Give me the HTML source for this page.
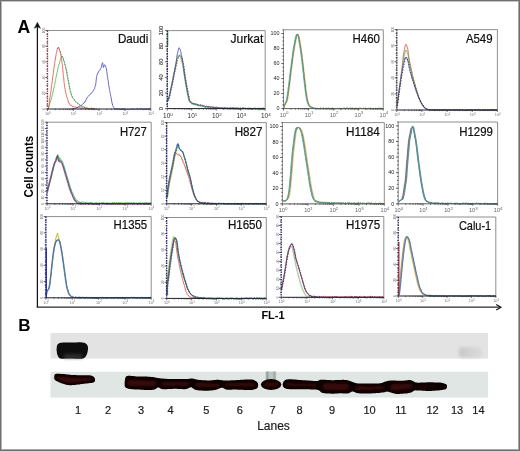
<!DOCTYPE html>
<html><head><meta charset="utf-8"><style>
html,body{margin:0;padding:0;background:#fff;}
svg{display:block;filter:blur(0.35px);}
text{font-family:'Liberation Sans', Arial, Helvetica, sans-serif;}
</style></head><body>
<svg width="520" height="451" viewBox="0 0 520 451">
<defs>
<filter id="b1" x="-20%" y="-50%" width="140%" height="200%"><feGaussianBlur stdDeviation="0.7"/></filter>
<filter id="b2" x="-20%" y="-50%" width="140%" height="200%"><feGaussianBlur stdDeviation="1.4"/></filter>
</defs>
<rect width="520" height="451" fill="#fff"/>
<!-- outer border -->
<rect x="0" y="0" width="1" height="451" fill="#6e6e6e"/>
<rect x="1" y="1" width="1" height="449" fill="#b4b4b4"/>
<rect x="0" y="0" width="520" height="1" fill="#707070"/>
<rect x="1" y="1" width="517" height="1" fill="#c4c4c4"/>
<rect x="519" y="0" width="1" height="451" fill="#6e6e6e"/>
<rect x="518" y="1" width="1" height="449" fill="#a8a8a8"/>
<rect x="0" y="450" width="520" height="1" fill="#6e6e6e"/>
<rect x="1" y="449" width="518" height="1" fill="#a8a8a8"/>

<!-- labels A -->
<text x="17.5" y="32.8" font-size="17.6" font-weight="bold" fill="#000">A</text>
<!-- axes -->
<line x1="37.4" y1="25" x2="37.4" y2="307.4" stroke="#151515" stroke-width="1.25"/>
<path d="M37.4,22.4 L40.4,28.2 L37.4,26.6 L34.4,28.2 Z" fill="#111" stroke="#111" stroke-width="0.6" stroke-linejoin="round"/>
<line x1="36.8" y1="307.2" x2="500" y2="307.2" stroke="#2a2a2a" stroke-width="1.2"/>
<path d="M496.2,304.5 L501,307.2 L496.2,309.9" fill="none" stroke="#111" stroke-width="1.1"/>
<text transform="translate(33,166.6) rotate(-90)" font-size="12" font-weight="bold" text-anchor="middle" textLength="61.6" lengthAdjust="spacingAndGlyphs" fill="#000">Cell counts</text>
<text x="273" y="318.6" font-size="11" font-weight="bold" text-anchor="middle" fill="#000">FL-1</text>

<path d="M47.5,30.5 H150.8 V109" fill="none" stroke="#8e8e8e" stroke-width="1"/>
<path d="M47.9,108.8 L48.1,108.1 L48.4,108.0 L48.6,106.9 L48.8,106.7 L49.1,105.8 L49.3,104.7 L49.6,104.3 L49.9,102.9 L50.2,102.4 L50.5,101.1 L50.8,100.2 L51.0,99.8 L51.2,99.5 L51.4,98.1 L51.6,97.4 L51.8,97.1 L52.0,96.6 L52.2,95.4 L52.4,94.4 L52.6,94.2 L52.8,92.4 L53.0,92.4 L53.2,91.0 L53.4,90.0 L53.6,89.1 L53.8,88.5 L54.0,88.1 L54.2,86.7 L54.3,86.3 L54.5,85.6 L54.7,84.5 L54.8,83.9 L55.0,82.6 L55.2,81.8 L55.3,81.1 L55.5,80.7 L55.6,79.6 L55.8,78.7 L55.9,78.1 L56.1,77.2 L56.3,76.2 L56.4,75.9 L56.6,75.0 L56.7,73.8 L56.9,73.4 L57.0,72.6 L57.2,72.3 L57.4,71.2 L57.6,69.9 L57.8,69.8 L58.0,68.1 L58.2,67.5 L58.4,67.1 L58.6,65.7 L58.8,65.2 L59.0,64.0 L59.2,63.9 L59.4,63.3 L59.6,62.4 L59.9,61.7 L60.2,60.1 L60.5,59.5 L60.8,58.4 L61.1,57.5 L61.4,56.6 L61.7,56.5 L62.0,56.4 L62.4,56.3 L62.8,57.2 L63.1,57.6 L63.5,59.3 L63.7,59.9 L63.9,60.9 L64.1,61.4 L64.3,61.6 L64.5,62.5 L64.7,63.6 L64.9,63.8 L65.1,65.2 L65.3,65.7 L65.5,66.6 L65.7,67.4 L65.9,69.0 L66.1,69.1 L66.2,70.0 L66.4,70.9 L66.5,72.2 L66.7,72.2 L66.8,73.4 L67.0,74.3 L67.1,75.4 L67.3,76.2 L67.4,77.0 L67.5,77.3 L67.7,78.2 L67.8,79.0 L68.0,80.3 L68.1,81.2 L68.3,81.2 L68.5,82.0 L68.6,82.9 L68.8,83.7 L68.9,84.8 L69.1,85.7 L69.2,86.2 L69.4,86.8 L69.6,88.0 L69.7,88.7 L69.9,89.7 L70.1,90.9 L70.3,91.4 L70.5,91.9 L70.7,92.7 L71.0,93.7 L71.3,93.9 L71.6,95.6 L72.0,96.4 L72.3,97.3 L72.7,98.0 L73.1,98.3 L73.5,99.0 L73.9,99.4 L74.4,100.6 L74.9,100.7 L75.5,101.3 L76.1,102.0 L76.7,102.4 L77.3,103.1 L77.9,103.4 L78.5,103.8 L79.2,104.4 L79.9,104.8 L80.6,105.5 L81.3,105.6 L82.0,106.8 L82.7,106.9 L83.5,106.8 L84.4,107.2 L85.3,107.5 L86.2,107.7 L87.1,107.6 L88.0,108.5 L88.8,108.8 L89.7,108.4 L90.5,108.5 L91.4,108.2 L92.3,108.3 L93.2,108.7 L94.1,108.7 L95.0,109.3" fill="none" stroke="#3cb043" stroke-width="0.77" stroke-linejoin="round"/>
<path d="M47.9,108.7 L48.2,108.3 L48.4,108.9 L48.5,108.0 L48.7,107.1 L48.8,106.9 L48.9,105.6 L49.0,105.3 L49.2,104.9 L49.3,103.8 L49.4,102.6 L49.5,101.2 L49.6,100.3 L49.7,99.0 L49.9,98.6 L50.0,97.4 L50.1,97.0 L50.2,95.8 L50.3,94.9 L50.4,94.8 L50.5,94.2 L50.6,93.3 L50.7,92.4 L50.8,91.7 L51.0,90.8 L51.1,89.4 L51.2,88.9 L51.3,87.9 L51.4,86.8 L51.5,86.0 L51.6,85.4 L51.7,84.5 L51.8,84.2 L52.0,83.6 L52.1,82.3 L52.2,81.9 L52.3,81.2 L52.4,80.4 L52.5,79.0 L52.6,78.0 L52.7,77.2 L52.8,76.4 L52.9,75.5 L53.0,75.1 L53.1,74.6 L53.3,73.7 L53.4,72.5 L53.5,71.9 L53.6,71.2 L53.7,69.7 L53.8,69.5 L53.9,68.9 L54.0,68.0 L54.1,67.1 L54.2,66.1 L54.3,65.0 L54.5,64.8 L54.6,63.6 L54.7,63.3 L54.8,62.8 L54.9,61.3 L55.1,60.4 L55.2,60.1 L55.4,59.0 L55.5,57.5 L55.7,56.6 L55.8,55.7 L56.0,55.6 L56.1,54.6 L56.3,53.2 L56.4,53.1 L56.6,52.5 L56.7,51.5 L56.9,50.5 L57.0,50.2 L57.2,49.2 L57.6,48.0 L58.0,48.0 L58.4,47.3 L58.7,47.5 L59.0,48.6 L59.4,49.0 L59.7,50.5 L60.0,51.5 L60.2,51.5 L60.3,52.2 L60.5,53.0 L60.6,53.7 L60.8,54.8 L60.9,55.2 L61.1,56.2 L61.2,56.8 L61.4,58.4 L61.5,58.7 L61.6,59.7 L61.8,60.7 L61.9,61.9 L62.0,62.2 L62.1,63.5 L62.2,63.8 L62.3,64.6 L62.4,65.4 L62.5,65.7 L62.6,66.9 L62.6,67.5 L62.7,68.1 L62.8,69.7 L62.9,69.9 L62.9,71.1 L63.0,72.1 L63.1,72.8 L63.2,73.4 L63.2,74.3 L63.3,75.2 L63.4,76.2 L63.5,76.3 L63.6,77.6 L63.7,78.1 L63.8,78.9 L63.9,80.2 L63.9,80.8 L64.0,81.7 L64.1,82.7 L64.2,83.6 L64.3,84.0 L64.4,84.9 L64.5,85.6 L64.6,86.4 L64.7,87.3 L64.8,87.9 L65.0,88.7 L65.1,89.4 L65.3,90.7 L65.4,91.3 L65.6,92.3 L65.8,93.3 L66.0,93.4 L66.2,94.5 L66.4,95.7 L66.6,96.4 L66.8,96.5 L67.0,97.2 L67.3,98.2 L67.5,98.6 L67.8,99.7 L68.1,100.4 L68.4,101.9 L68.7,102.8 L69.1,103.7 L69.5,103.7 L69.9,104.8 L70.6,105.4 L71.4,105.3 L72.2,106.4 L73.1,106.9 L73.8,106.4 L74.6,107.3 L75.4,106.9 L76.2,107.1 L77.1,107.7 L77.9,107.7 L78.7,107.2 L79.5,107.6 L80.4,107.9 L81.2,107.9 L82.1,107.8 L83.0,108.1 L84.0,108.6 L84.7,108.0 L85.5,108.6 L86.3,108.5 L87.1,108.2 L88.0,108.5 L88.9,108.9 L89.7,108.8 L90.6,108.4 L91.5,109.3 L92.4,109.2 L93.3,109.4 L94.1,108.6 L95.0,108.8" fill="none" stroke="#e23a2a" stroke-width="0.77" stroke-linejoin="round"/>
<path d="M57.8,48.0 L58.2,48.2 L58.6,47.4 L58.9,47.7 L59.3,48.9 L59.6,50.4 L59.9,51.1 L60.1,51.3 L60.4,52.0 L60.7,53.6 L61.0,54.1 L61.4,55.1 L61.7,55.3 L62.1,56.2 L62.5,57.7 L62.8,58.2 L63.1,58.6 L63.4,60.2 L63.7,60.7 L64.0,61.8 L64.2,61.8 L64.5,63.2 L64.7,63.2 L65.0,64.8 L65.2,65.2 L65.5,65.9 L65.7,66.9 L65.9,68.2 L66.2,68.4 L66.4,69.1 L66.6,70.3 L66.7,70.8 L66.9,71.4 L67.1,72.3 L67.2,73.0 L67.4,74.0 L67.6,75.0 L67.7,75.9 L67.9,77.2 L68.0,77.6 L68.2,78.7 L68.3,79.2 L68.5,80.2 L68.6,80.7 L68.8,81.8 L69.0,82.3 L69.1,83.9 L69.3,84.5 L69.4,85.0 L69.6,86.1 L69.7,87.3 L69.9,87.3 L70.1,88.8 L70.2,89.2 L70.4,90.1 L70.6,91.2 L70.8,91.5 L71.0,92.3 L71.2,93.2 L71.5,94.4 L71.8,94.6 L72.1,96.0 L72.5,96.7 L72.8,97.4 L73.2,98.0 L73.6,98.7 L74.0,99.1 L74.4,99.8 L74.9,100.5 L75.4,101.8 L76.0,101.9 L76.6,102.3 L77.2,102.8 L77.8,104.0 L78.4,104.6 L79.1,104.9 L79.9,105.1 L80.7,105.5 L81.5,106.0 L82.4,106.6 L83.2,106.7 L84.0,107.3 L84.9,107.4 L85.8,108.3 L86.7,108.5 L87.6,108.3 L88.5,108.1 L89.3,109.0 L90.1,108.4 L90.9,108.6 L91.7,108.3 L92.5,108.7 L93.4,108.8 L94.2,108.9 L95.0,108.7" fill="none" stroke="#555" stroke-width="0.68" stroke-linejoin="round" stroke-dasharray="1.2,1.6"/>
<path d="M72.0,109.0 L72.8,108.4 L73.6,108.6 L74.4,108.4 L75.2,108.6 L76.0,108.0 L76.8,107.6 L77.7,107.4 L78.5,106.8 L79.3,106.6 L80.0,106.0 L80.9,105.7 L81.7,105.0 L82.5,104.4 L83.1,104.0 L83.8,103.0 L84.4,102.3 L85.0,102.2 L85.4,100.7 L85.8,100.6 L86.1,99.7 L86.5,98.3 L86.8,98.3 L87.2,97.7 L87.6,96.8 L88.4,96.1 L89.2,95.6 L90.0,94.2 L90.7,93.9 L91.3,93.2 L92.0,92.8 L92.6,91.9 L93.0,91.3 L93.4,90.4 L93.8,90.1 L94.2,89.2 L94.6,88.4 L94.9,87.2 L95.2,86.1 L95.4,85.6 L95.6,85.0 L95.7,84.0 L95.8,83.9 L95.9,82.7 L96.0,81.9 L96.1,80.9 L96.2,80.1 L96.3,79.0 L96.4,77.6 L96.5,77.6 L96.7,76.8 L96.8,75.8 L97.0,75.2 L97.3,74.4 L97.7,73.1 L98.1,73.0 L98.5,71.8 L98.9,71.0 L99.4,70.4 L99.9,70.1 L100.4,68.9 L100.8,68.5 L101.1,68.0 L101.4,66.5 L101.6,65.3 L101.9,64.3 L102.1,63.6 L102.3,63.1 L102.5,62.7 L102.7,63.1 L102.8,63.5 L102.9,64.7 L103.1,66.0 L103.2,67.5 L103.4,67.4 L103.8,67.0 L104.2,65.3 L104.6,64.7 L105.3,65.5 L105.9,67.2 L106.1,67.8 L106.3,68.5 L106.4,69.0 L106.6,70.0 L106.7,70.9 L106.8,71.9 L107.0,72.5 L107.1,74.3 L107.2,74.3 L107.3,75.8 L107.4,76.5 L107.5,76.4 L107.7,77.6 L107.8,78.8 L107.9,79.7 L108.0,80.1 L108.1,80.7 L108.3,81.5 L108.4,83.1 L108.5,83.1 L108.6,84.3 L108.7,84.7 L108.9,85.9 L109.0,87.1 L109.2,87.1 L109.3,88.7 L109.5,89.2 L109.6,90.5 L109.8,91.1 L109.9,91.5 L110.1,93.0 L110.2,93.4 L110.4,93.8 L110.6,94.6 L110.7,95.9 L110.9,96.7 L111.1,97.3 L111.2,98.0 L111.4,99.1 L111.5,100.0 L111.7,101.4 L111.8,101.4 L112.0,102.9 L112.2,103.8 L112.4,103.8 L112.6,105.3 L112.8,105.7 L113.2,106.8 L113.6,107.1 L114.1,107.8 L114.7,108.4 L115.3,109.3 L116.0,109.0 L116.9,108.8 L118.0,108.9 L118.4,108.8 L118.8,108.6 L119.3,108.7 L119.8,109.4 L120.4,108.9 L121.0,109.6 L121.6,108.9 L122.2,108.9 L122.9,109.2 L123.6,108.9 L124.4,109.0 L125.1,109.6 L125.9,109.6 L126.7,109.5 L127.5,109.3 L128.3,109.6 L129.2,109.6 L130.0,109.2 L130.9,109.4 L131.8,108.7 L132.7,109.4 L133.6,109.1 L134.6,109.4 L135.5,109.3 L136.4,108.9 L137.4,108.6 L138.3,109.5 L139.2,108.7 L140.2,109.0 L141.1,108.9 L142.0,108.9 L143.0,109.3 L143.9,109.5 L144.8,108.8 L145.7,109.2 L146.6,108.8 L147.5,109.1 L148.3,108.9 L149.2,108.7 L150.0,108.7 L150.8,108.7" fill="none" stroke="#3c3cb4" stroke-width="0.77" stroke-linejoin="round"/>
<line x1="47.5" y1="109" x2="150.8" y2="109" stroke="#1c1c2c" stroke-width="1"/>
<line x1="47.5" y1="30.5" x2="47.5" y2="109" stroke="#a04848" stroke-width="1.3" stroke-dasharray="1.6,0.9"/>
<path d="M45.3,109 H47.8 M46.4,105.08 H47.8 M46.4,101.15 H47.8 M46.4,97.22 H47.8 M45.3,93.3 H47.8 M46.4,89.38 H47.8 M46.4,85.45 H47.8 M46.4,81.53 H47.8 M45.3,77.6 H47.8 M46.4,73.67 H47.8 M46.4,69.75 H47.8 M46.4,65.83 H47.8 M45.3,61.9 H47.8 M46.4,57.98 H47.8 M46.4,54.05 H47.8 M46.4,50.12 H47.8 M45.3,46.2 H47.8 M46.4,42.28 H47.8 M46.4,38.35 H47.8 M46.4,34.42 H47.8 M45.3,30.5 H47.8" stroke="#2a2a3a" stroke-width="0.75"/>
<path d="M47.5,108.7 V111 M55.27,108.7 V110.1 M59.82,108.7 V110.1 M63.05,108.7 V110.1 M65.55,108.7 V110.1 M67.6,108.7 V110.1 M69.32,108.7 V110.1 M70.82,108.7 V110.1 M72.14,108.7 V110.1 M73.33,108.7 V111 M81.1,108.7 V110.1 M85.65,108.7 V110.1 M88.87,108.7 V110.1 M91.38,108.7 V110.1 M93.42,108.7 V110.1 M95.15,108.7 V110.1 M96.65,108.7 V110.1 M97.97,108.7 V110.1 M99.15,108.7 V111 M106.92,108.7 V110.1 M111.47,108.7 V110.1 M114.7,108.7 V110.1 M117.2,108.7 V110.1 M119.25,108.7 V110.1 M120.97,108.7 V110.1 M122.47,108.7 V110.1 M123.79,108.7 V110.1 M124.98,108.7 V111 M132.75,108.7 V110.1 M137.3,108.7 V110.1 M140.52,108.7 V110.1 M143.03,108.7 V110.1 M145.07,108.7 V110.1 M146.8,108.7 V110.1 M148.3,108.7 V110.1 M149.62,108.7 V110.1 M150.8,109 V111" stroke="#3a3a3a" stroke-width="0.7"/>
<text transform="translate(44.9,109) rotate(-90)" font-size="3.4" text-anchor="middle" fill="#777">0</text>
<text transform="translate(44.9,93.3) rotate(-90)" font-size="3.4" text-anchor="middle" fill="#777">20</text>
<text transform="translate(44.9,77.6) rotate(-90)" font-size="3.4" text-anchor="middle" fill="#777">40</text>
<text transform="translate(44.9,61.9) rotate(-90)" font-size="3.4" text-anchor="middle" fill="#777">60</text>
<text transform="translate(44.9,46.2) rotate(-90)" font-size="3.4" text-anchor="middle" fill="#777">80</text>
<text transform="translate(44.9,30.5) rotate(-90)" font-size="3.4" text-anchor="middle" fill="#777">100</text>
<text x="47.8" y="115" font-size="3.8" text-anchor="middle" fill="#777">10<tspan font-size="2.8" dy="-1.5">0</tspan></text>
<text x="73.62" y="115" font-size="3.8" text-anchor="middle" fill="#777">10<tspan font-size="2.8" dy="-1.5">1</tspan></text>
<text x="99.45" y="115" font-size="3.8" text-anchor="middle" fill="#777">10<tspan font-size="2.8" dy="-1.5">2</tspan></text>
<text x="125.28" y="115" font-size="3.8" text-anchor="middle" fill="#777">10<tspan font-size="2.8" dy="-1.5">3</tspan></text>
<text x="151.1" y="115" font-size="3.8" text-anchor="middle" fill="#777">10<tspan font-size="2.8" dy="-1.5">4</tspan></text>
<text x="117.9" y="42.8" font-size="11.9" textLength="30.4" lengthAdjust="spacingAndGlyphs" fill="#111" stroke="#111" stroke-width="0.22">Daudi</text>
<path d="M167.3,30.6 H265.2 V108.6" fill="none" stroke="#8e8e8e" stroke-width="1"/>
<path d="M167.7,101.4 L168.3,100.1 L168.9,98.7 L169.1,98.8 L169.3,98.2 L169.5,96.8 L169.7,95.7 L169.9,94.8 L170.1,93.8 L170.3,93.1 L170.5,92.0 L170.7,91.2 L170.9,90.4 L171.1,89.9 L171.3,89.4 L171.4,88.5 L171.6,87.3 L171.8,86.5 L172.0,85.7 L172.2,84.8 L172.3,83.9 L172.5,82.8 L172.7,82.2 L172.8,82.1 L173.0,80.5 L173.1,80.1 L173.3,79.4 L173.4,78.8 L173.6,77.4 L173.7,76.6 L173.9,75.8 L174.0,75.2 L174.2,74.4 L174.4,74.1 L174.6,73.1 L174.7,72.3 L174.9,70.6 L175.1,69.7 L175.3,69.6 L175.4,68.9 L175.6,67.6 L175.8,66.9 L176.0,65.5 L176.2,65.0 L176.4,64.7 L176.6,63.7 L176.7,62.8 L176.9,62.1 L177.1,60.5 L177.3,59.6 L177.6,58.9 L177.8,58.5 L178.2,57.6 L178.6,56.7 L179.1,55.6 L179.6,55.1 L180.4,55.7 L181.2,56.5 L181.5,57.1 L181.8,57.3 L182.0,58.8 L182.3,59.1 L182.5,60.6 L182.7,61.3 L182.9,61.9 L183.1,62.6 L183.3,63.5 L183.4,64.6 L183.5,65.4 L183.7,65.7 L183.8,66.4 L183.9,67.7 L184.1,68.6 L184.2,69.3 L184.3,70.0 L184.4,71.2 L184.5,71.5 L184.7,72.6 L184.8,73.5 L184.9,74.8 L185.0,75.3 L185.2,76.4 L185.3,76.8 L185.4,77.4 L185.6,78.2 L185.7,79.8 L185.8,80.3 L185.9,80.7 L186.1,81.2 L186.2,82.5 L186.3,83.6 L186.5,84.2 L186.7,84.9 L186.8,86.2 L187.0,87.3 L187.1,87.5 L187.3,88.2 L187.4,89.3 L187.6,90.2 L187.8,91.4 L188.0,91.9 L188.1,93.4 L188.3,94.2 L188.5,94.8 L188.7,95.4 L188.9,97.0 L189.1,97.3 L189.3,98.8 L189.5,99.1 L189.8,100.0 L190.2,101.3 L190.7,101.5 L191.4,102.7 L192.1,102.8 L192.9,102.9 L193.7,103.3 L194.5,103.7 L195.4,104.2 L196.3,104.7 L197.3,104.1 L198.0,104.6 L198.8,104.6 L199.5,105.5 L200.3,104.8 L201.1,104.9 L202.0,105.1 L202.8,105.6 L203.6,106.3 L204.4,106.4 L205.3,106.4 L206.1,106.8 L207.0,106.9 L207.8,106.4 L208.7,106.4 L209.6,107.2 L210.5,107.1 L211.4,106.5 L212.2,107.3 L212.9,107.1 L213.7,107.1 L214.4,107.2 L215.2,107.1 L216.0,107.0 L216.8,107.3 L217.7,107.5 L218.5,108.1 L219.4,107.4 L220.4,108.3 L221.1,107.5 L221.7,107.7 L222.4,108.2 L223.1,108.3 L223.9,107.9 L224.6,107.5 L225.4,108.0 L226.1,107.9 L226.9,108.5 L227.7,107.8 L228.5,108.0 L229.4,108.5 L230.2,107.7 L231.0,108.1 L231.9,108.5 L232.7,108.4 L233.6,107.7 L234.4,107.7 L235.3,107.8 L236.1,108.6 L237.0,108.0 L237.8,108.5 L238.7,108.7 L239.6,108.1 L240.4,108.1 L241.2,108.8 L241.9,108.4 L242.7,108.1 L243.5,108.6 L244.3,108.2 L245.1,108.2 L245.9,107.9 L246.7,108.7 L247.5,108.8 L248.3,108.6 L249.1,108.9 L249.9,108.0 L250.7,108.2 L251.5,108.4 L252.3,108.9 L253.1,108.9 L254.0,108.4 L254.8,108.2 L255.6,108.4 L256.4,108.5 L257.2,108.9 L258.1,108.2 L258.9,108.8 L259.7,108.8 L260.5,108.9 L261.3,108.8 L262.2,108.7 L263.0,108.4 L263.8,108.4 L264.6,108.5 L265.4,108.9" fill="none" stroke="#e0a030" stroke-width="0.77" stroke-linejoin="round"/>
<path d="M166.9,101.4 L167.5,100.6 L168.1,100.1 L168.3,98.9 L168.5,98.0 L168.7,97.2 L168.9,96.9 L169.1,95.8 L169.3,95.5 L169.5,94.5 L169.7,93.7 L169.9,92.1 L170.1,91.1 L170.3,90.3 L170.5,89.8 L170.6,89.2 L170.8,88.1 L171.0,87.1 L171.2,86.4 L171.4,85.8 L171.5,85.0 L171.7,84.2 L171.9,83.6 L172.0,82.6 L172.2,81.3 L172.3,81.2 L172.5,79.8 L172.6,79.3 L172.8,78.3 L172.9,77.9 L173.1,76.6 L173.2,75.8 L173.4,75.0 L173.6,74.1 L173.8,74.0 L173.9,72.8 L174.1,71.7 L174.3,70.9 L174.5,70.6 L174.6,69.3 L174.8,68.2 L175.0,67.9 L175.2,67.0 L175.4,66.4 L175.6,64.6 L175.8,64.1 L175.9,63.6 L176.1,62.7 L176.3,62.0 L176.5,60.3 L176.8,59.8 L177.0,58.9 L177.4,57.9 L177.8,57.5 L178.3,56.3 L178.8,56.2 L179.6,56.1 L180.4,57.7 L180.7,57.8 L181.0,58.3 L181.2,59.6 L181.5,60.6 L181.7,60.6 L181.9,62.0 L182.1,63.0 L182.3,63.5 L182.5,64.4 L182.6,64.9 L182.7,65.7 L182.9,66.6 L183.0,67.8 L183.1,68.7 L183.3,69.1 L183.4,69.7 L183.5,70.9 L183.6,72.1 L183.7,72.4 L183.9,73.4 L184.0,74.0 L184.1,75.4 L184.2,76.0 L184.4,76.4 L184.5,77.3 L184.6,78.4 L184.8,79.3 L184.9,80.2 L185.0,80.5 L185.1,81.4 L185.3,82.7 L185.4,83.2 L185.5,84.0 L185.7,84.9 L185.9,86.4 L186.0,86.6 L186.2,87.8 L186.3,88.4 L186.5,89.3 L186.6,90.6 L186.8,91.6 L187.0,91.9 L187.2,92.7 L187.3,94.1 L187.5,94.5 L187.7,95.1 L187.9,96.9 L188.1,97.2 L188.3,98.6 L188.5,99.2 L188.7,100.6 L189.0,101.0 L189.4,101.5 L189.9,102.0 L190.6,103.1 L191.3,103.7 L192.1,104.4 L192.9,103.9 L193.7,104.7 L194.6,104.7 L195.5,105.1 L196.5,104.9 L197.2,105.3 L198.0,105.7 L198.7,106.3 L199.5,105.6 L200.3,106.2 L201.2,106.6 L202.0,107.0 L202.8,106.4 L203.6,106.4 L204.5,107.4 L205.3,107.6 L206.2,107.2 L207.0,106.9 L207.9,107.9 L208.8,107.5 L209.7,108.1 L210.6,107.9 L211.4,108.2 L212.1,107.6 L212.9,108.3 L213.6,107.9 L214.4,108.1 L215.2,108.6 L216.0,108.7 L216.9,108.1 L217.7,108.2 L218.6,108.4 L219.6,108.6 L220.3,108.5 L220.9,108.3 L221.6,108.4 L222.3,109.0 L223.1,109.2 L223.8,108.3 L224.6,108.9 L225.3,109.1 L226.1,108.4 L226.9,109.2 L227.7,108.5 L228.6,109.0 L229.4,109.0 L230.2,109.1 L231.1,108.8 L231.9,108.9 L232.8,109.1 L233.6,108.9 L234.5,109.2 L235.3,109.0 L236.2,109.0 L237.0,108.6 L237.9,109.2 L238.8,109.1 L239.6,108.8 L240.4,109.4 L241.1,109.4 L241.9,109.1 L242.7,108.8 L243.5,109.1 L244.3,108.8 L245.1,108.8 L245.9,109.1 L246.7,108.8 L247.5,109.2 L248.3,109.2 L249.1,108.8 L249.9,109.4 L250.7,108.8 L251.5,109.5 L252.3,109.5 L253.2,109.3 L254.0,108.8 L254.8,109.3 L255.6,109.2 L256.4,109.8 L257.3,109.0 L258.1,109.7 L258.9,109.8 L259.7,109.6 L260.5,109.7 L261.4,109.1 L262.2,109.9 L263.0,109.4 L263.8,109.8 L264.6,109.8" fill="none" stroke="#3cb043" stroke-width="0.77" stroke-linejoin="round"/>
<path d="M167.9,100.9 L168.5,100.6 L169.1,99.6 L169.3,98.2 L169.5,97.7 L169.7,97.3 L169.9,95.9 L170.1,95.7 L170.3,94.2 L170.5,93.8 L170.7,92.2 L170.9,91.7 L171.1,91.3 L171.3,89.8 L171.5,89.0 L171.6,88.4 L171.8,87.4 L172.0,86.3 L172.2,85.6 L172.4,84.7 L172.5,84.7 L172.7,83.6 L172.9,83.0 L173.0,81.5 L173.2,81.3 L173.3,79.9 L173.5,79.5 L173.6,78.8 L173.8,77.7 L173.9,77.4 L174.1,76.3 L174.2,75.6 L174.4,75.1 L174.6,73.4 L174.8,73.5 L174.9,72.3 L175.1,71.2 L175.3,70.7 L175.5,69.3 L175.6,69.2 L175.8,67.9 L176.0,66.9 L176.2,66.5 L176.4,65.3 L176.6,64.1 L176.8,63.8 L176.9,62.2 L177.1,62.1 L177.3,60.7 L177.5,60.3 L177.8,59.9 L178.0,58.8 L178.4,57.7 L178.8,56.3 L179.3,55.1 L179.8,54.7 L180.6,55.3 L181.4,56.8 L181.7,57.2 L182.0,57.9 L182.2,59.1 L182.5,59.2 L182.7,60.1 L182.9,61.5 L183.1,61.8 L183.3,62.7 L183.5,63.8 L183.6,64.3 L183.7,65.3 L183.9,66.0 L184.0,67.2 L184.1,68.0 L184.3,68.5 L184.4,69.7 L184.5,70.4 L184.6,70.9 L184.7,72.6 L184.9,72.7 L185.0,73.4 L185.1,74.1 L185.2,75.5 L185.4,76.6 L185.5,77.3 L185.6,77.8 L185.8,78.5 L185.9,79.0 L186.0,80.4 L186.1,81.2 L186.3,81.7 L186.4,82.8 L186.5,83.5 L186.7,84.9 L186.9,85.6 L187.0,86.0 L187.2,87.5 L187.3,87.5 L187.5,88.9 L187.6,89.6 L187.8,90.2 L188.0,91.0 L188.2,92.6 L188.3,92.8 L188.5,94.2 L188.7,95.5 L188.9,95.5 L189.1,96.4 L189.3,97.8 L189.5,98.7 L189.7,99.7 L190.0,100.8 L190.4,100.9 L190.9,101.7 L191.6,102.3 L192.3,102.5 L193.1,103.8 L193.9,104.0 L194.7,104.2 L195.6,103.8 L196.5,104.8 L197.5,104.9 L198.2,104.8 L199.0,105.3 L199.7,105.2 L200.5,105.1 L201.3,105.2 L202.2,105.5 L203.0,105.4 L203.8,105.9 L204.6,106.4 L205.5,106.5 L206.3,106.8 L207.2,106.8 L208.0,106.5 L208.9,106.9 L209.8,106.9 L210.7,107.4 L211.6,107.2 L212.4,107.1 L213.1,107.5 L213.9,107.9 L214.6,107.2 L215.4,108.0 L216.2,107.2 L217.0,107.5 L217.9,107.6 L218.7,108.1 L219.6,108.4 L220.6,108.2 L221.3,107.9 L221.9,108.4 L222.6,107.9 L223.3,107.9 L224.1,108.6 L224.8,108.3 L225.6,108.4 L226.3,108.4 L227.1,108.7 L227.9,108.2 L228.7,108.6 L229.6,108.5 L230.4,108.7 L231.2,108.3 L232.1,108.6 L232.9,108.4 L233.8,108.2 L234.6,108.1 L235.5,108.5 L236.3,108.0 L237.2,108.9 L238.0,108.1 L238.9,108.0 L239.8,108.1 L240.6,108.9 L241.4,108.4 L242.1,108.2 L242.9,108.1 L243.7,108.1 L244.5,108.8 L245.3,108.7 L246.1,108.8 L246.9,108.8 L247.7,108.2 L248.5,108.7 L249.3,108.5 L250.1,109.0 L250.9,109.0 L251.7,109.0 L252.5,108.2 L253.3,109.0 L254.2,109.1 L255.0,109.1 L255.8,108.3 L256.6,108.4 L257.4,108.3 L258.3,108.3 L259.1,109.1 L259.9,109.0 L260.7,108.9 L261.5,109.1 L262.4,108.9 L263.2,108.6 L264.0,108.4 L264.8,108.4 L265.6,109.1" fill="none" stroke="#333" stroke-width="0.77" stroke-linejoin="round" stroke-dasharray="1.2,1.6"/>
<path d="M167.3,100.7 L167.9,99.9 L168.5,98.9 L168.7,97.9 L168.9,97.4 L169.1,96.7 L169.3,96.2 L169.5,95.0 L169.7,94.0 L169.9,93.8 L170.1,92.4 L170.3,91.9 L170.5,90.8 L170.7,89.4 L170.9,89.0 L171.0,88.2 L171.2,87.7 L171.4,86.4 L171.6,85.9 L171.8,84.9 L171.9,83.8 L172.1,83.6 L172.3,82.0 L172.4,82.0 L172.6,80.5 L172.7,79.6 L172.9,79.0 L173.0,78.7 L173.2,78.2 L173.3,76.4 L173.5,76.1 L173.6,75.3 L173.8,74.8 L174.0,73.4 L174.1,72.9 L174.3,71.9 L174.5,71.6 L174.6,70.2 L174.8,70.1 L175.0,68.6 L175.1,67.7 L175.3,67.4 L175.4,66.3 L175.6,65.1 L175.7,64.8 L175.9,63.5 L176.0,63.4 L176.1,62.4 L176.2,61.7 L176.4,60.6 L176.5,59.5 L176.6,58.7 L176.7,57.9 L176.8,57.6 L177.0,56.0 L177.1,56.1 L177.2,54.5 L177.4,53.8 L177.5,53.0 L177.7,52.8 L177.9,51.5 L178.0,50.7 L178.2,50.5 L178.4,49.2 L178.8,48.3 L179.2,47.7 L179.7,48.6 L180.2,49.8 L180.4,50.3 L180.6,50.8 L180.8,51.6 L181.0,52.3 L181.1,53.9 L181.3,54.7 L181.5,55.5 L181.6,55.7 L181.8,56.8 L181.9,57.9 L182.1,58.5 L182.2,58.9 L182.4,60.1 L182.5,61.5 L182.7,61.7 L182.8,62.4 L182.9,63.3 L183.1,64.5 L183.2,65.5 L183.3,65.6 L183.4,66.5 L183.6,67.4 L183.7,68.4 L183.8,69.4 L183.9,69.9 L184.0,70.9 L184.2,71.6 L184.3,73.2 L184.4,73.8 L184.5,73.9 L184.6,75.7 L184.8,75.7 L184.9,76.8 L185.0,78.2 L185.2,78.8 L185.3,79.5 L185.4,80.0 L185.5,80.6 L185.7,81.8 L185.8,82.1 L185.9,83.1 L186.1,84.2 L186.3,84.7 L186.4,85.9 L186.6,87.2 L186.7,88.0 L186.9,88.6 L187.0,89.6 L187.2,90.3 L187.4,90.9 L187.6,92.3 L187.7,93.0 L187.9,94.2 L188.1,95.2 L188.3,95.6 L188.5,96.6 L188.7,97.7 L188.9,98.4 L189.1,99.1 L189.4,100.5 L189.8,101.4 L190.3,102.0 L191.0,102.5 L191.7,103.1 L192.5,103.4 L193.3,103.7 L194.1,103.8 L195.0,103.9 L195.9,104.4 L196.9,104.1 L197.6,104.6 L198.4,105.1 L199.1,105.2 L199.9,105.3 L200.7,105.1 L201.6,105.5 L202.4,105.7 L203.2,106.0 L204.0,105.9 L204.9,106.3 L205.7,106.7 L206.6,106.1 L207.4,106.7 L208.3,106.9 L209.2,106.7 L210.1,106.9 L211.0,107.5 L211.8,106.6 L212.5,107.2 L213.3,106.9 L214.0,107.6 L214.8,107.8 L215.6,107.5 L216.4,107.2 L217.3,107.7 L218.1,107.7 L219.0,108.0 L220.0,107.8 L220.7,108.0 L221.3,108.2 L222.0,107.9 L222.7,107.8 L223.5,108.4 L224.2,107.7 L225.0,108.2 L225.7,107.9 L226.5,108.3 L227.3,107.7 L228.1,108.6 L229.0,108.0 L229.8,107.7 L230.6,107.9 L231.5,108.1 L232.3,107.7 L233.2,108.1 L234.0,108.1 L234.9,108.4 L235.7,108.1 L236.6,108.0 L237.4,108.0 L238.3,108.5 L239.2,108.7 L240.0,108.3 L240.8,108.0 L241.5,108.6 L242.3,108.2 L243.1,108.1 L243.9,108.0 L244.7,108.7 L245.5,108.7 L246.3,108.5 L247.1,108.4 L247.9,108.5 L248.7,108.2 L249.5,108.9 L250.3,108.3 L251.1,108.6 L251.9,108.8 L252.7,108.8 L253.6,108.4 L254.4,108.3 L255.2,108.5 L256.0,108.1 L256.8,108.8 L257.7,108.4 L258.5,108.9 L259.3,108.3 L260.1,108.4 L260.9,108.3 L261.8,108.5 L262.6,108.3 L263.4,108.1 L264.2,108.8 L265.0,108.4" fill="none" stroke="#3c3cb4" stroke-width="0.85" stroke-linejoin="round"/>
<line x1="167.8" y1="30.8" x2="167.8" y2="46" stroke="#40b040" stroke-width="1.0"/>
<line x1="167.3" y1="108.6" x2="265.2" y2="108.6" stroke="#1c1c2c" stroke-width="1"/>
<line x1="167.3" y1="30.6" x2="167.3" y2="108.6" stroke="#2a2a5a" stroke-width="1.3" stroke-dasharray="1.6,0.9"/>
<path d="M165.1,108.6 H167.6 M166.2,104.7 H167.6 M166.2,100.8 H167.6 M166.2,96.9 H167.6 M165.1,93 H167.6 M166.2,89.1 H167.6 M166.2,85.2 H167.6 M166.2,81.3 H167.6 M165.1,77.4 H167.6 M166.2,73.5 H167.6 M166.2,69.6 H167.6 M166.2,65.7 H167.6 M165.1,61.8 H167.6 M166.2,57.9 H167.6 M166.2,54 H167.6 M166.2,50.1 H167.6 M165.1,46.2 H167.6 M166.2,42.3 H167.6 M166.2,38.4 H167.6 M166.2,34.5 H167.6 M165.1,30.6 H167.6" stroke="#2a2a3a" stroke-width="0.75"/>
<path d="M167.3,108.3 V110.6 M174.67,108.3 V109.7 M178.98,108.3 V109.7 M182.04,108.3 V109.7 M184.41,108.3 V109.7 M186.35,108.3 V109.7 M187.98,108.3 V109.7 M189.4,108.3 V109.7 M190.66,108.3 V109.7 M191.78,108.3 V110.6 M199.14,108.3 V109.7 M203.45,108.3 V109.7 M206.51,108.3 V109.7 M208.88,108.3 V109.7 M210.82,108.3 V109.7 M212.46,108.3 V109.7 M213.88,108.3 V109.7 M215.13,108.3 V109.7 M216.25,108.3 V110.6 M223.62,108.3 V109.7 M227.93,108.3 V109.7 M230.99,108.3 V109.7 M233.36,108.3 V109.7 M235.3,108.3 V109.7 M236.93,108.3 V109.7 M238.35,108.3 V109.7 M239.61,108.3 V109.7 M240.72,108.3 V110.6 M248.09,108.3 V109.7 M252.4,108.3 V109.7 M255.46,108.3 V109.7 M257.83,108.3 V109.7 M259.77,108.3 V109.7 M261.41,108.3 V109.7 M262.83,108.3 V109.7 M264.08,108.3 V109.7 M265.2,108.6 V110.6" stroke="#3a3a3a" stroke-width="0.7"/>
<text transform="translate(162.5,108.6) rotate(-90)" font-size="5.7" text-anchor="middle" fill="#3a3a3a" stroke="#3a3a3a" stroke-width="0.15">0</text>
<text transform="translate(162.5,93) rotate(-90)" font-size="5.7" text-anchor="middle" fill="#3a3a3a" stroke="#3a3a3a" stroke-width="0.15">20</text>
<text transform="translate(162.5,77.4) rotate(-90)" font-size="5.7" text-anchor="middle" fill="#3a3a3a" stroke="#3a3a3a" stroke-width="0.15">40</text>
<text transform="translate(162.5,61.8) rotate(-90)" font-size="5.7" text-anchor="middle" fill="#3a3a3a" stroke="#3a3a3a" stroke-width="0.15">60</text>
<text transform="translate(162.5,46.2) rotate(-90)" font-size="5.7" text-anchor="middle" fill="#3a3a3a" stroke="#3a3a3a" stroke-width="0.15">80</text>
<text transform="translate(162.5,30.6) rotate(-90)" font-size="5.7" text-anchor="middle" fill="#3a3a3a" stroke="#3a3a3a" stroke-width="0.15">100</text>
<text x="167.9" y="118.2" font-size="6.4" text-anchor="middle" fill="#2a2a2a">10<tspan font-size="4.4" dy="-2.5">0</tspan></text>
<text x="192.38" y="118.2" font-size="6.4" text-anchor="middle" fill="#2a2a2a">10<tspan font-size="4.4" dy="-2.5">1</tspan></text>
<text x="216.85" y="118.2" font-size="6.4" text-anchor="middle" fill="#2a2a2a">10<tspan font-size="4.4" dy="-2.5">2</tspan></text>
<text x="241.32" y="118.2" font-size="6.4" text-anchor="middle" fill="#2a2a2a">10<tspan font-size="4.4" dy="-2.5">3</tspan></text>
<text x="265.8" y="118.2" font-size="6.4" text-anchor="middle" fill="#2a2a2a">10<tspan font-size="4.4" dy="-2.5">4</tspan></text>
<text x="230.4" y="42.8" font-size="11.9" textLength="32.9" lengthAdjust="spacingAndGlyphs" fill="#111" stroke="#111" stroke-width="0.22">Jurkat</text>
<path d="M283.5,29.8 H383.3 V108.6" fill="none" stroke="#8e8e8e" stroke-width="1"/>
<path d="M284.4,107.7 L284.4,107.0 L284.6,106.2 L284.8,105.5 L285.2,105.1 L285.6,104.4 L286.0,103.3 L286.5,103.1 L286.9,102.1 L287.2,100.5 L287.4,100.5 L287.6,99.9 L287.8,99.0 L287.9,97.6 L288.0,97.5 L288.2,96.5 L288.3,95.0 L288.4,94.2 L288.5,94.3 L288.6,93.1 L288.8,91.8 L288.9,90.8 L289.0,89.9 L289.1,89.3 L289.2,89.0 L289.3,87.8 L289.4,86.8 L289.6,86.7 L289.7,85.7 L289.8,84.3 L289.9,84.1 L290.0,83.0 L290.1,82.3 L290.2,81.4 L290.3,80.7 L290.4,79.8 L290.5,79.0 L290.6,77.5 L290.7,77.1 L290.8,76.1 L290.9,75.5 L291.0,74.4 L291.1,74.0 L291.2,72.8 L291.3,71.7 L291.4,70.8 L291.5,69.8 L291.6,69.4 L291.8,68.1 L291.9,67.6 L292.0,66.5 L292.1,66.0 L292.2,65.2 L292.3,64.4 L292.4,63.9 L292.5,62.2 L292.6,62.2 L292.7,61.0 L292.8,60.3 L292.9,59.5 L293.0,58.8 L293.2,57.5 L293.3,56.7 L293.4,56.4 L293.5,54.7 L293.6,54.4 L293.7,53.6 L293.8,52.2 L293.9,52.0 L294.1,51.3 L294.2,50.7 L294.3,49.3 L294.4,49.1 L294.6,47.8 L294.7,46.9 L294.9,46.4 L295.0,44.7 L295.2,44.5 L295.4,43.6 L295.5,42.5 L295.7,42.3 L295.8,41.0 L296.0,40.4 L296.1,39.8 L296.3,39.1 L296.5,37.5 L296.7,36.9 L296.9,36.1 L297.1,35.6 L297.5,35.1 L297.9,34.2 L298.4,35.1 L298.8,35.4 L299.0,36.2 L299.2,36.7 L299.4,37.9 L299.6,39.4 L299.7,39.7 L299.9,40.5 L300.0,40.7 L300.1,41.5 L300.3,42.3 L300.4,43.4 L300.6,44.3 L300.7,45.3 L300.8,45.5 L301.0,47.0 L301.1,48.1 L301.3,48.7 L301.4,49.0 L301.5,50.1 L301.6,50.6 L301.7,51.6 L301.8,53.1 L302.0,53.6 L302.1,54.5 L302.2,55.4 L302.3,56.4 L302.4,57.0 L302.5,57.8 L302.6,58.7 L302.7,59.6 L302.8,60.4 L302.9,61.3 L303.0,61.7 L303.1,63.0 L303.2,63.7 L303.3,64.7 L303.4,64.9 L303.5,65.7 L303.6,66.4 L303.7,67.9 L303.7,68.8 L303.8,69.4 L303.9,69.9 L304.0,71.2 L304.1,71.9 L304.2,72.5 L304.3,73.0 L304.4,73.9 L304.5,74.8 L304.6,75.5 L304.6,76.4 L304.7,77.4 L304.8,78.5 L304.9,78.4 L305.0,79.7 L305.1,80.0 L305.2,80.9 L305.3,82.5 L305.4,83.1 L305.5,84.4 L305.6,84.8 L305.7,85.2 L305.8,86.4 L305.9,87.5 L306.0,88.7 L306.1,89.6 L306.2,89.9 L306.3,90.6 L306.4,91.1 L306.5,92.4 L306.6,92.8 L306.7,93.5 L306.8,94.2 L307.0,95.1 L307.1,96.7 L307.3,97.0 L307.4,98.7 L307.6,98.7 L307.7,100.2 L307.9,100.3 L308.1,100.9 L308.3,102.3 L308.5,102.4 L308.9,104.0 L309.3,104.4 L309.7,105.0 L310.3,106.5 L311.0,107.0 L311.9,107.6 L312.8,107.9 L313.8,107.6 L314.5,108.3 L315.3,108.5 L316.1,108.3 L316.9,108.8 L317.8,108.2 L318.7,108.9 L319.7,108.7 L320.8,108.0 L321.4,108.0 L322.0,108.7 L322.7,108.9 L323.3,108.1 L324.0,108.4 L324.7,108.8 L325.4,108.3 L326.2,109.0 L326.9,108.6 L327.7,108.2 L328.5,108.5 L329.3,108.7 L330.1,108.6 L330.9,108.8 L331.8,108.3 L332.6,108.9 L333.5,108.5 L334.4,108.7 L335.3,108.7 L336.2,108.5 L337.1,108.5 L338.0,108.9 L338.9,109.0 L339.9,108.9 L340.8,108.7 L341.5,108.4 L342.1,108.2 L342.8,109.1 L343.5,108.8 L344.2,108.9 L344.9,108.4 L345.7,108.7 L346.4,109.1 L347.2,108.9 L347.9,108.7 L348.7,108.4 L349.4,108.5 L350.2,109.0 L351.0,108.5 L351.8,108.8 L352.6,108.7 L353.4,109.0 L354.2,108.9 L355.0,108.4 L355.8,108.1 L356.7,108.4 L357.5,108.5 L358.3,108.7 L359.2,108.9 L360.0,109.0 L360.9,108.2 L361.7,108.9 L362.6,108.9 L363.4,109.0 L364.3,108.7 L365.1,108.4 L366.0,109.0 L366.9,108.9 L367.7,108.8 L368.6,109.0 L369.4,108.5 L370.3,108.2 L371.2,108.7 L372.0,108.9 L372.9,108.3 L373.7,108.9 L374.6,109.0 L375.5,108.3 L376.3,108.7 L377.2,108.8 L378.0,108.6 L378.8,108.3 L379.7,108.4 L380.5,108.9 L381.3,108.9 L382.2,108.6 L383.0,108.2 L383.8,108.9" fill="none" stroke="#e0a030" stroke-width="0.77" stroke-linejoin="round"/>
<path d="M283.9,108.3 L283.9,106.9 L284.1,106.3 L284.3,106.0 L284.7,105.3 L285.1,104.2 L285.5,103.4 L286.0,102.7 L286.4,101.5 L286.7,100.6 L286.9,99.9 L287.1,99.7 L287.3,98.6 L287.4,98.0 L287.5,97.1 L287.7,96.4 L287.8,95.2 L287.9,94.2 L288.0,94.3 L288.1,92.8 L288.3,91.7 L288.4,91.3 L288.5,90.6 L288.6,89.2 L288.7,88.8 L288.8,87.8 L288.9,87.1 L289.1,85.8 L289.2,85.0 L289.3,85.1 L289.4,84.1 L289.5,82.9 L289.6,82.1 L289.7,81.0 L289.8,80.6 L289.9,79.4 L290.0,79.1 L290.1,78.1 L290.2,77.3 L290.3,76.6 L290.4,75.0 L290.5,74.0 L290.6,73.3 L290.7,72.4 L290.8,71.5 L290.9,70.6 L291.0,70.3 L291.1,69.7 L291.3,68.5 L291.4,68.1 L291.5,67.2 L291.6,65.6 L291.7,65.3 L291.8,64.2 L291.9,63.1 L292.0,63.2 L292.1,61.7 L292.2,61.1 L292.3,60.3 L292.4,59.8 L292.5,58.7 L292.7,57.5 L292.8,56.8 L292.9,55.6 L293.0,55.6 L293.1,54.8 L293.2,53.2 L293.3,52.2 L293.4,51.6 L293.6,50.9 L293.7,50.7 L293.8,49.9 L293.9,49.0 L294.1,47.3 L294.2,47.2 L294.4,46.2 L294.5,45.3 L294.7,44.8 L294.9,43.1 L295.0,42.3 L295.2,42.2 L295.3,41.6 L295.5,40.6 L295.6,39.6 L295.8,38.9 L296.0,38.1 L296.2,36.5 L296.4,36.0 L296.6,35.3 L297.0,34.4 L297.4,34.4 L297.9,34.4 L298.3,35.2 L298.5,35.8 L298.7,37.1 L298.9,37.4 L299.1,39.1 L299.2,39.2 L299.4,39.7 L299.5,41.3 L299.6,41.4 L299.8,42.9 L299.9,43.7 L300.1,44.6 L300.2,44.7 L300.3,45.9 L300.5,46.4 L300.6,48.2 L300.8,49.0 L300.9,49.6 L301.0,50.2 L301.1,50.9 L301.2,52.2 L301.3,52.7 L301.5,53.6 L301.6,54.0 L301.7,54.9 L301.8,55.6 L301.9,57.1 L302.0,57.7 L302.1,58.2 L302.2,59.8 L302.3,60.0 L302.4,61.0 L302.5,61.6 L302.6,62.6 L302.7,64.0 L302.8,64.3 L302.9,64.9 L303.0,66.0 L303.1,66.7 L303.2,68.0 L303.2,68.0 L303.3,69.7 L303.4,69.6 L303.5,71.2 L303.6,71.8 L303.7,72.2 L303.8,73.2 L303.9,73.9 L304.0,74.6 L304.1,75.4 L304.1,76.3 L304.2,77.7 L304.3,78.5 L304.4,79.2 L304.5,79.2 L304.6,80.3 L304.7,81.7 L304.8,81.8 L304.9,83.3 L305.0,83.7 L305.1,85.3 L305.2,85.2 L305.3,86.8 L305.4,87.2 L305.5,87.9 L305.6,88.6 L305.7,90.2 L305.8,90.7 L305.9,91.2 L306.0,92.2 L306.1,93.5 L306.2,93.5 L306.3,94.8 L306.5,95.2 L306.6,96.2 L306.8,97.6 L306.9,98.4 L307.1,98.8 L307.2,99.5 L307.4,100.2 L307.6,101.5 L307.8,102.1 L308.0,102.5 L308.4,103.5 L308.8,104.8 L309.2,105.7 L309.8,106.5 L310.5,106.9 L311.4,107.0 L312.3,107.2 L313.3,108.2 L314.0,108.1 L314.8,108.5 L315.6,107.9 L316.4,108.7 L317.3,108.3 L318.2,108.8 L319.2,108.8 L320.3,108.5 L320.9,108.0 L321.5,109.0 L322.2,108.5 L322.8,108.9 L323.5,108.3 L324.2,108.3 L324.9,108.9 L325.7,108.5 L326.4,108.3 L327.2,108.5 L328.0,108.7 L328.8,108.1 L329.6,108.6 L330.4,108.6 L331.3,108.6 L332.1,108.2 L333.0,108.8 L333.9,108.9 L334.8,109.0 L335.7,108.4 L336.6,108.8 L337.5,108.5 L338.4,108.8 L339.4,108.2 L340.3,109.0 L341.0,109.1 L341.6,108.6 L342.3,108.6 L343.0,108.6 L343.7,108.6 L344.4,108.1 L345.2,109.1 L345.9,108.3 L346.7,108.3 L347.4,108.2 L348.2,108.4 L348.9,108.9 L349.7,108.1 L350.5,108.2 L351.3,108.8 L352.1,108.3 L352.9,108.1 L353.7,108.7 L354.5,108.7 L355.3,108.6 L356.2,108.8 L357.0,108.2 L357.8,109.0 L358.7,108.8 L359.5,108.2 L360.4,108.2 L361.2,108.6 L362.1,108.6 L362.9,108.4 L363.8,108.2 L364.6,108.5 L365.5,108.2 L366.4,108.7 L367.2,109.0 L368.1,108.3 L368.9,108.7 L369.8,108.9 L370.7,108.3 L371.5,108.9 L372.4,109.0 L373.2,108.5 L374.1,108.5 L375.0,108.9 L375.8,108.6 L376.7,108.5 L377.5,109.0 L378.3,108.9 L379.2,108.4 L380.0,108.3 L380.8,108.4 L381.7,108.5 L382.5,109.1 L383.3,108.9" fill="none" stroke="#5c6a64" stroke-width="0.94" stroke-linejoin="round"/>
<path d="M283.3,108.4 L283.3,107.5 L283.5,106.5 L283.7,105.2 L284.1,105.0 L284.5,104.7 L284.9,103.9 L285.4,102.4 L285.8,101.7 L286.1,101.0 L286.3,100.1 L286.5,99.5 L286.7,98.3 L286.8,97.9 L286.9,97.2 L287.1,95.9 L287.2,95.2 L287.3,95.1 L287.4,94.1 L287.5,93.4 L287.7,92.2 L287.8,91.5 L287.9,90.7 L288.0,89.9 L288.1,88.3 L288.2,88.1 L288.3,86.9 L288.5,86.5 L288.6,85.2 L288.7,84.6 L288.8,84.2 L288.9,83.0 L289.0,81.8 L289.1,81.2 L289.2,80.3 L289.3,79.9 L289.4,78.4 L289.5,77.6 L289.6,77.1 L289.7,75.7 L289.8,75.4 L289.9,74.9 L290.0,73.6 L290.1,72.5 L290.2,71.9 L290.3,71.1 L290.4,69.9 L290.5,69.0 L290.7,68.1 L290.8,67.5 L290.9,66.7 L291.0,65.8 L291.1,64.9 L291.2,63.9 L291.3,63.6 L291.4,63.0 L291.5,62.0 L291.6,61.1 L291.7,60.3 L291.8,59.0 L291.9,58.7 L292.1,57.6 L292.2,56.9 L292.3,56.1 L292.4,55.1 L292.5,54.1 L292.6,53.2 L292.7,52.4 L292.8,51.9 L293.0,51.0 L293.1,50.4 L293.2,49.0 L293.3,48.5 L293.5,48.1 L293.6,46.6 L293.8,46.1 L293.9,45.2 L294.1,44.1 L294.3,44.0 L294.4,42.5 L294.6,42.2 L294.7,40.8 L294.9,40.0 L295.0,40.2 L295.2,38.7 L295.4,37.4 L295.6,36.8 L295.8,36.1 L296.0,35.7 L296.4,34.4 L296.8,34.1 L297.3,35.2 L297.7,35.7 L297.9,35.8 L298.1,36.8 L298.3,37.7 L298.5,39.1 L298.6,39.6 L298.8,40.5 L298.9,41.2 L299.0,41.7 L299.2,42.7 L299.3,43.5 L299.5,44.4 L299.6,45.0 L299.7,46.2 L299.9,47.0 L300.0,48.1 L300.2,48.2 L300.3,49.9 L300.4,49.8 L300.5,51.3 L300.6,52.0 L300.7,52.7 L300.9,54.0 L301.0,54.4 L301.1,55.1 L301.2,56.3 L301.3,57.2 L301.4,57.8 L301.5,58.4 L301.6,59.4 L301.7,60.2 L301.8,61.3 L301.9,61.8 L302.0,62.7 L302.1,63.8 L302.2,64.4 L302.3,65.1 L302.4,66.3 L302.5,67.2 L302.6,67.6 L302.6,68.4 L302.7,68.9 L302.8,69.8 L302.9,70.5 L303.0,71.7 L303.1,72.5 L303.2,72.8 L303.3,74.5 L303.4,74.7 L303.5,76.0 L303.5,76.8 L303.6,77.7 L303.7,77.7 L303.8,78.8 L303.9,80.0 L304.0,80.0 L304.1,80.9 L304.2,82.3 L304.3,83.1 L304.4,84.4 L304.5,85.1 L304.6,85.7 L304.7,87.0 L304.8,87.4 L304.9,88.3 L305.0,89.3 L305.1,89.8 L305.2,90.6 L305.3,91.6 L305.4,92.1 L305.5,93.5 L305.6,94.0 L305.7,94.7 L305.9,95.2 L306.0,96.4 L306.2,97.3 L306.3,98.3 L306.5,99.1 L306.6,100.3 L306.8,101.1 L307.0,101.4 L307.2,102.0 L307.4,102.8 L307.8,104.2 L308.2,104.5 L308.6,105.5 L309.2,106.5 L309.9,106.5 L310.8,107.1 L311.7,108.2 L312.7,108.3 L313.4,108.2 L314.2,107.9 L315.0,108.8 L315.8,108.6 L316.7,108.8 L317.6,108.9 L318.6,108.9 L319.7,108.4 L320.3,108.2 L320.9,108.3 L321.6,108.6 L322.2,108.6 L322.9,108.3 L323.6,108.3 L324.3,108.7 L325.1,108.7 L325.8,108.5 L326.6,109.1 L327.4,108.7 L328.2,108.2 L329.0,108.5 L329.8,108.9 L330.7,108.4 L331.5,108.8 L332.4,108.1 L333.3,108.4 L334.2,108.9 L335.1,108.7 L336.0,108.8 L336.9,108.3 L337.8,108.6 L338.8,108.7 L339.7,108.4 L340.4,108.7 L341.0,108.6 L341.7,109.1 L342.4,108.7 L343.1,108.5 L343.8,108.2 L344.6,108.3 L345.3,108.9 L346.1,108.2 L346.8,108.2 L347.6,108.3 L348.3,108.6 L349.1,108.9 L349.9,108.7 L350.7,108.9 L351.5,108.2 L352.3,108.1 L353.1,108.9 L353.9,108.4 L354.7,108.8 L355.6,108.5 L356.4,108.3 L357.2,108.4 L358.1,108.2 L358.9,109.0 L359.8,108.7 L360.6,108.5 L361.5,108.6 L362.3,108.5 L363.2,108.2 L364.0,109.0 L364.9,108.7 L365.8,109.1 L366.6,108.5 L367.5,108.7 L368.3,108.4 L369.2,108.1 L370.1,109.0 L370.9,109.0 L371.8,108.4 L372.6,109.0 L373.5,108.9 L374.4,108.4 L375.2,108.7 L376.1,109.1 L376.9,108.6 L377.7,109.1 L378.6,108.3 L379.4,108.5 L380.2,108.8 L381.1,108.3 L381.9,108.4 L382.7,109.0" fill="none" stroke="#3a9e86" stroke-width="0.85" stroke-linejoin="round"/>
<line x1="283.5" y1="108.6" x2="383.3" y2="108.6" stroke="#5a5a5a" stroke-width="1"/>
<line x1="283.5" y1="29.8" x2="283.5" y2="108.6" stroke="#8a8a8a" stroke-width="1.0"/>
<path d="M281.3,108.6 H283.8 M282.4,104.85 H283.8 M282.4,101.1 H283.8 M282.4,97.34 H283.8 M281.3,93.59 H283.8 M282.4,89.84 H283.8 M282.4,86.09 H283.8 M282.4,82.33 H283.8 M281.3,78.58 H283.8 M282.4,74.83 H283.8 M282.4,71.08 H283.8 M282.4,67.32 H283.8 M281.3,63.57 H283.8 M282.4,59.82 H283.8 M282.4,56.07 H283.8 M282.4,52.31 H283.8 M281.3,48.56 H283.8 M282.4,44.81 H283.8 M282.4,41.06 H283.8 M282.4,37.3 H283.8 M281.3,33.55 H283.8 M282.4,29.8 H283.8" stroke="#2a2a3a" stroke-width="0.75"/>
<path d="M283.5,108.3 V110.6 M291.01,108.3 V109.7 M295.4,108.3 V109.7 M298.52,108.3 V109.7 M300.94,108.3 V109.7 M302.91,108.3 V109.7 M304.59,108.3 V109.7 M306.03,108.3 V109.7 M307.31,108.3 V109.7 M308.45,108.3 V110.6 M315.96,108.3 V109.7 M320.35,108.3 V109.7 M323.47,108.3 V109.7 M325.89,108.3 V109.7 M327.86,108.3 V109.7 M329.54,108.3 V109.7 M330.98,108.3 V109.7 M332.26,108.3 V109.7 M333.4,108.3 V110.6 M340.91,108.3 V109.7 M345.3,108.3 V109.7 M348.42,108.3 V109.7 M350.84,108.3 V109.7 M352.81,108.3 V109.7 M354.49,108.3 V109.7 M355.93,108.3 V109.7 M357.21,108.3 V109.7 M358.35,108.3 V110.6 M365.86,108.3 V109.7 M370.25,108.3 V109.7 M373.37,108.3 V109.7 M375.79,108.3 V109.7 M377.76,108.3 V109.7 M379.44,108.3 V109.7 M380.88,108.3 V109.7 M382.16,108.3 V109.7 M383.3,108.6 V110.6" stroke="#3a3a3a" stroke-width="0.7"/>
<text x="279.6" y="110.4" font-size="5.4" text-anchor="end" fill="#222">0</text>
<text x="279.6" y="95.39" font-size="5.4" text-anchor="end" fill="#222">20</text>
<text x="279.6" y="80.38" font-size="5.4" text-anchor="end" fill="#222">40</text>
<text x="279.6" y="65.37" font-size="5.4" text-anchor="end" fill="#222">60</text>
<text x="279.6" y="50.36" font-size="5.4" text-anchor="end" fill="#222">80</text>
<text x="279.6" y="35.35" font-size="5.4" text-anchor="end" fill="#222">100</text>
<text x="284.1" y="116.8" font-size="5.6" text-anchor="middle" fill="#666">10<tspan font-size="4.4" dy="-2.5">0</tspan></text>
<text x="309.05" y="116.8" font-size="5.6" text-anchor="middle" fill="#666">10<tspan font-size="4.4" dy="-2.5">1</tspan></text>
<text x="334" y="116.8" font-size="5.6" text-anchor="middle" fill="#666">10<tspan font-size="4.4" dy="-2.5">2</tspan></text>
<text x="358.95" y="116.8" font-size="5.6" text-anchor="middle" fill="#666">10<tspan font-size="4.4" dy="-2.5">3</tspan></text>
<text x="383.9" y="116.8" font-size="5.6" text-anchor="middle" fill="#666">10<tspan font-size="4.4" dy="-2.5">4</tspan></text>
<text x="352.5" y="42.6" font-size="11.9" textLength="27.4" lengthAdjust="spacingAndGlyphs" fill="#111" stroke="#111" stroke-width="0.22">H460</text>
<path d="M396.8,29.6 H497.4 V110" fill="none" stroke="#8e8e8e" stroke-width="1"/>
<path d="M397.0,108.0 L397.1,107.5 L397.2,106.2 L397.3,105.4 L397.4,104.8 L397.5,103.9 L397.6,103.9 L397.7,102.4 L397.8,101.8 L397.9,100.5 L398.0,100.0 L398.1,99.2 L398.2,98.5 L398.3,97.5 L398.4,96.8 L398.5,96.7 L398.5,95.5 L398.6,94.6 L398.8,93.7 L398.9,93.0 L399.0,92.1 L399.1,91.0 L399.2,90.8 L399.3,89.7 L399.4,88.6 L399.5,88.3 L399.6,86.9 L399.7,86.2 L399.8,86.0 L399.9,84.4 L400.0,83.9 L400.1,83.5 L400.2,82.7 L400.3,81.3 L400.4,80.7 L400.5,80.2 L400.6,79.1 L400.7,78.9 L400.8,77.3 L400.9,77.3 L401.0,76.0 L401.1,74.9 L401.2,74.4 L401.3,73.2 L401.4,73.0 L401.5,71.8 L401.6,71.6 L401.7,70.5 L401.8,69.5 L401.9,68.5 L402.0,68.1 L402.1,66.9 L402.2,66.7 L402.3,65.2 L402.4,64.7 L402.5,63.9 L402.6,62.8 L402.7,62.4 L402.8,61.2 L402.8,60.6 L402.9,59.7 L403.0,58.6 L403.1,57.9 L403.2,56.7 L403.3,56.0 L403.4,55.9 L403.5,54.6 L403.6,54.2 L403.8,53.0 L403.9,52.7 L404.0,51.9 L404.2,50.9 L404.4,49.6 L404.6,48.3 L404.8,47.4 L405.1,46.3 L405.3,45.3 L405.5,45.2 L405.8,44.4 L406.0,44.3 L406.4,45.1 L406.8,45.9 L407.2,47.2 L407.5,48.4 L407.7,48.3 L407.8,49.1 L407.9,49.7 L408.1,51.1 L408.2,52.0 L408.3,52.5 L408.4,53.5 L408.5,54.6 L408.6,55.6 L408.7,56.0 L408.9,57.5 L409.0,57.9 L409.1,59.0 L409.3,59.4 L409.5,60.1 L409.6,61.8 L409.8,62.4 L410.0,63.2 L410.1,63.4 L410.3,64.2 L410.5,65.2 L410.7,66.1 L410.8,67.0 L411.0,67.9 L411.2,68.4 L411.3,69.5 L411.5,70.6 L411.7,71.0 L411.9,72.4 L412.0,73.0 L412.2,73.9 L412.4,74.3 L412.6,75.3 L412.8,76.3 L413.0,76.8 L413.2,77.3 L413.4,78.9 L413.6,79.6 L413.8,79.9 L414.0,80.4 L414.2,82.1 L414.4,82.6 L414.7,82.9 L414.9,83.9 L415.1,84.5 L415.3,86.0 L415.5,86.2 L415.8,87.7 L416.0,88.2 L416.3,88.4 L416.5,89.9 L416.8,90.5 L417.1,91.6 L417.3,92.6 L417.6,92.8 L417.9,93.5 L418.1,95.1 L418.4,95.4 L418.7,96.7 L419.0,97.2 L419.3,98.1 L419.6,99.0 L419.9,99.6 L420.3,100.3 L420.6,100.7 L420.9,102.1 L421.3,102.5 L421.6,103.3 L422.0,104.4 L422.5,104.4 L422.9,105.8 L423.4,105.8 L423.9,107.1 L424.5,107.8 L425.0,107.8 L425.7,108.6 L426.3,109.4 L427.1,109.4 L428.0,109.5 L428.5,109.4 L429.1,109.3 L429.7,109.7 L430.4,109.8 L431.1,109.6 L431.8,109.7 L432.5,109.6 L433.3,110.2 L434.2,110.1 L435.0,109.7 L435.9,109.7 L436.9,110.0 L437.9,109.9 L438.9,110.4 L440.0,109.9 L440.5,109.8 L441.0,110.4 L441.6,109.7 L442.2,110.1 L442.7,109.9 L443.3,110.4 L443.9,110.1 L444.5,110.3 L445.2,109.7 L445.8,110.2 L446.5,110.2 L447.2,110.0 L447.9,110.4 L448.6,110.4 L449.3,109.7 L450.0,109.9 L450.7,110.0 L451.5,109.8 L452.2,109.7 L453.0,109.9 L453.8,109.8 L454.5,110.3 L455.3,110.1 L456.1,109.7 L456.9,109.9 L457.8,110.1 L458.6,110.0 L459.4,109.8 L460.3,109.7 L461.1,109.6 L462.0,110.6 L462.8,110.4 L463.7,109.7 L464.5,110.3 L465.4,110.6 L466.3,110.2 L467.2,109.7 L468.1,110.1 L468.9,110.0 L469.8,109.8 L470.7,110.1 L471.6,109.6 L472.5,110.5 L473.4,110.2 L474.3,110.2 L475.2,110.5 L476.1,110.2 L477.0,109.8 L477.9,109.8 L478.8,109.7 L479.7,109.6 L480.6,110.3 L481.5,110.4 L482.4,109.8 L483.3,109.7 L484.2,110.2 L485.1,110.4 L486.0,110.4 L486.9,109.7 L487.7,110.3 L488.6,110.3 L489.5,110.3 L490.3,109.8 L491.2,109.7 L492.0,110.3 L492.9,109.8 L493.7,109.9 L494.6,110.1 L495.4,109.9 L496.2,110.3 L497.0,109.7" fill="none" stroke="#e23a2a" stroke-width="0.77" stroke-linejoin="round"/>
<path d="M397.0,105.5 L397.1,105.2 L397.2,104.4 L397.4,103.8 L397.5,102.9 L397.6,102.2 L397.7,101.4 L397.9,100.0 L398.0,99.0 L398.1,98.0 L398.2,97.4 L398.3,96.9 L398.4,95.6 L398.5,95.4 L398.6,94.1 L398.7,93.5 L398.8,93.2 L399.0,91.4 L399.1,90.5 L399.2,90.0 L399.3,88.9 L399.4,88.5 L399.5,86.9 L399.7,86.9 L399.8,86.0 L399.9,85.1 L400.0,83.9 L400.1,82.9 L400.2,82.5 L400.3,81.5 L400.5,80.6 L400.6,79.7 L400.7,78.9 L400.8,78.3 L400.9,77.7 L401.1,76.9 L401.2,75.4 L401.3,74.7 L401.4,74.0 L401.5,73.3 L401.6,72.3 L401.8,71.3 L401.9,70.4 L402.0,69.8 L402.1,69.1 L402.2,68.8 L402.4,67.9 L402.5,67.0 L402.6,66.2 L402.7,65.4 L402.8,64.2 L402.9,63.5 L403.1,61.9 L403.2,61.7 L403.3,60.8 L403.4,59.7 L403.6,59.2 L403.7,58.9 L403.9,57.7 L404.0,57.1 L404.2,55.8 L404.5,54.7 L404.7,54.2 L405.0,52.3 L405.2,51.5 L405.5,51.3 L405.7,50.5 L406.0,50.0 L406.5,51.0 L407.0,51.7 L407.5,53.1 L407.7,53.5 L407.9,54.3 L408.0,55.1 L408.2,55.7 L408.3,56.3 L408.4,57.2 L408.6,58.8 L408.7,59.3 L408.8,59.8 L409.0,61.4 L409.2,61.6 L409.3,62.2 L409.5,63.5 L409.7,64.0 L409.9,65.1 L410.1,66.0 L410.2,66.5 L410.4,67.6 L410.6,68.0 L410.8,69.2 L411.0,70.1 L411.2,70.4 L411.4,71.5 L411.6,72.0 L411.8,73.1 L412.0,74.3 L412.2,74.8 L412.4,75.7 L412.6,76.6 L412.8,76.8 L413.0,78.5 L413.2,79.0 L413.4,79.1 L413.6,80.6 L413.8,80.9 L414.0,81.5 L414.2,83.1 L414.4,83.5 L414.7,84.6 L414.9,84.7 L415.1,86.2 L415.3,86.2 L415.5,87.2 L415.8,88.1 L416.0,88.5 L416.3,90.0 L416.5,90.4 L416.8,91.4 L417.1,92.6 L417.3,93.2 L417.6,94.5 L417.9,95.0 L418.1,96.1 L418.4,96.5 L418.7,97.7 L419.0,98.4 L419.4,98.6 L419.7,100.0 L420.1,100.5 L420.4,101.7 L420.8,102.5 L421.2,103.4 L421.6,103.4 L422.0,104.4 L422.6,105.6 L423.1,106.5 L423.7,107.0 L424.4,107.0 L425.0,108.1 L425.7,108.1 L426.3,108.9 L427.1,109.5 L428.0,109.1 L428.5,110.0 L429.1,109.9 L429.7,109.6 L430.4,109.6 L431.1,109.9 L431.8,110.3 L432.5,110.0 L433.3,109.6 L434.2,109.5 L435.0,109.6 L435.9,110.3 L436.9,109.7 L437.9,110.0 L438.9,109.8 L440.0,110.2 L440.5,109.9 L441.0,109.7 L441.6,110.4 L442.2,110.1 L442.7,110.2 L443.3,110.4 L443.9,110.5 L444.5,109.6 L445.2,109.9 L445.8,109.7 L446.5,110.1 L447.2,110.5 L447.9,110.4 L448.6,109.6 L449.3,109.8 L450.0,110.4 L450.7,110.3 L451.5,110.0 L452.2,110.1 L453.0,109.8 L453.8,110.5 L454.5,110.0 L455.3,110.5 L456.1,110.2 L456.9,109.7 L457.8,109.9 L458.6,109.8 L459.4,110.5 L460.3,110.2 L461.1,109.6 L462.0,109.8 L462.8,110.0 L463.7,110.1 L464.5,110.2 L465.4,110.0 L466.3,109.9 L467.2,109.6 L468.1,110.2 L468.9,109.9 L469.8,109.6 L470.7,110.0 L471.6,110.6 L472.5,109.6 L473.4,109.7 L474.3,110.2 L475.2,109.8 L476.1,109.8 L477.0,110.1 L477.9,109.8 L478.8,110.1 L479.7,110.1 L480.6,110.5 L481.5,110.5 L482.4,109.6 L483.3,110.1 L484.2,110.3 L485.1,110.4 L486.0,110.3 L486.9,110.2 L487.7,110.1 L488.6,109.9 L489.5,109.8 L490.3,110.3 L491.2,110.4 L492.0,110.4 L492.9,110.2 L493.7,109.8 L494.6,110.3 L495.4,110.2 L496.2,110.0 L497.0,110.1" fill="none" stroke="#3cb043" stroke-width="0.77" stroke-linejoin="round"/>
<path d="M397.0,104.9 L397.1,104.2 L397.2,103.2 L397.4,102.0 L397.5,101.5 L397.6,100.6 L397.7,100.4 L397.9,99.0 L398.0,97.9 L398.1,97.0 L398.2,96.3 L398.3,95.7 L398.4,94.6 L398.5,93.7 L398.6,93.7 L398.8,92.5 L398.9,91.6 L399.0,90.9 L399.1,89.7 L399.3,88.7 L399.4,87.7 L399.5,87.1 L399.6,86.3 L399.8,85.9 L399.9,84.9 L400.0,84.4 L400.1,83.0 L400.3,82.8 L400.4,81.6 L400.5,80.3 L400.6,79.6 L400.8,79.2 L400.9,78.8 L401.0,77.3 L401.2,76.9 L401.3,75.8 L401.4,75.5 L401.6,73.9 L401.7,73.5 L401.9,73.2 L402.0,71.8 L402.2,70.9 L402.3,69.8 L402.5,69.0 L402.6,68.2 L402.8,67.8 L403.0,66.4 L403.1,65.8 L403.3,64.7 L403.5,64.3 L403.6,63.8 L403.8,62.8 L404.0,61.7 L404.2,61.2 L404.5,60.4 L404.7,59.0 L405.0,57.6 L405.3,57.8 L405.6,57.6 L406.1,57.3 L406.6,57.7 L407.1,58.7 L407.5,60.0 L407.7,61.0 L407.9,61.4 L408.1,62.5 L408.3,62.5 L408.4,63.5 L408.6,64.8 L408.7,65.6 L408.9,66.2 L409.0,67.4 L409.2,68.0 L409.4,68.6 L409.6,69.7 L409.8,70.1 L410.0,71.4 L410.2,71.9 L410.4,72.9 L410.7,73.8 L410.9,74.3 L411.1,75.3 L411.4,75.7 L411.6,77.4 L411.8,77.9 L412.1,79.1 L412.3,79.0 L412.6,80.3 L412.8,81.2 L413.1,81.7 L413.3,82.2 L413.6,83.1 L413.8,83.9 L414.1,85.4 L414.4,85.5 L414.6,87.0 L414.9,87.4 L415.2,88.3 L415.4,89.2 L415.7,89.9 L415.9,90.7 L416.2,91.4 L416.5,92.0 L416.8,93.3 L417.1,93.6 L417.5,94.9 L417.8,95.7 L418.1,96.5 L418.4,96.8 L418.7,98.0 L419.0,99.0 L419.4,99.3 L419.7,100.0 L420.1,101.0 L420.5,102.2 L420.9,102.2 L421.3,102.8 L421.8,104.1 L422.3,105.0 L422.9,105.9 L423.4,106.2 L424.0,107.5 L424.6,107.4 L425.1,108.5 L425.7,108.4 L426.4,108.7 L427.2,109.2 L428.0,109.3 L428.9,109.9 L430.0,110.1 L430.6,109.7 L431.3,110.5 L432.0,110.0 L432.7,109.8 L433.4,109.8 L434.2,110.3 L435.0,110.5 L435.9,109.7 L436.8,109.6 L437.8,110.3 L438.9,109.7 L440.0,110.5 L440.5,110.0 L441.0,110.1 L441.5,109.8 L442.0,110.3 L442.6,110.0 L443.2,109.8 L443.7,110.4 L444.4,109.6 L445.0,110.2 L445.6,109.6 L446.2,110.1 L446.9,109.9 L447.6,110.4 L448.3,109.6 L449.0,110.1 L449.7,109.9 L450.4,110.4 L451.2,110.4 L451.9,110.1 L452.7,109.7 L453.4,109.8 L454.2,109.8 L455.0,109.9 L455.8,109.7 L456.6,109.7 L457.4,110.3 L458.3,110.1 L459.1,109.8 L459.9,110.5 L460.8,109.7 L461.7,110.1 L462.5,109.7 L463.4,110.4 L464.3,110.4 L465.1,109.8 L466.0,110.3 L466.9,110.3 L467.8,109.8 L468.7,109.8 L469.6,110.0 L470.5,110.4 L471.4,109.7 L472.3,110.2 L473.2,110.1 L474.1,110.0 L475.1,110.1 L476.0,110.4 L476.9,109.7 L477.8,110.4 L478.7,109.9 L479.6,110.3 L480.5,110.4 L481.4,109.7 L482.3,110.4 L483.2,110.5 L484.1,109.8 L485.0,109.5 L485.9,109.6 L486.8,110.5 L487.7,109.5 L488.6,110.4 L489.4,109.7 L490.3,110.2 L491.2,109.6 L492.0,109.7 L492.9,110.2 L493.7,109.6 L494.6,109.8 L495.4,110.4 L496.2,110.2 L497.0,110.4" fill="none" stroke="#3c3cb4" stroke-width="0.77" stroke-linejoin="round"/>
<path d="M397.6,105.8 L397.7,104.0 L397.8,103.3 L398.0,103.1 L398.1,102.1 L398.2,100.6 L398.3,100.2 L398.5,99.0 L398.6,98.2 L398.7,97.2 L398.8,96.4 L398.9,96.6 L399.0,95.1 L399.1,94.9 L399.2,93.3 L399.4,92.8 L399.5,91.6 L399.6,91.0 L399.7,89.9 L399.9,89.5 L400.0,88.1 L400.1,87.9 L400.2,86.8 L400.4,85.5 L400.5,85.0 L400.6,84.3 L400.7,83.9 L400.9,82.5 L401.0,81.5 L401.1,81.5 L401.2,80.6 L401.4,79.6 L401.5,78.3 L401.6,77.4 L401.8,76.7 L401.9,75.8 L402.0,74.9 L402.2,74.6 L402.3,73.7 L402.5,73.1 L402.6,72.2 L402.8,70.9 L402.9,70.7 L403.1,69.8 L403.2,68.8 L403.4,67.9 L403.6,67.2 L403.7,66.6 L403.9,65.7 L404.1,64.7 L404.2,63.6 L404.4,62.8 L404.6,62.2 L404.8,61.8 L405.1,60.1 L405.3,59.1 L405.6,58.3 L405.9,57.4 L406.2,58.0 L406.7,57.2 L407.2,58.5 L407.7,59.7 L408.1,60.1 L408.3,61.0 L408.5,61.5 L408.7,62.1 L408.9,62.8 L409.0,63.6 L409.2,65.2 L409.3,66.0 L409.5,67.0 L409.6,67.1 L409.8,68.6 L410.0,69.1 L410.2,70.2 L410.4,70.9 L410.6,71.4 L410.8,72.9 L411.0,72.7 L411.3,74.3 L411.5,75.2 L411.7,75.7 L412.0,76.6 L412.2,77.8 L412.4,77.9 L412.7,79.1 L412.9,80.0 L413.2,80.4 L413.4,81.5 L413.7,82.0 L413.9,83.0 L414.2,83.9 L414.4,84.8 L414.7,85.2 L415.0,86.4 L415.2,87.1 L415.5,87.5 L415.8,88.7 L416.0,89.1 L416.3,90.5 L416.5,90.8 L416.8,91.8 L417.1,92.5 L417.4,93.3 L417.7,93.9 L418.1,94.6 L418.4,96.2 L418.7,96.6 L419.0,97.4 L419.3,98.1 L419.6,99.1 L420.0,99.4 L420.3,100.2 L420.7,101.6 L421.1,102.1 L421.5,103.0 L421.9,103.9 L422.4,104.8 L422.9,105.6 L423.5,105.5 L424.0,106.5 L424.6,107.6 L425.2,108.3 L425.7,108.2 L426.3,108.7 L427.0,109.3 L427.8,109.4 L428.6,109.7 L429.5,110.2 L430.6,110.0 L431.2,110.0 L431.9,109.6 L432.6,110.0 L433.3,110.6 L434.0,110.3 L434.8,110.0 L435.6,110.0 L436.5,110.3 L437.4,110.3 L438.4,109.7 L439.5,110.2 L440.6,109.9 L441.1,110.0 L441.6,109.7 L442.1,109.9 L442.6,109.8 L443.2,109.9 L443.8,109.5 L444.3,109.7 L445.0,110.1 L445.6,109.6 L446.2,109.7 L446.8,110.2 L447.5,109.8 L448.2,109.8 L448.9,109.7 L449.6,110.3 L450.3,109.6 L451.0,110.1 L451.8,110.4 L452.5,109.7 L453.3,109.9 L454.0,110.3 L454.8,110.1 L455.6,109.9 L456.4,109.5 L457.2,109.9 L458.0,109.9 L458.9,110.2 L459.7,109.8 L460.5,109.9 L461.4,110.1 L462.3,110.3 L463.1,109.9 L464.0,109.9 L464.9,110.1 L465.7,110.4 L466.6,109.7 L467.5,110.5 L468.4,110.2 L469.3,109.9 L470.2,110.2 L471.1,109.8 L472.0,109.6 L472.9,110.3 L473.8,109.9 L474.7,110.0 L475.7,110.0 L476.6,110.4 L477.5,110.3 L478.4,109.5 L479.3,110.1 L480.2,110.0 L481.1,110.0 L482.0,110.3 L482.9,109.9 L483.8,110.0 L484.7,110.4 L485.6,109.9 L486.5,110.0 L487.4,110.0 L488.3,110.3 L489.2,110.2 L490.0,110.2 L490.9,109.9 L491.8,109.5 L492.6,110.2 L493.5,110.1 L494.3,110.3 L495.2,110.3 L496.0,109.6 L496.8,109.7 L497.6,109.6" fill="none" stroke="#222" stroke-width="0.77" stroke-linejoin="round" stroke-dasharray="1.2,1.6"/>
<line x1="396.8" y1="110" x2="497.4" y2="110" stroke="#1c1c2c" stroke-width="1"/>
<line x1="396.8" y1="29.6" x2="396.8" y2="110" stroke="#444450" stroke-width="1.3" stroke-dasharray="1.6,0.9"/>
<path d="M394.6,110 H397.1 M395.7,105.98 H397.1 M395.7,101.96 H397.1 M395.7,97.94 H397.1 M394.6,93.92 H397.1 M395.7,89.9 H397.1 M395.7,85.88 H397.1 M395.7,81.86 H397.1 M394.6,77.84 H397.1 M395.7,73.82 H397.1 M395.7,69.8 H397.1 M395.7,65.78 H397.1 M394.6,61.76 H397.1 M395.7,57.74 H397.1 M395.7,53.72 H397.1 M395.7,49.7 H397.1 M394.6,45.68 H397.1 M395.7,41.66 H397.1 M395.7,37.64 H397.1 M395.7,33.62 H397.1 M394.6,29.6 H397.1" stroke="#2a2a3a" stroke-width="0.75"/>
<path d="M396.8,109.7 V112 M404.37,109.7 V111.1 M408.8,109.7 V111.1 M411.94,109.7 V111.1 M414.38,109.7 V111.1 M416.37,109.7 V111.1 M418.05,109.7 V111.1 M419.51,109.7 V111.1 M420.8,109.7 V111.1 M421.95,109.7 V112 M429.52,109.7 V111.1 M433.95,109.7 V111.1 M437.09,109.7 V111.1 M439.53,109.7 V111.1 M441.52,109.7 V111.1 M443.2,109.7 V111.1 M444.66,109.7 V111.1 M445.95,109.7 V111.1 M447.1,109.7 V112 M454.67,109.7 V111.1 M459.1,109.7 V111.1 M462.24,109.7 V111.1 M464.68,109.7 V111.1 M466.67,109.7 V111.1 M468.35,109.7 V111.1 M469.81,109.7 V111.1 M471.1,109.7 V111.1 M472.25,109.7 V112 M479.82,109.7 V111.1 M484.25,109.7 V111.1 M487.39,109.7 V111.1 M489.83,109.7 V111.1 M491.82,109.7 V111.1 M493.5,109.7 V111.1 M494.96,109.7 V111.1 M496.25,109.7 V111.1 M497.4,110 V112" stroke="#3a3a3a" stroke-width="0.7"/>
<text transform="translate(394.2,110) rotate(-90)" font-size="3.4" text-anchor="middle" fill="#777">0</text>
<text transform="translate(394.2,93.92) rotate(-90)" font-size="3.4" text-anchor="middle" fill="#777">20</text>
<text transform="translate(394.2,77.84) rotate(-90)" font-size="3.4" text-anchor="middle" fill="#777">40</text>
<text transform="translate(394.2,61.76) rotate(-90)" font-size="3.4" text-anchor="middle" fill="#777">60</text>
<text transform="translate(394.2,45.68) rotate(-90)" font-size="3.4" text-anchor="middle" fill="#777">80</text>
<text transform="translate(394.2,29.6) rotate(-90)" font-size="3.4" text-anchor="middle" fill="#777">100</text>
<text x="397.1" y="116" font-size="3.8" text-anchor="middle" fill="#777">10<tspan font-size="2.8" dy="-1.5">0</tspan></text>
<text x="422.25" y="116" font-size="3.8" text-anchor="middle" fill="#777">10<tspan font-size="2.8" dy="-1.5">1</tspan></text>
<text x="447.4" y="116" font-size="3.8" text-anchor="middle" fill="#777">10<tspan font-size="2.8" dy="-1.5">2</tspan></text>
<text x="472.55" y="116" font-size="3.8" text-anchor="middle" fill="#777">10<tspan font-size="2.8" dy="-1.5">3</tspan></text>
<text x="497.7" y="116" font-size="3.8" text-anchor="middle" fill="#777">10<tspan font-size="2.8" dy="-1.5">4</tspan></text>
<text x="465.9" y="43" font-size="11.9" textLength="26.7" lengthAdjust="spacingAndGlyphs" fill="#111" stroke="#111" stroke-width="0.22">A549</text>
<path d="M47,122.2 H151.2 V203.8" fill="none" stroke="#8e8e8e" stroke-width="1"/>
<path d="M47.8,190.7 L48.0,189.2 L48.2,188.4 L48.4,188.3 L48.6,187.3 L48.8,186.0 L49.0,185.8 L49.2,185.0 L49.4,184.0 L49.6,182.8 L49.8,182.6 L50.0,181.5 L50.2,180.9 L50.4,180.5 L50.6,179.5 L50.8,178.8 L51.0,177.2 L51.2,176.6 L51.4,176.0 L51.6,174.7 L51.8,174.9 L52.0,173.4 L52.2,172.6 L52.4,171.8 L52.6,170.9 L52.8,170.7 L53.0,169.6 L53.2,168.7 L53.4,167.8 L53.6,166.6 L53.8,166.1 L54.0,165.9 L54.2,165.1 L54.4,164.5 L54.7,163.0 L55.0,162.1 L55.3,161.2 L55.7,160.9 L56.0,160.0 L56.3,159.4 L56.6,158.7 L56.9,157.8 L57.2,156.5 L57.5,155.9 L57.7,154.6 L58.0,155.0 L58.2,155.0 L58.4,155.3 L58.6,156.6 L58.8,158.0 L59.1,158.9 L59.5,159.8 L60.6,159.9 L61.7,160.2 L62.2,161.3 L62.6,161.5 L62.9,162.8 L63.2,163.8 L63.6,164.6 L63.9,165.5 L64.2,166.7 L64.4,167.0 L64.7,168.2 L64.9,168.2 L65.1,169.4 L65.4,170.5 L65.6,170.7 L65.9,172.3 L66.1,172.4 L66.3,173.7 L66.6,174.1 L66.8,175.7 L67.1,176.1 L67.3,177.2 L67.6,177.7 L67.8,178.7 L68.1,179.5 L68.3,179.9 L68.5,180.6 L68.8,182.1 L69.0,182.2 L69.2,183.8 L69.5,183.9 L69.7,184.6 L70.0,185.4 L70.2,186.9 L70.5,187.9 L70.8,188.1 L71.1,189.2 L71.4,189.7 L71.7,191.2 L72.0,191.8 L72.4,192.1 L72.7,192.8 L73.1,194.2 L73.4,194.3 L73.8,195.9 L74.2,196.2 L74.5,196.9 L74.9,198.0 L75.3,198.5 L75.8,199.4 L76.3,199.6 L77.0,200.9 L77.7,200.8 L78.4,201.8 L79.2,201.5 L80.0,202.4 L80.8,202.8 L81.7,202.2 L82.5,201.9 L83.6,202.3 L84.2,202.6 L84.8,202.2 L85.5,202.5 L86.2,202.1 L86.9,202.5 L87.7,202.8 L88.5,202.6 L89.3,202.8 L90.2,202.3 L91.1,203.0 L92.1,202.4 L93.1,203.2 L94.2,203.3 L95.3,203.2 L95.8,202.8 L96.3,202.6 L96.9,202.7 L97.4,203.1 L98.0,202.8 L98.6,203.3 L99.2,202.5 L99.8,202.8 L100.5,203.2 L101.1,203.0 L101.8,202.9 L102.5,202.5 L103.2,202.5 L103.9,202.7 L104.6,203.3 L105.3,203.3 L106.0,202.6 L106.8,203.3 L107.5,202.5 L108.3,203.0 L109.1,203.4 L109.9,202.8 L110.7,203.4 L111.5,203.1 L112.3,202.5 L113.1,202.8 L114.0,202.9 L114.8,202.7 L115.6,203.2 L116.5,202.6 L117.3,203.2 L118.2,202.8 L119.1,202.5 L119.9,203.0 L120.8,202.6 L121.7,203.0 L122.6,203.2 L123.5,203.1 L124.4,202.9 L125.3,202.5 L126.2,203.0 L127.1,202.6 L128.0,203.1 L128.9,202.6 L129.8,203.0 L130.7,202.8 L131.6,202.8 L132.5,203.1 L133.4,202.6 L134.3,202.6 L135.2,203.4 L136.1,202.8 L137.0,203.3 L137.9,203.3 L138.8,203.0 L139.7,202.6 L140.6,202.6 L141.4,203.4 L142.3,202.6 L143.2,203.0 L144.1,203.0 L144.9,202.6 L145.8,203.0 L146.6,202.7 L147.5,203.0 L148.3,203.0 L149.2,202.9 L150.0,202.7 L150.8,202.9 L151.6,202.7" fill="none" stroke="#3cb043" stroke-width="0.77" stroke-linejoin="round"/>
<path d="M46.8,191.6 L47.0,190.9 L47.2,190.8 L47.4,189.6 L47.6,189.2 L47.8,187.5 L48.0,187.6 L48.2,186.4 L48.4,185.9 L48.6,184.9 L48.8,184.2 L49.0,182.9 L49.2,182.6 L49.4,181.3 L49.6,180.6 L49.8,179.5 L50.0,179.1 L50.2,178.4 L50.4,177.4 L50.6,177.2 L50.8,175.6 L51.0,175.3 L51.2,174.1 L51.4,173.7 L51.6,173.1 L51.8,172.2 L52.0,170.7 L52.2,170.1 L52.4,169.6 L52.6,169.2 L52.8,167.5 L53.0,167.3 L53.2,166.6 L53.4,166.0 L53.7,164.7 L54.0,164.3 L54.3,163.2 L54.7,162.9 L55.0,161.3 L55.3,161.5 L55.6,160.2 L55.9,159.2 L56.2,157.8 L56.5,157.0 L56.7,156.7 L57.0,156.4 L57.2,156.2 L57.4,157.2 L57.6,158.1 L57.8,159.3 L58.1,160.3 L58.5,161.1 L59.6,162.1 L60.7,162.5 L61.2,162.8 L61.6,163.3 L61.9,164.2 L62.2,165.4 L62.6,166.5 L62.9,167.4 L63.2,168.0 L63.4,168.3 L63.7,169.6 L63.9,170.6 L64.1,171.4 L64.4,171.5 L64.6,173.0 L64.9,173.4 L65.1,174.1 L65.3,175.7 L65.6,176.2 L65.8,177.1 L66.1,177.3 L66.3,178.8 L66.6,179.7 L66.8,180.5 L67.1,181.1 L67.3,182.0 L67.5,182.8 L67.8,183.4 L68.0,184.1 L68.2,185.3 L68.5,186.0 L68.7,186.9 L69.0,187.2 L69.2,188.7 L69.5,189.0 L69.8,190.3 L70.1,190.3 L70.4,192.0 L70.7,192.7 L71.0,193.0 L71.4,194.4 L71.7,194.6 L72.1,195.3 L72.4,196.4 L72.8,197.0 L73.2,198.0 L73.5,199.2 L73.9,199.8 L74.3,200.5 L74.8,200.8 L75.3,201.8 L76.0,202.4 L76.7,202.8 L77.4,203.5 L78.2,203.8 L79.0,203.6 L79.8,203.4 L80.7,204.0 L81.6,204.2 L82.6,203.6 L83.2,203.9 L83.8,204.1 L84.5,204.1 L85.2,203.3 L85.9,203.8 L86.7,203.3 L87.5,203.4 L88.3,204.1 L89.2,203.7 L90.1,203.9 L91.1,203.8 L92.1,203.6 L93.2,203.5 L94.3,203.7 L94.8,204.1 L95.3,203.9 L95.9,203.6 L96.4,203.4 L97.0,203.6 L97.6,204.0 L98.2,203.7 L98.8,204.0 L99.5,204.1 L100.1,203.4 L100.8,204.0 L101.5,203.3 L102.2,204.1 L102.9,203.5 L103.6,203.6 L104.3,204.3 L105.0,203.7 L105.8,203.5 L106.5,204.2 L107.3,203.9 L108.1,204.2 L108.9,203.7 L109.7,203.8 L110.5,204.3 L111.3,203.8 L112.1,204.3 L113.0,203.5 L113.8,204.1 L114.6,203.5 L115.5,203.8 L116.3,203.3 L117.2,203.5 L118.1,204.2 L118.9,203.8 L119.8,204.1 L120.7,203.6 L121.6,203.7 L122.5,203.4 L123.4,203.9 L124.3,204.2 L125.2,203.8 L126.1,203.7 L127.0,204.2 L127.9,204.2 L128.8,204.0 L129.7,203.4 L130.6,203.9 L131.5,203.7 L132.4,204.3 L133.3,203.7 L134.2,204.0 L135.1,203.9 L136.0,203.7 L136.9,203.8 L137.8,204.0 L138.7,204.2 L139.6,203.8 L140.4,203.7 L141.3,204.3 L142.2,203.4 L143.1,204.1 L143.9,204.0 L144.8,203.9 L145.6,203.7 L146.5,204.1 L147.3,204.2 L148.2,204.0 L149.0,204.0 L149.8,203.3 L150.6,203.6" fill="none" stroke="#e23a2a" stroke-width="0.68" stroke-linejoin="round"/>
<path d="M47.2,190.8 L47.4,190.9 L47.6,190.0 L47.8,188.4 L48.0,188.1 L48.2,187.3 L48.4,185.9 L48.6,185.5 L48.8,185.0 L49.0,184.1 L49.2,183.0 L49.4,182.7 L49.6,181.4 L49.8,180.8 L50.0,179.9 L50.2,179.7 L50.4,178.5 L50.6,177.9 L50.8,177.0 L51.0,175.9 L51.2,175.7 L51.4,174.6 L51.6,173.8 L51.8,172.6 L52.0,171.6 L52.2,171.2 L52.4,170.7 L52.6,169.8 L52.8,168.5 L53.0,167.5 L53.2,167.1 L53.4,166.7 L53.6,165.3 L53.8,165.1 L54.1,163.7 L54.4,163.0 L54.7,162.0 L55.1,161.5 L55.4,160.8 L55.7,160.7 L56.0,160.0 L56.3,158.2 L56.6,157.2 L56.9,156.9 L57.1,155.4 L57.4,155.2 L57.6,155.7 L57.8,156.1 L58.0,157.4 L58.2,158.7 L58.5,159.7 L58.9,161.0 L60.0,160.6 L61.1,160.9 L61.6,162.2 L62.0,162.5 L62.3,163.7 L62.6,164.5 L63.0,165.6 L63.3,166.1 L63.6,166.7 L63.8,168.1 L64.1,168.6 L64.3,169.5 L64.5,170.4 L64.8,171.4 L65.0,171.7 L65.3,172.6 L65.5,174.0 L65.7,174.4 L66.0,175.0 L66.2,176.2 L66.5,176.6 L66.7,177.9 L67.0,178.0 L67.2,179.6 L67.5,180.2 L67.7,180.8 L67.9,182.2 L68.2,182.3 L68.4,183.1 L68.6,183.7 L68.9,185.0 L69.1,186.0 L69.4,186.8 L69.6,187.3 L69.9,188.5 L70.2,188.6 L70.5,189.7 L70.8,190.9 L71.1,192.0 L71.4,192.6 L71.8,193.4 L72.1,194.3 L72.5,194.7 L72.8,196.0 L73.2,196.7 L73.6,197.1 L73.9,197.9 L74.3,199.1 L74.7,199.3 L75.2,199.8 L75.7,201.1 L76.4,201.3 L77.1,201.8 L77.8,202.4 L78.6,203.0 L79.4,202.5 L80.2,202.9 L81.1,202.7 L81.9,203.1 L83.0,203.2 L83.6,203.6 L84.2,203.4 L84.9,203.4 L85.6,203.2 L86.3,203.4 L87.1,203.2 L87.9,203.8 L88.7,203.7 L89.6,203.8 L90.5,203.2 L91.5,203.7 L92.5,203.8 L93.6,203.6 L94.7,204.0 L95.2,204.0 L95.7,203.9 L96.3,203.9 L96.8,203.8 L97.4,204.0 L98.0,203.3 L98.6,203.9 L99.2,203.9 L99.9,203.8 L100.5,203.5 L101.2,203.3 L101.9,203.8 L102.6,204.0 L103.3,203.5 L104.0,203.4 L104.7,203.4 L105.4,203.3 L106.2,203.9 L106.9,204.2 L107.7,204.0 L108.5,203.6 L109.3,203.9 L110.1,203.3 L110.9,204.1 L111.7,203.6 L112.5,203.2 L113.4,203.9 L114.2,203.4 L115.0,203.5 L115.9,203.3 L116.7,203.7 L117.6,203.8 L118.5,204.1 L119.3,203.3 L120.2,204.1 L121.1,203.4 L122.0,203.5 L122.9,203.9 L123.8,203.6 L124.7,203.6 L125.6,203.8 L126.5,203.5 L127.4,204.1 L128.3,203.5 L129.2,204.1 L130.1,204.1 L131.0,203.8 L131.9,203.3 L132.8,204.0 L133.7,203.3 L134.6,203.8 L135.5,203.7 L136.4,203.3 L137.3,203.9 L138.2,204.0 L139.1,203.9 L140.0,203.7 L140.8,203.8 L141.7,203.9 L142.6,203.5 L143.5,204.1 L144.3,204.3 L145.2,204.1 L146.0,204.2 L146.9,203.6 L147.7,204.3 L148.6,203.4 L149.4,203.8 L150.2,203.4 L151.0,203.8" fill="none" stroke="#50506a" stroke-width="0.77" stroke-linejoin="round"/>
<path d="M47.5,192.6 L47.7,191.8 L47.9,190.8 L48.1,189.8 L48.3,188.9 L48.5,188.3 L48.7,187.4 L48.9,186.5 L49.1,186.2 L49.3,185.2 L49.5,184.3 L49.7,183.3 L49.9,183.0 L50.1,181.7 L50.3,181.0 L50.5,180.5 L50.7,179.8 L50.9,179.3 L51.1,178.2 L51.3,177.6 L51.5,176.8 L51.7,175.8 L51.9,175.0 L52.1,173.6 L52.3,172.9 L52.5,171.9 L52.7,171.9 L52.9,170.9 L53.1,170.0 L53.3,168.9 L53.5,168.2 L53.7,167.2 L53.9,166.9 L54.1,166.6 L54.4,165.1 L54.7,164.0 L55.0,163.3 L55.4,162.7 L55.7,162.5 L56.0,161.7 L56.3,160.7 L56.6,159.3 L56.9,158.2 L57.2,157.3 L57.4,157.2 L57.7,156.6 L57.9,157.4 L58.1,158.1 L58.3,159.1 L58.5,160.0 L58.8,161.3 L59.2,161.3 L60.3,161.7 L61.4,162.5 L61.9,163.0 L62.3,163.4 L62.6,164.3 L62.9,165.1 L63.3,166.9 L63.6,167.7 L63.9,168.7 L64.1,169.5 L64.4,169.8 L64.6,170.9 L64.8,171.4 L65.1,172.6 L65.3,173.5 L65.6,173.6 L65.8,174.3 L66.0,175.3 L66.3,176.5 L66.5,177.1 L66.8,177.6 L67.0,179.2 L67.3,180.0 L67.5,180.4 L67.8,180.8 L68.0,182.5 L68.2,182.9 L68.5,183.3 L68.7,184.4 L68.9,185.5 L69.2,186.5 L69.4,187.0 L69.7,187.9 L69.9,188.3 L70.2,189.1 L70.5,190.6 L70.8,191.0 L71.1,191.5 L71.4,192.9 L71.7,193.2 L72.1,194.2 L72.4,195.2 L72.8,196.1 L73.1,196.9 L73.5,197.8 L73.9,198.4 L74.2,198.8 L74.6,200.2 L75.0,200.3 L75.5,201.3 L76.0,201.8 L76.7,202.6 L77.4,203.1 L78.2,203.0 L78.9,203.7 L79.7,204.0 L80.5,203.9 L81.4,203.5 L82.3,204.2 L83.3,203.9 L83.9,203.4 L84.5,203.5 L85.2,204.3 L85.9,203.5 L86.6,203.7 L87.4,204.1 L88.2,204.1 L89.0,203.9 L89.9,204.0 L90.8,203.3 L91.8,203.4 L92.8,204.3 L93.9,204.1 L95.0,203.3 L95.5,203.3 L96.0,203.5 L96.6,204.2 L97.1,203.5 L97.7,204.0 L98.3,204.2 L98.9,203.9 L99.5,204.2 L100.2,203.6 L100.8,203.5 L101.5,203.3 L102.2,204.1 L102.9,203.4 L103.6,204.3 L104.3,204.0 L105.0,203.5 L105.7,204.1 L106.5,203.5 L107.2,203.8 L108.0,203.4 L108.8,204.1 L109.6,204.2 L110.4,204.2 L111.2,203.3 L112.0,204.2 L112.8,203.9 L113.7,204.1 L114.5,203.8 L115.3,203.9 L116.2,203.9 L117.0,204.1 L117.9,203.4 L118.8,203.4 L119.6,203.8 L120.5,203.6 L121.4,203.7 L122.3,203.3 L123.2,204.0 L124.1,203.3 L125.0,204.1 L125.9,204.1 L126.8,203.8 L127.7,203.4 L128.6,204.0 L129.5,203.5 L130.4,203.7 L131.3,203.4 L132.2,204.3 L133.1,203.8 L134.0,203.7 L134.9,203.4 L135.8,204.0 L136.7,204.1 L137.6,204.1 L138.5,203.4 L139.4,203.7 L140.3,203.6 L141.1,204.1 L142.0,203.4 L142.9,203.9 L143.8,204.3 L144.6,204.1 L145.5,203.3 L146.3,203.4 L147.2,203.4 L148.0,204.0 L148.9,203.9 L149.7,203.8 L150.5,203.8 L151.3,203.7" fill="none" stroke="#3c3cb4" stroke-width="0.68" stroke-linejoin="round"/>
<line x1="58.5" y1="158" x2="60.5" y2="159" stroke="#50c030" stroke-width="1.4"/>
<line x1="47" y1="203.8" x2="151.2" y2="203.8" stroke="#1c1c2c" stroke-width="1"/>
<line x1="47" y1="122.2" x2="47" y2="203.8" stroke="#2a2a7a" stroke-width="1.3" stroke-dasharray="1.6,0.9"/>
<path d="M44.8,203.8 H47.3 M45.9,200.66 H47.3 M44.8,197.52 H47.3 M45.9,194.38 H47.3 M44.8,191.25 H47.3 M45.9,188.11 H47.3 M44.8,184.97 H47.3 M45.9,181.83 H47.3 M44.8,178.69 H47.3 M45.9,175.55 H47.3 M44.8,172.42 H47.3 M45.9,169.28 H47.3 M44.8,166.14 H47.3 M45.9,163 H47.3 M44.8,159.86 H47.3 M45.9,156.72 H47.3 M44.8,153.58 H47.3 M45.9,150.45 H47.3 M44.8,147.31 H47.3 M45.9,144.17 H47.3 M44.8,141.03 H47.3 M45.9,137.89 H47.3 M44.8,134.75 H47.3 M45.9,131.62 H47.3 M44.8,128.48 H47.3 M45.9,125.34 H47.3 M44.8,122.2 H47.3" stroke="#2a2a3a" stroke-width="0.75"/>
<path d="M47,203.5 V205.8 M54.84,203.5 V204.9 M59.43,203.5 V204.9 M62.68,203.5 V204.9 M65.21,203.5 V204.9 M67.27,203.5 V204.9 M69.01,203.5 V204.9 M70.53,203.5 V204.9 M71.86,203.5 V204.9 M73.05,203.5 V205.8 M80.89,203.5 V204.9 M85.48,203.5 V204.9 M88.73,203.5 V204.9 M91.26,203.5 V204.9 M93.32,203.5 V204.9 M95.06,203.5 V204.9 M96.58,203.5 V204.9 M97.91,203.5 V204.9 M99.1,203.5 V205.8 M106.94,203.5 V204.9 M111.53,203.5 V204.9 M114.78,203.5 V204.9 M117.31,203.5 V204.9 M119.37,203.5 V204.9 M121.11,203.5 V204.9 M122.63,203.5 V204.9 M123.96,203.5 V204.9 M125.15,203.5 V205.8 M132.99,203.5 V204.9 M137.58,203.5 V204.9 M140.83,203.5 V204.9 M143.36,203.5 V204.9 M145.42,203.5 V204.9 M147.16,203.5 V204.9 M148.68,203.5 V204.9 M150.01,203.5 V204.9 M151.2,203.8 V205.8" stroke="#3a3a3a" stroke-width="0.7"/>
<text transform="translate(44.4,203.8) rotate(-90)" font-size="3.4" text-anchor="middle" fill="#777">0</text>
<text transform="translate(44.4,197.52) rotate(-90)" font-size="3.4" text-anchor="middle" fill="#777">10</text>
<text transform="translate(44.4,191.25) rotate(-90)" font-size="3.4" text-anchor="middle" fill="#777">20</text>
<text transform="translate(44.4,184.97) rotate(-90)" font-size="3.4" text-anchor="middle" fill="#777">30</text>
<text transform="translate(44.4,178.69) rotate(-90)" font-size="3.4" text-anchor="middle" fill="#777">40</text>
<text transform="translate(44.4,172.42) rotate(-90)" font-size="3.4" text-anchor="middle" fill="#777">50</text>
<text transform="translate(44.4,166.14) rotate(-90)" font-size="3.4" text-anchor="middle" fill="#777">60</text>
<text transform="translate(44.4,159.86) rotate(-90)" font-size="3.4" text-anchor="middle" fill="#777">70</text>
<text transform="translate(44.4,153.58) rotate(-90)" font-size="3.4" text-anchor="middle" fill="#777">80</text>
<text transform="translate(44.4,147.31) rotate(-90)" font-size="3.4" text-anchor="middle" fill="#777">90</text>
<text transform="translate(44.4,141.03) rotate(-90)" font-size="3.4" text-anchor="middle" fill="#777">100</text>
<text transform="translate(44.4,134.75) rotate(-90)" font-size="3.4" text-anchor="middle" fill="#777">110</text>
<text transform="translate(44.4,128.48) rotate(-90)" font-size="3.4" text-anchor="middle" fill="#777">120</text>
<text transform="translate(44.4,122.2) rotate(-90)" font-size="3.4" text-anchor="middle" fill="#777">130</text>
<text x="47.3" y="209.8" font-size="3.8" text-anchor="middle" fill="#777">10<tspan font-size="2.8" dy="-1.5">0</tspan></text>
<text x="73.35" y="209.8" font-size="3.8" text-anchor="middle" fill="#777">10<tspan font-size="2.8" dy="-1.5">1</tspan></text>
<text x="99.4" y="209.8" font-size="3.8" text-anchor="middle" fill="#777">10<tspan font-size="2.8" dy="-1.5">2</tspan></text>
<text x="125.45" y="209.8" font-size="3.8" text-anchor="middle" fill="#777">10<tspan font-size="2.8" dy="-1.5">3</tspan></text>
<text x="151.5" y="209.8" font-size="3.8" text-anchor="middle" fill="#777">10<tspan font-size="2.8" dy="-1.5">4</tspan></text>
<text x="119.9" y="135.5" font-size="11.9" textLength="27" lengthAdjust="spacingAndGlyphs" fill="#111" stroke="#111" stroke-width="0.22">H727</text>
<path d="M166.7,122.6 H266.3 V203.8" fill="none" stroke="#8e8e8e" stroke-width="1"/>
<path d="M167.6,197.6 L167.7,196.8 L167.8,196.3 L167.9,195.3 L168.0,194.5 L168.1,193.8 L168.2,193.0 L168.3,192.0 L168.4,190.5 L168.5,190.3 L168.7,189.7 L168.8,188.4 L168.9,188.1 L169.1,186.6 L169.2,186.5 L169.4,185.2 L169.6,184.6 L169.7,183.3 L169.9,182.6 L170.1,181.8 L170.3,180.9 L170.4,179.8 L170.6,179.3 L170.8,179.0 L171.0,177.9 L171.1,177.4 L171.3,176.4 L171.4,175.7 L171.6,175.1 L171.8,174.1 L172.0,172.8 L172.1,172.0 L172.3,171.3 L172.5,170.1 L172.6,169.5 L172.8,169.4 L173.0,168.6 L173.1,167.2 L173.3,166.8 L173.4,166.0 L173.6,165.2 L173.7,164.1 L173.9,162.8 L174.0,161.4 L174.1,161.0 L174.2,159.5 L174.4,158.8 L174.5,157.5 L174.6,156.7 L174.8,156.3 L174.9,154.7 L175.1,154.3 L175.2,153.9 L175.4,153.3 L175.6,153.4 L175.8,152.7 L176.5,153.8 L177.4,154.6 L178.1,155.2 L178.9,154.6 L179.7,155.1 L180.5,155.7 L181.0,156.9 L181.4,156.6 L181.8,157.6 L182.2,158.9 L182.6,160.0 L183.0,160.1 L183.3,161.3 L183.7,162.4 L184.0,163.1 L184.3,163.9 L184.7,164.7 L185.0,165.0 L185.3,165.8 L185.6,166.4 L185.9,167.8 L186.2,168.2 L186.5,169.0 L186.8,170.6 L187.1,171.0 L187.3,171.7 L187.6,172.5 L187.9,173.2 L188.2,174.1 L188.4,174.5 L188.7,175.0 L189.0,175.8 L189.2,176.6 L189.5,177.7 L189.7,178.3 L190.0,179.1 L190.2,180.3 L190.5,181.5 L190.7,182.0 L190.9,182.4 L191.1,183.7 L191.4,184.0 L191.6,184.7 L191.8,185.7 L192.0,186.6 L192.2,187.7 L192.4,188.3 L192.7,189.3 L192.9,189.4 L193.1,190.9 L193.4,191.2 L193.6,192.5 L193.9,192.5 L194.1,194.1 L194.4,194.3 L194.7,195.6 L194.9,196.3 L195.2,196.8 L195.5,197.1 L195.9,197.7 L196.3,198.7 L196.8,200.1 L197.3,200.1 L197.8,201.2 L198.5,201.7 L199.3,202.2 L200.1,202.1 L201.0,202.4 L201.7,202.6 L202.5,203.6 L203.2,203.1 L204.0,203.5 L204.9,203.5 L205.8,203.2 L206.5,203.1 L207.3,203.1 L208.0,204.0 L208.9,203.3 L209.7,204.2 L210.5,203.6 L211.4,203.9 L212.3,203.4 L213.1,204.0 L214.0,203.5 L214.8,203.7" fill="none" stroke="#e0a030" stroke-width="0.59" stroke-linejoin="round"/>
<path d="M166.8,197.0 L166.9,195.8 L167.0,195.1 L167.1,194.9 L167.2,193.5 L167.3,192.8 L167.4,192.4 L167.5,191.0 L167.6,190.2 L167.7,189.4 L167.9,188.7 L168.0,187.9 L168.1,187.3 L168.3,186.3 L168.4,185.9 L168.6,184.3 L168.8,184.1 L168.9,183.4 L169.1,182.0 L169.3,180.9 L169.5,180.5 L169.6,179.3 L169.8,178.8 L170.0,178.2 L170.2,176.8 L170.3,176.1 L170.5,175.7 L170.6,174.6 L170.8,173.8 L171.0,173.3 L171.2,172.1 L171.3,171.3 L171.5,170.8 L171.7,170.1 L171.8,169.7 L172.0,168.5 L172.2,167.2 L172.3,166.5 L172.5,166.2 L172.6,165.2 L172.8,164.6 L172.9,163.8 L173.1,162.7 L173.2,160.9 L173.3,160.7 L173.4,159.2 L173.6,157.9 L173.7,156.8 L173.8,156.6 L174.0,155.0 L174.1,154.1 L174.3,153.6 L174.4,153.6 L174.6,152.7 L174.8,152.7 L175.0,151.9 L175.7,152.8 L176.6,153.7 L177.3,154.0 L178.1,154.7 L178.9,154.7 L179.7,155.0 L180.2,156.4 L180.6,156.6 L181.0,157.0 L181.4,157.7 L181.8,159.2 L182.2,160.0 L182.5,160.4 L182.9,161.7 L183.2,162.7 L183.5,163.2 L183.9,163.7 L184.2,164.7 L184.5,165.6 L184.8,166.5 L185.1,166.8 L185.4,168.3 L185.7,169.2 L186.0,169.8 L186.3,170.7 L186.5,171.0 L186.8,172.3 L187.1,172.3 L187.4,173.1 L187.6,174.3 L187.9,175.4 L188.2,175.4 L188.4,176.3 L188.7,176.9 L188.9,178.1 L189.2,178.6 L189.4,179.5 L189.7,180.8 L189.9,181.4 L190.1,182.6 L190.3,182.9 L190.6,184.0 L190.8,184.1 L191.0,185.9 L191.2,186.0 L191.4,187.0 L191.6,187.8 L191.9,189.0 L192.1,189.3 L192.3,190.5 L192.6,191.0 L192.8,191.4 L193.1,192.8 L193.3,193.0 L193.6,194.5 L193.9,194.7 L194.1,195.2 L194.4,196.6 L194.7,196.6 L195.1,197.6 L195.5,198.3 L196.0,199.4 L196.5,199.4 L197.0,200.4 L197.7,200.7 L198.5,201.9 L199.3,201.5 L200.2,202.4 L200.9,202.3 L201.7,202.6 L202.4,202.8 L203.2,203.1 L204.1,202.6 L205.0,202.7 L205.7,202.7 L206.5,203.6 L207.2,202.8 L208.1,202.8 L208.9,203.2 L209.7,203.3 L210.6,203.7 L211.5,202.9 L212.3,203.1 L213.2,203.0 L214.0,203.5" fill="none" stroke="#e04848" stroke-width="0.77" stroke-linejoin="round"/>
<path d="M167.4,197.5 L167.5,196.6 L167.6,196.2 L167.7,195.1 L167.8,194.4 L167.9,193.7 L168.0,192.1 L168.1,192.0 L168.2,190.6 L168.3,189.4 L168.4,189.4 L168.5,187.7 L168.6,186.8 L168.8,186.2 L168.9,185.3 L169.0,185.2 L169.2,184.2 L169.3,182.9 L169.5,182.2 L169.6,181.7 L169.8,180.8 L169.9,179.7 L170.1,178.7 L170.3,177.6 L170.4,176.9 L170.6,176.5 L170.7,175.7 L170.9,175.1 L171.1,174.4 L171.3,173.7 L171.4,172.1 L171.6,171.2 L171.8,171.2 L172.0,170.1 L172.2,168.9 L172.3,168.6 L172.5,167.4 L172.7,166.5 L172.8,165.9 L173.0,165.2 L173.2,164.6 L173.3,163.2 L173.5,163.0 L173.6,162.1 L173.8,161.1 L174.0,160.6 L174.1,159.9 L174.3,158.3 L174.5,158.0 L174.6,157.5 L174.8,156.8 L175.0,155.9 L175.2,154.6 L175.4,154.5 L175.6,153.5 L175.8,152.2 L176.1,151.6 L176.3,151.4 L176.5,149.9 L176.7,149.4 L176.9,149.3 L177.2,148.2 L177.5,146.4 L177.8,146.0 L178.1,144.9 L178.4,145.0 L178.6,145.4 L178.8,145.5 L179.0,146.6 L179.2,147.7 L179.5,148.6 L180.0,149.2 L180.5,150.1 L181.1,151.0 L181.9,151.4 L182.7,151.5 L183.0,152.5 L183.3,153.6 L183.6,154.1 L183.8,154.7 L184.1,156.0 L184.3,156.5 L184.6,157.1 L184.8,158.1 L185.0,158.4 L185.3,159.9 L185.5,160.2 L185.8,161.3 L186.0,162.5 L186.2,163.1 L186.4,163.9 L186.6,164.5 L186.8,165.3 L187.0,166.2 L187.2,167.2 L187.4,167.3 L187.6,168.7 L187.8,169.0 L188.0,169.8 L188.2,171.1 L188.4,171.7 L188.7,172.8 L188.9,173.6 L189.1,174.0 L189.4,174.4 L189.6,175.0 L189.8,176.3 L190.1,177.3 L190.3,177.6 L190.5,178.3 L190.7,178.9 L190.9,179.9 L191.0,181.2 L191.2,181.3 L191.4,182.3 L191.5,183.2 L191.7,184.4 L191.9,185.5 L192.0,185.4 L192.2,186.3 L192.4,187.9 L192.5,188.7 L192.7,188.6 L192.9,189.5 L193.1,190.6 L193.3,191.2 L193.6,192.2 L193.8,193.0 L194.0,193.6 L194.3,194.2 L194.5,195.0 L194.8,195.8 L195.0,196.4 L195.3,197.6 L195.7,198.6 L196.1,199.1 L196.6,200.4 L197.0,201.1 L197.6,201.3 L198.3,202.1 L199.1,202.4 L199.9,203.6 L200.8,203.6 L201.6,203.2 L202.5,203.4 L203.5,204.0 L204.4,203.7 L205.5,204.0 L206.2,203.5 L206.9,204.1 L207.6,204.1 L208.3,203.4 L209.0,203.9 L209.8,203.5 L210.6,204.0 L211.5,204.1 L212.5,204.1 L213.5,203.5 L214.6,203.4 L215.1,204.0 L215.6,203.9 L216.1,203.4 L216.6,203.5 L217.2,203.9 L217.8,203.4 L218.4,203.9 L219.0,203.5 L219.6,203.6 L220.3,203.7 L220.9,203.8 L221.6,204.0 L222.3,203.3 L223.0,204.0 L223.7,203.5 L224.4,203.6 L225.2,203.9 L225.9,204.0 L226.7,203.9 L227.5,204.2 L228.2,203.5 L229.0,203.6 L229.8,204.0 L230.7,203.6 L231.5,203.5 L232.3,203.5 L233.2,204.1 L234.0,204.1 L234.9,204.0 L235.7,204.3 L236.6,204.1 L237.5,203.6 L238.4,203.6 L239.3,204.0 L240.2,203.4 L241.0,203.9 L241.9,203.4 L242.8,203.3 L243.8,203.8 L244.7,203.5 L245.6,204.2 L246.5,204.2 L247.4,203.8 L248.3,203.5 L249.2,203.4 L250.1,203.8 L251.0,203.8 L251.9,203.7 L252.8,204.0 L253.7,203.8 L254.6,204.1 L255.5,203.4 L256.4,203.4 L257.3,203.7 L258.2,203.8 L259.0,203.6 L259.9,204.0 L260.8,203.5 L261.6,203.6 L262.5,203.8 L263.3,204.0 L264.2,204.1 L265.0,203.7 L265.8,203.7 L266.6,204.2" fill="none" stroke="#3cb043" stroke-width="0.77" stroke-linejoin="round"/>
<path d="M167.1,197.2 L167.2,196.1 L167.3,194.7 L167.4,194.2 L167.5,193.5 L167.6,192.3 L167.7,191.2 L167.8,191.3 L167.9,190.4 L168.0,188.7 L168.1,188.2 L168.2,187.5 L168.3,186.3 L168.5,185.3 L168.6,185.1 L168.7,184.3 L168.9,183.1 L169.0,181.9 L169.2,181.4 L169.3,180.2 L169.5,180.2 L169.6,178.4 L169.8,177.8 L170.0,177.5 L170.1,176.1 L170.3,175.3 L170.4,174.5 L170.6,173.8 L170.8,173.3 L171.0,172.8 L171.1,171.4 L171.3,170.6 L171.5,170.4 L171.7,169.2 L171.9,168.3 L172.0,167.3 L172.2,166.6 L172.4,166.6 L172.5,164.9 L172.7,164.3 L172.9,163.9 L173.0,163.3 L173.2,162.5 L173.3,161.2 L173.5,160.9 L173.7,159.8 L173.8,158.7 L174.0,158.1 L174.2,157.6 L174.3,156.9 L174.5,155.5 L174.7,154.7 L174.9,154.7 L175.1,153.0 L175.3,152.9 L175.5,151.6 L175.8,150.7 L176.0,150.0 L176.2,149.4 L176.4,149.3 L176.6,147.7 L176.9,147.4 L177.2,145.8 L177.5,144.7 L177.8,144.6 L178.1,143.9 L178.3,144.1 L178.5,145.1 L178.7,146.5 L178.9,147.6 L179.2,148.2 L179.7,148.5 L180.2,150.0 L180.8,150.5 L181.6,151.2 L182.4,151.7 L182.7,151.6 L183.0,152.8 L183.3,153.6 L183.5,153.9 L183.8,154.9 L184.0,155.8 L184.3,156.5 L184.5,157.3 L184.7,157.8 L185.0,158.7 L185.2,160.2 L185.5,160.6 L185.7,161.5 L185.9,162.5 L186.1,163.1 L186.3,163.4 L186.5,164.9 L186.7,165.6 L186.9,166.6 L187.1,167.1 L187.3,168.0 L187.5,168.9 L187.7,169.1 L187.9,170.3 L188.1,170.8 L188.4,172.0 L188.6,172.1 L188.8,173.3 L189.1,173.8 L189.3,175.1 L189.5,175.4 L189.8,176.7 L190.0,177.5 L190.2,178.4 L190.4,178.4 L190.6,179.9 L190.7,180.5 L190.9,181.2 L191.1,182.0 L191.2,182.2 L191.4,183.9 L191.6,184.4 L191.7,185.1 L191.9,185.8 L192.1,187.0 L192.2,187.8 L192.4,188.6 L192.6,188.7 L192.8,189.7 L193.0,190.4 L193.3,191.1 L193.5,192.2 L193.7,192.7 L194.0,194.2 L194.2,194.4 L194.5,195.0 L194.7,195.7 L195.0,197.0 L195.4,197.4 L195.8,198.6 L196.3,199.3 L196.7,200.4 L197.3,201.3 L198.0,201.3 L198.8,202.1 L199.6,202.8 L200.5,202.8 L201.3,203.4 L202.2,203.4 L203.2,203.1 L204.1,203.7 L205.2,203.5 L205.9,203.1 L206.6,203.6 L207.3,203.9 L208.0,203.6 L208.7,203.6 L209.5,203.6 L210.3,204.1 L211.2,203.9 L212.2,203.5 L213.2,203.6 L214.3,203.7 L214.8,204.3 L215.3,204.0 L215.8,203.5 L216.3,204.3 L216.9,203.4 L217.5,203.9 L218.1,203.8 L218.7,204.1 L219.3,203.8 L220.0,203.5 L220.6,203.9 L221.3,204.2 L222.0,204.2 L222.7,203.7 L223.4,203.6 L224.1,204.1 L224.9,204.2 L225.6,203.6 L226.4,204.3 L227.2,204.4 L227.9,203.8 L228.7,203.8 L229.5,204.1 L230.4,204.3 L231.2,203.6 L232.0,203.7 L232.9,203.7 L233.7,204.1 L234.6,203.6 L235.4,203.9 L236.3,203.9 L237.2,204.1 L238.1,203.5 L239.0,204.3 L239.9,204.4 L240.7,203.9 L241.6,204.2 L242.5,203.6 L243.5,204.3 L244.4,203.9 L245.3,204.1 L246.2,204.2 L247.1,203.7 L248.0,204.3 L248.9,203.6 L249.8,203.4 L250.7,203.8 L251.6,204.2 L252.5,204.2 L253.4,204.3 L254.3,203.8 L255.2,204.3 L256.1,203.9 L257.0,203.5 L257.9,203.9 L258.7,204.1 L259.6,203.7 L260.5,203.9 L261.3,203.6 L262.2,203.6 L263.0,203.7 L263.9,203.8 L264.7,203.8 L265.5,203.4 L266.3,203.3" fill="none" stroke="#3a9e86" stroke-width="0.77" stroke-linejoin="round"/>
<path d="M166.8,196.1 L166.9,195.7 L167.0,194.8 L167.1,193.5 L167.2,192.6 L167.3,192.0 L167.4,190.8 L167.5,190.4 L167.6,189.9 L167.7,188.3 L167.8,187.8 L167.9,187.1 L168.0,186.3 L168.2,185.4 L168.3,184.6 L168.4,183.3 L168.6,183.0 L168.7,182.2 L168.9,180.5 L169.0,180.6 L169.2,179.2 L169.3,178.0 L169.5,177.1 L169.7,177.0 L169.8,176.1 L170.0,174.8 L170.1,174.4 L170.3,173.7 L170.5,173.3 L170.7,171.8 L170.8,171.5 L171.0,170.1 L171.2,169.3 L171.4,168.5 L171.6,167.9 L171.7,167.3 L171.9,166.2 L172.1,165.3 L172.2,164.5 L172.4,163.6 L172.6,162.9 L172.7,162.2 L172.9,161.6 L173.0,160.5 L173.2,160.0 L173.4,159.1 L173.5,158.9 L173.7,157.6 L173.9,157.3 L174.0,156.1 L174.2,155.1 L174.4,154.6 L174.6,153.4 L174.8,152.5 L175.0,151.6 L175.2,151.4 L175.5,150.9 L175.7,149.6 L175.9,148.8 L176.1,148.2 L176.3,147.5 L176.6,146.8 L176.9,145.4 L177.2,144.2 L177.5,144.2 L177.8,143.7 L178.0,143.4 L178.2,145.0 L178.4,145.9 L178.6,146.6 L178.9,147.7 L179.4,148.9 L179.9,149.2 L180.5,149.8 L181.3,150.1 L182.1,150.8 L182.4,151.4 L182.7,152.2 L183.0,153.2 L183.2,153.3 L183.5,154.4 L183.7,155.8 L184.0,156.5 L184.2,157.0 L184.4,157.9 L184.7,158.3 L184.9,159.7 L185.2,160.2 L185.4,160.8 L185.6,161.3 L185.8,162.0 L186.0,163.5 L186.2,164.2 L186.4,164.3 L186.6,165.4 L186.8,166.4 L187.0,167.2 L187.2,167.9 L187.4,169.2 L187.6,169.4 L187.8,170.4 L188.1,171.6 L188.3,172.1 L188.5,172.7 L188.8,173.3 L189.0,174.2 L189.2,175.2 L189.5,176.1 L189.7,176.4 L189.9,177.4 L190.1,178.1 L190.3,178.9 L190.4,180.2 L190.6,180.6 L190.8,181.1 L190.9,182.0 L191.1,183.3 L191.3,183.5 L191.4,184.8 L191.6,185.0 L191.8,185.9 L191.9,186.6 L192.1,188.1 L192.3,188.1 L192.5,189.1 L192.7,189.8 L193.0,190.8 L193.2,192.1 L193.4,192.9 L193.7,193.9 L193.9,194.7 L194.2,195.0 L194.4,196.1 L194.7,195.9 L195.1,197.7 L195.5,198.0 L196.0,198.6 L196.4,199.9 L197.0,200.7 L197.7,200.8 L198.5,201.1 L199.3,202.3 L200.2,202.6 L201.0,202.6 L201.9,203.2 L202.9,202.3 L203.8,202.4 L204.9,202.5 L205.6,202.5 L206.3,203.2 L207.0,203.2 L207.7,202.7 L208.4,202.8 L209.2,202.9 L210.0,203.4 L210.9,203.5 L211.8,203.8 L212.9,203.2 L214.0,203.9 L214.5,203.3 L215.0,203.3 L215.5,203.2 L216.0,203.2 L216.6,203.9 L217.2,204.0 L217.8,203.7 L218.4,203.2 L219.0,203.2 L219.7,203.2 L220.3,203.4 L221.0,203.8 L221.7,203.1 L222.4,203.6 L223.1,203.7 L223.8,203.1 L224.6,203.5 L225.3,203.9 L226.1,203.7 L226.9,203.6 L227.6,204.0 L228.4,203.7 L229.2,203.5 L230.1,203.5 L230.9,204.1 L231.7,204.0 L232.6,204.1 L233.4,203.7 L234.3,203.3 L235.1,203.3 L236.0,203.5 L236.9,203.9 L237.8,203.2 L238.7,204.0 L239.6,204.0 L240.4,203.7 L241.3,203.2 L242.2,204.0 L243.2,203.6 L244.1,203.9 L245.0,203.8 L245.9,203.9 L246.8,203.6 L247.7,204.2 L248.6,204.2 L249.5,204.1 L250.4,203.8 L251.3,203.5 L252.2,203.6 L253.1,203.5 L254.0,204.1 L254.9,204.0 L255.8,204.0 L256.7,204.1 L257.6,204.2 L258.4,203.9 L259.3,203.6 L260.2,204.0 L261.0,203.5 L261.9,203.9 L262.7,203.4 L263.6,204.1 L264.4,203.8 L265.2,203.6 L266.0,204.2" fill="none" stroke="#3c3cb4" stroke-width="0.68" stroke-linejoin="round"/>
<path d="M167.3,196.7 L167.4,196.7 L167.5,195.6 L167.6,194.2 L167.7,193.9 L167.8,192.9 L167.9,192.4 L168.0,191.2 L168.1,190.2 L168.2,189.8 L168.3,188.1 L168.4,188.0 L168.5,186.4 L168.7,185.8 L168.8,184.8 L168.9,184.7 L169.1,183.4 L169.2,182.8 L169.4,181.5 L169.5,181.1 L169.7,180.2 L169.8,178.8 L170.0,178.3 L170.2,177.8 L170.3,176.5 L170.5,176.1 L170.6,175.0 L170.8,174.3 L171.0,174.0 L171.2,173.2 L171.3,172.5 L171.5,171.1 L171.7,170.5 L171.9,169.9 L172.1,169.0 L172.2,167.9 L172.4,167.6 L172.6,166.3 L172.7,166.1 L172.9,164.8 L173.1,163.6 L173.2,163.4 L173.4,162.0 L173.5,161.8 L173.7,160.3 L173.9,160.5 L174.0,159.2 L174.2,158.7 L174.4,157.3 L174.5,157.1 L174.7,156.1 L174.9,155.1 L175.1,154.8 L175.3,153.2 L175.5,152.8 L175.7,151.6 L176.0,151.6 L176.2,150.9 L176.4,149.3 L176.6,149.0 L176.8,148.4 L177.1,147.6 L177.4,146.5 L177.7,145.2 L178.0,145.1 L178.3,144.1 L178.5,144.4 L178.7,145.8 L178.9,146.1 L179.1,147.2 L179.4,148.4 L179.9,149.1 L180.4,149.7 L181.0,151.1 L181.8,151.0 L182.6,151.8 L182.9,151.8 L183.2,153.2 L183.5,153.3 L183.7,154.9 L184.0,155.5 L184.2,156.7 L184.5,157.2 L184.7,157.9 L184.9,158.5 L185.2,159.6 L185.4,160.0 L185.7,160.6 L185.9,162.1 L186.1,162.7 L186.3,163.3 L186.5,164.2 L186.7,164.5 L186.9,165.5 L187.1,166.7 L187.3,167.7 L187.5,168.5 L187.7,168.5 L187.9,169.8 L188.1,170.5 L188.3,171.1 L188.6,171.7 L188.8,172.4 L189.0,173.5 L189.3,174.3 L189.5,174.8 L189.7,175.7 L190.0,176.7 L190.2,177.7 L190.4,178.4 L190.6,178.7 L190.8,180.2 L190.9,180.4 L191.1,181.8 L191.3,182.7 L191.4,182.6 L191.6,183.9 L191.8,185.1 L191.9,185.3 L192.1,186.3 L192.3,186.9 L192.4,187.3 L192.6,188.3 L192.8,188.9 L193.0,189.9 L193.2,191.1 L193.5,191.9 L193.7,193.1 L193.9,193.7 L194.2,194.1 L194.4,195.5 L194.7,195.9 L194.9,196.5 L195.2,197.5 L195.6,198.2 L196.0,198.8 L196.5,199.8 L196.9,200.2 L197.5,201.6 L198.2,201.5 L199.0,202.8 L199.8,202.3 L200.7,202.6 L201.5,203.4 L202.4,203.2 L203.4,203.6 L204.3,203.3 L205.4,204.0 L206.1,203.9 L206.8,204.0 L207.5,204.2 L208.2,204.3 L208.9,204.0 L209.7,204.0 L210.5,203.3 L211.4,203.3 L212.4,203.7 L213.4,204.3 L214.5,203.6 L215.0,203.9 L215.5,203.3 L216.0,203.7 L216.5,204.2 L217.1,203.9 L217.7,204.1 L218.3,203.3 L218.9,203.5 L219.5,203.5 L220.2,204.2 L220.8,203.4 L221.5,204.3 L222.2,203.6 L222.9,204.2 L223.6,203.8 L224.3,203.6 L225.1,204.3 L225.8,203.7 L226.6,204.0 L227.4,203.4 L228.1,204.2 L228.9,204.3 L229.7,203.4 L230.6,204.1 L231.4,203.6 L232.2,203.5 L233.1,203.7 L233.9,204.0 L234.8,204.3 L235.6,204.3 L236.5,204.3 L237.4,203.9 L238.3,204.0 L239.2,203.5 L240.1,204.0 L240.9,203.9 L241.8,203.7 L242.7,204.2 L243.7,203.6 L244.6,203.5 L245.5,203.5 L246.4,203.5 L247.3,203.9 L248.2,204.1 L249.1,203.5 L250.0,203.8 L250.9,203.9 L251.8,203.9 L252.7,203.7 L253.6,203.9 L254.5,203.3 L255.4,203.4 L256.3,203.7 L257.2,203.5 L258.1,204.1 L258.9,203.5 L259.8,204.1 L260.7,203.5 L261.5,203.4 L262.4,203.8 L263.2,203.7 L264.1,203.6 L264.9,204.1 L265.7,203.5 L266.5,204.0" fill="none" stroke="#333" stroke-width="0.59" stroke-linejoin="round" stroke-dasharray="1.2,1.6"/>
<line x1="166.7" y1="203.8" x2="266.3" y2="203.8" stroke="#1c1c2c" stroke-width="1"/>
<line x1="166.7" y1="122.6" x2="166.7" y2="203.8" stroke="#2a2a7a" stroke-width="1.3" stroke-dasharray="1.6,0.9"/>
<path d="M164.5,203.8 H167 M165.6,200.42 H167 M165.6,197.03 H167 M165.6,193.65 H167 M164.5,190.27 H167 M165.6,186.88 H167 M165.6,183.5 H167 M165.6,180.12 H167 M164.5,176.73 H167 M165.6,173.35 H167 M165.6,169.97 H167 M165.6,166.58 H167 M164.5,163.2 H167 M165.6,159.82 H167 M165.6,156.43 H167 M165.6,153.05 H167 M164.5,149.67 H167 M165.6,146.28 H167 M165.6,142.9 H167 M165.6,139.52 H167 M164.5,136.13 H167 M165.6,132.75 H167 M165.6,129.37 H167 M165.6,125.98 H167 M164.5,122.6 H167" stroke="#2a2a3a" stroke-width="0.75"/>
<path d="M166.7,203.5 V205.8 M174.2,203.5 V204.9 M178.58,203.5 V204.9 M181.69,203.5 V204.9 M184.1,203.5 V204.9 M186.08,203.5 V204.9 M187.74,203.5 V204.9 M189.19,203.5 V204.9 M190.46,203.5 V204.9 M191.6,203.5 V205.8 M199.1,203.5 V204.9 M203.48,203.5 V204.9 M206.59,203.5 V204.9 M209,203.5 V204.9 M210.98,203.5 V204.9 M212.64,203.5 V204.9 M214.09,203.5 V204.9 M215.36,203.5 V204.9 M216.5,203.5 V205.8 M224,203.5 V204.9 M228.38,203.5 V204.9 M231.49,203.5 V204.9 M233.9,203.5 V204.9 M235.88,203.5 V204.9 M237.54,203.5 V204.9 M238.99,203.5 V204.9 M240.26,203.5 V204.9 M241.4,203.5 V205.8 M248.9,203.5 V204.9 M253.28,203.5 V204.9 M256.39,203.5 V204.9 M258.8,203.5 V204.9 M260.78,203.5 V204.9 M262.44,203.5 V204.9 M263.89,203.5 V204.9 M265.16,203.5 V204.9 M266.3,203.8 V205.8" stroke="#3a3a3a" stroke-width="0.7"/>
<text transform="translate(164.1,203.8) rotate(-90)" font-size="3.4" text-anchor="middle" fill="#777">0</text>
<text transform="translate(164.1,190) rotate(-90)" font-size="3.4" text-anchor="middle" fill="#777">17</text>
<text transform="translate(164.1,177) rotate(-90)" font-size="3.4" text-anchor="middle" fill="#777">33</text>
<text transform="translate(164.1,163.2) rotate(-90)" font-size="3.4" text-anchor="middle" fill="#777">50</text>
<text transform="translate(164.1,149.4) rotate(-90)" font-size="3.4" text-anchor="middle" fill="#777">67</text>
<text transform="translate(164.1,136.4) rotate(-90)" font-size="3.4" text-anchor="middle" fill="#777">83</text>
<text transform="translate(164.1,122.6) rotate(-90)" font-size="3.4" text-anchor="middle" fill="#777">100</text>
<text x="167" y="209.8" font-size="3.8" text-anchor="middle" fill="#777">10<tspan font-size="2.8" dy="-1.5">0</tspan></text>
<text x="191.9" y="209.8" font-size="3.8" text-anchor="middle" fill="#777">10<tspan font-size="2.8" dy="-1.5">1</tspan></text>
<text x="216.8" y="209.8" font-size="3.8" text-anchor="middle" fill="#777">10<tspan font-size="2.8" dy="-1.5">2</tspan></text>
<text x="241.7" y="209.8" font-size="3.8" text-anchor="middle" fill="#777">10<tspan font-size="2.8" dy="-1.5">3</tspan></text>
<text x="266.6" y="209.8" font-size="3.8" text-anchor="middle" fill="#777">10<tspan font-size="2.8" dy="-1.5">4</tspan></text>
<text x="234.7" y="135.8" font-size="11.9" textLength="27.8" lengthAdjust="spacingAndGlyphs" fill="#111" stroke="#111" stroke-width="0.22">H827</text>
<path d="M282.4,122.6 H384.3 V203.9" fill="none" stroke="#8e8e8e" stroke-width="1"/>
<path d="M283.8,201.8 L284.0,201.3 L284.3,201.2 L285.1,201.4 L286.2,200.9 L287.1,200.1 L287.7,199.4 L288.1,198.8 L288.5,198.2 L288.9,197.1 L289.1,197.0 L289.4,196.0 L289.5,195.0 L289.7,194.4 L289.9,193.9 L290.0,192.3 L290.2,191.2 L290.3,190.4 L290.4,189.7 L290.5,189.5 L290.6,188.5 L290.7,187.5 L290.8,186.4 L290.9,185.5 L290.9,184.7 L291.0,184.6 L291.1,183.6 L291.2,182.2 L291.2,181.9 L291.3,180.4 L291.4,180.0 L291.5,179.0 L291.5,178.0 L291.6,177.8 L291.7,177.0 L291.8,175.9 L291.8,174.7 L291.9,174.4 L292.0,173.3 L292.0,172.7 L292.1,171.2 L292.2,171.2 L292.2,169.4 L292.3,168.8 L292.4,168.1 L292.4,167.1 L292.5,166.1 L292.6,165.9 L292.6,165.3 L292.7,163.9 L292.8,162.9 L292.8,162.5 L292.9,161.2 L293.0,160.6 L293.0,160.0 L293.1,158.9 L293.2,157.8 L293.2,156.9 L293.3,156.5 L293.4,156.2 L293.5,155.3 L293.5,153.6 L293.6,153.2 L293.7,152.4 L293.8,151.2 L293.9,150.9 L294.0,149.8 L294.1,149.3 L294.2,147.9 L294.3,147.7 L294.4,146.7 L294.5,145.6 L294.6,144.4 L294.7,143.9 L294.8,142.7 L294.9,142.5 L295.0,141.7 L295.1,140.8 L295.2,140.5 L295.3,138.6 L295.4,138.3 L295.6,137.5 L295.7,135.9 L295.8,135.2 L295.9,134.0 L296.0,133.7 L296.2,133.1 L296.3,131.9 L296.5,131.6 L296.8,130.2 L297.1,129.6 L297.5,128.3 L297.9,128.5 L298.6,127.6 L299.3,127.1 L300.0,127.5 L300.7,128.7 L301.1,129.4 L301.5,129.9 L301.9,130.2 L302.2,131.8 L302.5,132.4 L302.7,132.6 L302.9,133.7 L303.1,134.9 L303.3,135.1 L303.5,136.1 L303.7,137.4 L303.9,138.7 L304.0,139.6 L304.2,139.7 L304.3,141.1 L304.4,141.7 L304.6,142.6 L304.7,143.2 L304.9,144.4 L305.0,144.9 L305.1,146.0 L305.3,146.5 L305.4,146.9 L305.5,148.1 L305.6,148.9 L305.8,149.6 L305.9,150.5 L306.0,151.4 L306.1,152.4 L306.3,152.9 L306.4,153.8 L306.5,154.8 L306.6,155.6 L306.8,156.4 L306.9,157.4 L307.0,157.8 L307.1,159.0 L307.3,159.5 L307.4,160.9 L307.5,161.6 L307.6,162.5 L307.8,163.1 L307.9,163.6 L308.0,165.1 L308.1,165.5 L308.3,166.2 L308.4,166.9 L308.5,167.8 L308.7,168.9 L308.8,169.8 L308.9,170.3 L309.0,171.3 L309.2,171.6 L309.3,172.7 L309.4,173.4 L309.5,174.1 L309.6,175.0 L309.8,176.2 L309.9,176.9 L310.0,177.2 L310.1,178.1 L310.2,179.4 L310.3,180.1 L310.4,180.9 L310.6,181.6 L310.7,182.4 L310.8,182.8 L310.9,183.4 L311.1,184.6 L311.2,185.1 L311.4,186.9 L311.6,187.3 L311.7,188.3 L311.9,189.4 L312.0,190.0 L312.2,190.2 L312.4,191.2 L312.6,191.9 L312.8,193.4 L313.0,194.2 L313.2,194.8 L313.4,195.4 L313.6,196.1 L313.9,197.2 L314.2,198.3 L314.6,199.2 L315.0,199.8 L315.7,200.7 L316.5,200.9 L317.5,201.4 L318.7,201.6 L319.5,202.4 L320.2,201.8 L321.2,201.9 L321.8,202.0 L322.4,202.8 L323.0,202.8 L323.7,202.3 L324.5,202.9 L325.3,203.0 L326.1,202.6 L327.0,202.4 L328.0,203.1 L329.0,202.8 L330.1,202.6 L331.2,203.4 L331.7,203.0 L332.2,202.9 L332.7,203.2 L333.3,202.8 L333.9,202.6 L334.4,203.0 L335.0,203.0 L335.7,202.7 L336.3,203.0 L336.9,203.4 L337.6,203.0 L338.3,203.4 L339.0,203.4 L339.7,202.9 L340.4,202.8 L341.1,203.4 L341.9,203.4 L342.6,203.1 L343.4,203.0 L344.2,203.7 L344.9,203.7 L345.7,203.1 L346.6,203.4 L347.4,203.4 L348.2,203.2 L349.0,202.9 L349.9,203.2 L350.7,203.5 L351.6,203.5 L352.4,203.4 L353.3,203.0 L354.2,203.1 L355.1,203.2 L356.0,203.3 L356.8,203.3 L357.7,203.8 L358.6,203.0 L359.5,203.9 L360.4,203.2 L361.4,203.8 L362.3,203.2 L363.2,203.5 L364.1,203.3 L365.0,203.0 L365.9,203.8 L366.8,203.8 L367.7,203.2 L368.6,203.8 L369.6,203.5 L370.5,204.0 L371.4,203.0 L372.3,203.4 L373.2,203.2 L374.1,203.6 L375.0,203.8 L375.8,203.9 L376.7,203.6 L377.6,203.4 L378.5,203.8 L379.3,203.2 L380.2,203.3 L381.1,203.8 L381.9,203.5 L382.7,204.1 L383.6,203.2 L384.4,203.6 L385.2,203.3" fill="none" stroke="#e0a030" stroke-width="0.77" stroke-linejoin="round"/>
<path d="M283.0,201.0 L283.2,200.9 L283.5,200.8 L284.3,200.9 L285.4,200.7 L286.3,200.4 L286.9,199.6 L287.3,199.4 L287.7,198.4 L288.1,198.0 L288.3,196.5 L288.6,196.0 L288.7,195.2 L288.9,194.2 L289.1,193.8 L289.2,192.2 L289.4,191.9 L289.5,190.5 L289.6,189.7 L289.7,189.2 L289.8,188.4 L289.9,187.3 L290.0,186.3 L290.1,186.4 L290.1,185.0 L290.2,183.9 L290.3,183.6 L290.4,182.6 L290.4,181.6 L290.5,180.7 L290.6,180.3 L290.7,179.0 L290.7,178.3 L290.8,178.0 L290.9,176.6 L291.0,175.8 L291.0,174.7 L291.1,174.4 L291.2,173.5 L291.2,172.5 L291.3,171.6 L291.4,170.5 L291.4,170.2 L291.5,169.0 L291.6,168.5 L291.6,167.2 L291.7,166.7 L291.8,165.2 L291.8,164.6 L291.9,164.5 L292.0,163.4 L292.0,162.5 L292.1,161.5 L292.2,160.6 L292.2,159.5 L292.3,158.7 L292.4,158.3 L292.4,157.5 L292.5,156.2 L292.6,155.8 L292.7,154.5 L292.7,154.1 L292.8,152.9 L292.9,152.4 L293.0,151.4 L293.1,150.7 L293.2,149.5 L293.3,149.0 L293.4,148.2 L293.5,146.9 L293.6,146.2 L293.7,145.8 L293.8,144.8 L293.9,144.1 L294.0,143.4 L294.1,142.4 L294.2,141.3 L294.3,140.7 L294.4,140.3 L294.5,139.1 L294.6,138.4 L294.8,137.0 L294.9,136.2 L295.0,135.8 L295.1,134.8 L295.2,133.8 L295.4,132.4 L295.5,132.2 L295.7,130.9 L296.0,130.8 L296.3,129.9 L296.7,128.8 L297.1,127.8 L297.8,128.0 L298.5,127.3 L299.2,128.2 L299.9,128.5 L300.3,128.6 L300.7,130.1 L301.1,130.5 L301.4,131.7 L301.7,132.3 L301.9,133.0 L302.1,134.2 L302.3,134.4 L302.5,136.0 L302.7,136.4 L302.9,137.0 L303.1,138.1 L303.2,138.6 L303.4,139.4 L303.5,140.8 L303.6,141.1 L303.8,141.9 L303.9,142.9 L304.1,143.7 L304.2,145.2 L304.3,146.0 L304.5,146.8 L304.6,147.7 L304.7,148.0 L304.8,149.2 L305.0,149.5 L305.1,151.0 L305.2,151.7 L305.3,152.5 L305.5,152.9 L305.6,153.6 L305.7,155.2 L305.8,155.7 L306.0,156.6 L306.1,157.6 L306.2,157.8 L306.3,159.1 L306.5,159.7 L306.6,160.9 L306.7,161.4 L306.8,162.0 L307.0,163.5 L307.1,163.7 L307.2,165.0 L307.3,165.8 L307.5,166.1 L307.6,167.3 L307.7,167.8 L307.9,168.4 L308.0,169.2 L308.1,170.8 L308.2,171.0 L308.4,171.9 L308.5,172.7 L308.6,173.0 L308.7,174.6 L308.8,175.3 L309.0,176.3 L309.1,176.6 L309.2,177.2 L309.3,178.2 L309.4,179.4 L309.5,180.1 L309.6,180.6 L309.8,181.5 L309.9,181.9 L310.0,183.4 L310.1,183.9 L310.3,184.8 L310.4,185.9 L310.6,186.1 L310.8,187.5 L310.9,188.0 L311.1,189.2 L311.2,189.3 L311.4,190.3 L311.6,191.5 L311.8,192.2 L312.0,193.0 L312.2,194.1 L312.4,194.5 L312.6,195.5 L312.8,195.8 L313.1,197.5 L313.4,197.8 L313.8,199.2 L314.2,199.6 L314.9,200.5 L315.7,201.1 L316.7,201.1 L317.9,202.1 L318.7,201.8 L319.4,202.4 L320.4,202.5 L321.0,202.4 L321.6,202.7 L322.2,202.3 L322.9,202.7 L323.7,203.0 L324.5,202.3 L325.3,202.3 L326.2,202.7 L327.2,202.8 L328.2,202.5 L329.3,202.7 L330.4,203.4 L330.9,202.9 L331.4,202.7 L331.9,202.7 L332.5,203.2 L333.1,202.8 L333.6,203.1 L334.2,203.2 L334.9,203.1 L335.5,203.2 L336.1,203.5 L336.8,202.7 L337.5,203.6 L338.2,202.9 L338.9,202.8 L339.6,203.5 L340.3,203.3 L341.1,203.3 L341.8,203.0 L342.6,203.6 L343.4,203.1 L344.1,203.5 L344.9,203.1 L345.8,203.4 L346.6,203.5 L347.4,203.2 L348.2,203.3 L349.1,202.9 L349.9,203.5 L350.8,203.6 L351.6,203.0 L352.5,203.4 L353.4,203.6 L354.3,203.0 L355.2,203.8 L356.0,203.8 L356.9,203.0 L357.8,203.2 L358.7,203.0 L359.6,203.2 L360.6,203.0 L361.5,203.4 L362.4,203.2 L363.3,203.3 L364.2,203.4 L365.1,203.3 L366.0,203.8 L366.9,203.7 L367.8,203.1 L368.8,203.2 L369.7,203.0 L370.6,203.3 L371.5,203.1 L372.4,203.7 L373.3,203.8 L374.2,204.0 L375.0,203.2 L375.9,203.1 L376.8,203.8 L377.7,203.5 L378.5,204.0 L379.4,203.4 L380.3,203.4 L381.1,203.1 L381.9,204.0 L382.8,203.6 L383.6,203.5 L384.4,203.5" fill="none" stroke="#5c6a64" stroke-width="0.94" stroke-linejoin="round"/>
<path d="M282.3,201.8 L282.5,201.7 L282.8,201.2 L283.6,200.7 L284.7,200.7 L285.6,200.8 L286.2,199.8 L286.6,199.3 L287.0,198.4 L287.4,197.5 L287.6,196.9 L287.9,195.8 L288.0,195.3 L288.2,194.7 L288.4,193.0 L288.5,192.4 L288.7,191.9 L288.8,191.1 L288.9,189.4 L289.0,189.2 L289.1,188.5 L289.2,187.9 L289.3,186.7 L289.4,185.6 L289.4,184.9 L289.5,184.5 L289.6,183.7 L289.7,182.3 L289.7,181.9 L289.8,181.0 L289.9,180.2 L290.0,178.7 L290.0,178.3 L290.1,177.4 L290.2,176.8 L290.3,175.7 L290.3,174.7 L290.4,174.4 L290.5,173.2 L290.5,172.8 L290.6,171.5 L290.7,170.8 L290.7,170.2 L290.8,168.7 L290.9,168.4 L290.9,166.9 L291.0,166.9 L291.1,165.2 L291.1,165.1 L291.2,163.9 L291.3,162.9 L291.3,162.2 L291.4,161.5 L291.5,160.6 L291.5,159.5 L291.6,159.0 L291.7,158.0 L291.7,157.8 L291.8,156.4 L291.9,155.6 L292.0,154.6 L292.0,154.5 L292.1,153.0 L292.2,152.5 L292.3,151.9 L292.4,150.6 L292.5,150.1 L292.6,148.8 L292.7,147.7 L292.8,146.8 L292.9,146.4 L293.0,146.0 L293.1,144.5 L293.2,143.9 L293.3,143.4 L293.4,142.1 L293.5,141.2 L293.6,140.8 L293.7,139.9 L293.8,139.5 L293.9,138.5 L294.1,136.9 L294.2,136.3 L294.3,135.3 L294.4,134.0 L294.5,133.6 L294.7,133.2 L294.8,131.9 L295.0,131.5 L295.3,130.6 L295.6,128.9 L296.0,129.0 L296.4,127.6 L297.1,127.4 L297.8,127.8 L298.5,127.4 L299.2,128.4 L299.6,128.7 L300.0,129.7 L300.4,130.1 L300.7,131.1 L301.0,131.9 L301.2,132.5 L301.4,133.4 L301.6,134.4 L301.8,135.7 L302.0,136.2 L302.2,137.8 L302.4,138.2 L302.5,138.8 L302.7,139.6 L302.8,141.0 L302.9,141.0 L303.1,142.5 L303.2,142.7 L303.4,144.4 L303.5,144.7 L303.6,145.7 L303.8,146.8 L303.9,146.8 L304.0,147.6 L304.1,149.1 L304.3,149.8 L304.4,150.8 L304.5,151.2 L304.6,152.3 L304.8,152.8 L304.9,153.9 L305.0,154.6 L305.1,155.7 L305.3,156.3 L305.4,157.1 L305.5,158.2 L305.6,158.5 L305.8,160.1 L305.9,160.6 L306.0,161.2 L306.1,161.9 L306.3,163.1 L306.4,163.9 L306.5,164.9 L306.6,165.4 L306.8,166.2 L306.9,167.5 L307.0,167.7 L307.2,169.2 L307.3,169.9 L307.4,170.8 L307.5,171.5 L307.7,171.7 L307.8,173.0 L307.9,173.6 L308.0,174.0 L308.1,175.6 L308.3,176.1 L308.4,177.0 L308.5,177.6 L308.6,177.9 L308.7,179.5 L308.8,179.6 L308.9,180.5 L309.1,181.6 L309.2,181.9 L309.3,183.0 L309.4,184.1 L309.6,184.3 L309.7,185.8 L309.9,186.1 L310.1,187.3 L310.2,188.3 L310.4,189.1 L310.5,189.3 L310.7,190.2 L310.9,191.8 L311.1,192.2 L311.3,193.1 L311.5,193.9 L311.7,195.0 L311.9,195.8 L312.1,196.5 L312.4,197.1 L312.7,198.1 L313.1,198.8 L313.5,199.2 L314.2,200.8 L315.0,201.5 L316.0,201.8 L317.2,202.3 L318.0,201.9 L318.7,202.4 L319.7,201.9 L320.3,202.5 L320.9,202.6 L321.5,202.8 L322.2,202.8 L323.0,202.9 L323.8,202.4 L324.6,203.0 L325.5,202.7 L326.5,202.6 L327.5,202.8 L328.6,203.2 L329.7,203.3 L330.2,203.4 L330.7,203.2 L331.2,202.7 L331.8,202.7 L332.4,203.2 L332.9,202.8 L333.5,203.0 L334.2,202.8 L334.8,202.8 L335.4,203.4 L336.1,202.9 L336.8,203.6 L337.5,203.1 L338.2,203.6 L338.9,203.1 L339.6,203.0 L340.4,203.2 L341.1,202.8 L341.9,203.2 L342.7,203.2 L343.4,202.8 L344.2,203.7 L345.1,203.2 L345.9,202.8 L346.7,203.8 L347.5,203.1 L348.4,203.1 L349.2,202.9 L350.1,203.0 L350.9,203.6 L351.8,203.5 L352.7,203.4 L353.6,203.2 L354.5,203.2 L355.3,203.9 L356.2,203.3 L357.1,203.9 L358.0,203.8 L358.9,203.1 L359.9,203.8 L360.8,203.0 L361.7,203.7 L362.6,203.8 L363.5,203.7 L364.4,203.5 L365.3,203.8 L366.2,203.1 L367.1,203.5 L368.1,203.3 L369.0,203.4 L369.9,203.2 L370.8,203.7 L371.7,203.6 L372.6,203.8 L373.5,203.6 L374.3,203.6 L375.2,203.9 L376.1,203.8 L377.0,203.6 L377.8,203.4 L378.7,204.0 L379.6,203.4 L380.4,203.2 L381.2,203.4 L382.1,203.8 L382.9,204.0 L383.7,203.7" fill="none" stroke="#3a9e86" stroke-width="0.94" stroke-linejoin="round"/>
<line x1="282.4" y1="203.9" x2="384.3" y2="203.9" stroke="#5a5a5a" stroke-width="1"/>
<line x1="282.4" y1="122.6" x2="282.4" y2="203.9" stroke="#8a8a8a" stroke-width="1.0"/>
<path d="M280.2,203.9 H282.7 M281.3,200.03 H282.7 M281.3,196.16 H282.7 M281.3,192.29 H282.7 M280.2,188.41 H282.7 M281.3,184.54 H282.7 M281.3,180.67 H282.7 M281.3,176.8 H282.7 M280.2,172.93 H282.7 M281.3,169.06 H282.7 M281.3,165.19 H282.7 M281.3,161.31 H282.7 M280.2,157.44 H282.7 M281.3,153.57 H282.7 M281.3,149.7 H282.7 M281.3,145.83 H282.7 M280.2,141.96 H282.7 M281.3,138.09 H282.7 M281.3,134.21 H282.7 M281.3,130.34 H282.7 M280.2,126.47 H282.7 M281.3,122.6 H282.7" stroke="#2a2a3a" stroke-width="0.75"/>
<path d="M282.4,203.6 V205.9 M290.07,203.6 V205 M294.55,203.6 V205 M297.74,203.6 V205 M300.21,203.6 V205 M302.22,203.6 V205 M303.93,203.6 V205 M305.41,203.6 V205 M306.71,203.6 V205 M307.88,203.6 V205.9 M315.54,203.6 V205 M320.03,203.6 V205 M323.21,203.6 V205 M325.68,203.6 V205 M327.7,203.6 V205 M329.4,203.6 V205 M330.88,203.6 V205 M332.18,203.6 V205 M333.35,203.6 V205.9 M341.02,203.6 V205 M345.5,203.6 V205 M348.69,203.6 V205 M351.16,203.6 V205 M353.17,203.6 V205 M354.88,203.6 V205 M356.36,203.6 V205 M357.66,203.6 V205 M358.82,203.6 V205.9 M366.49,203.6 V205 M370.98,203.6 V205 M374.16,203.6 V205 M376.63,203.6 V205 M378.65,203.6 V205 M380.35,203.6 V205 M381.83,203.6 V205 M383.13,203.6 V205 M384.3,203.9 V205.9" stroke="#3a3a3a" stroke-width="0.7"/>
<text x="278.5" y="205.7" font-size="5.4" text-anchor="end" fill="#222">0</text>
<text x="278.5" y="190.21" font-size="5.4" text-anchor="end" fill="#222">20</text>
<text x="278.5" y="174.73" font-size="5.4" text-anchor="end" fill="#222">40</text>
<text x="278.5" y="159.24" font-size="5.4" text-anchor="end" fill="#222">60</text>
<text x="278.5" y="143.76" font-size="5.4" text-anchor="end" fill="#222">80</text>
<text x="278.5" y="128.27" font-size="5.4" text-anchor="end" fill="#222">100</text>
<text x="283" y="212.1" font-size="5.6" text-anchor="middle" fill="#666">10<tspan font-size="4.4" dy="-2.5">0</tspan></text>
<text x="308.48" y="212.1" font-size="5.6" text-anchor="middle" fill="#666">10<tspan font-size="4.4" dy="-2.5">1</tspan></text>
<text x="333.95" y="212.1" font-size="5.6" text-anchor="middle" fill="#666">10<tspan font-size="4.4" dy="-2.5">2</tspan></text>
<text x="359.43" y="212.1" font-size="5.6" text-anchor="middle" fill="#666">10<tspan font-size="4.4" dy="-2.5">3</tspan></text>
<text x="384.9" y="212.1" font-size="5.6" text-anchor="middle" fill="#666">10<tspan font-size="4.4" dy="-2.5">4</tspan></text>
<text x="346" y="135.8" font-size="11.9" textLength="33.7" lengthAdjust="spacingAndGlyphs" fill="#111" stroke="#111" stroke-width="0.22">H1184</text>
<path d="M398.2,122 H497.6 V203.8" fill="none" stroke="#8e8e8e" stroke-width="1"/>
<path d="M401.6,199.2 L401.8,198.6 L402.1,197.7 L402.3,196.6 L402.6,195.8 L402.8,195.3 L403.0,194.0 L403.2,193.0 L403.3,192.6 L403.5,192.0 L403.6,190.5 L403.7,190.0 L403.8,189.3 L404.0,187.6 L404.1,186.7 L404.2,186.2 L404.4,185.2 L404.5,185.0 L404.7,184.2 L404.8,182.8 L404.9,182.2 L405.1,181.1 L405.2,179.7 L405.3,179.8 L405.4,178.2 L405.4,177.4 L405.5,177.0 L405.6,175.7 L405.6,175.4 L405.7,174.5 L405.7,174.2 L405.8,172.8 L405.9,172.4 L405.9,171.4 L406.0,170.3 L406.0,169.1 L406.1,168.3 L406.2,167.7 L406.2,166.7 L406.3,166.1 L406.4,165.2 L406.4,164.2 L406.5,163.6 L406.6,163.2 L406.6,161.6 L406.7,160.9 L406.8,159.7 L406.9,158.9 L406.9,158.1 L407.0,157.6 L407.1,157.2 L407.1,156.2 L407.2,155.7 L407.3,154.7 L407.4,153.7 L407.4,152.9 L407.5,151.5 L407.6,151.0 L407.6,150.1 L407.7,149.6 L407.8,148.2 L407.8,147.8 L407.9,146.8 L408.0,146.1 L408.0,145.2 L408.1,144.1 L408.2,143.9 L408.3,143.2 L408.3,142.3 L408.4,141.0 L408.5,140.8 L408.6,140.4 L408.7,139.5 L408.9,138.4 L409.1,136.8 L409.2,136.8 L409.4,135.8 L409.6,134.6 L409.7,134.4 L409.9,133.5 L410.1,132.7 L410.3,131.2 L410.5,130.6 L410.6,129.6 L410.8,128.7 L411.0,128.3" fill="none" stroke="#e23a2a" stroke-width="0.77" stroke-linejoin="round"/>
<path d="M398.1,202.6 L398.6,201.5 L399.3,200.8 L399.9,200.8 L400.7,200.1 L401.5,200.0 L402.1,199.1 L402.5,198.9 L402.7,197.2 L403.0,196.8 L403.1,196.0 L403.3,195.3 L403.5,194.7 L403.7,193.5 L403.8,192.5 L404.0,191.8 L404.1,190.8 L404.2,190.0 L404.3,189.4 L404.5,187.5 L404.6,186.9 L404.7,186.6 L404.9,184.9 L405.0,184.8 L405.2,183.2 L405.3,183.0 L405.4,182.2 L405.6,180.7 L405.7,179.9 L405.8,179.0 L405.9,178.8 L405.9,177.8 L406.0,177.1 L406.1,176.1 L406.1,175.5 L406.2,175.0 L406.2,174.0 L406.3,173.3 L406.4,171.7 L406.4,171.1 L406.5,170.1 L406.5,169.2 L406.6,168.8 L406.7,167.4 L406.7,166.9 L406.8,166.3 L406.9,165.6 L406.9,163.9 L407.0,163.3 L407.1,162.7 L407.1,162.3 L407.2,160.7 L407.3,160.5 L407.4,159.2 L407.4,158.6 L407.5,158.1 L407.6,156.4 L407.6,155.9 L407.7,154.9 L407.8,154.0 L407.9,153.4 L407.9,153.0 L408.0,152.1 L408.1,150.8 L408.1,150.6 L408.2,149.5 L408.3,148.3 L408.3,148.1 L408.4,147.3 L408.5,145.9 L408.5,145.8 L408.6,144.8 L408.7,143.4 L408.8,142.4 L408.8,142.5 L408.9,141.7 L409.0,140.3 L409.1,140.3 L409.2,139.3 L409.4,138.3 L409.6,137.6 L409.7,136.9 L409.9,135.4 L410.1,135.1 L410.2,134.4 L410.4,133.0 L410.6,132.4 L410.8,131.5 L410.9,130.7 L411.1,129.5 L411.3,128.4 L411.5,127.8 L411.9,127.2 L412.3,126.3 L412.8,127.7 L413.2,128.9 L413.4,129.0 L413.6,130.3 L413.7,131.2 L413.9,131.7 L414.1,133.5 L414.2,134.1 L414.3,134.3 L414.5,134.8 L414.6,135.8 L414.7,137.0 L414.9,137.5 L415.0,138.7 L415.2,138.8 L415.3,139.6 L415.5,140.7 L415.6,142.1 L415.7,142.2 L415.9,143.0 L416.0,144.6 L416.1,144.7 L416.2,146.0 L416.3,146.3 L416.4,147.3 L416.5,148.5 L416.6,149.6 L416.7,150.0 L416.8,150.9 L416.9,151.3 L417.0,152.5 L417.1,153.2 L417.2,154.6 L417.3,155.4 L417.4,156.3 L417.5,156.9 L417.6,157.8 L417.7,158.1 L417.8,159.1 L417.9,159.9 L418.0,160.7 L418.1,162.1 L418.2,162.4 L418.3,163.3 L418.4,164.1 L418.6,165.5 L418.7,166.1 L418.8,166.8 L418.9,167.5 L419.0,168.8 L419.1,169.6 L419.2,169.9 L419.3,170.9 L419.4,172.0 L419.5,172.2 L419.7,173.1 L419.8,173.7 L419.9,174.9 L420.0,176.0 L420.1,176.2 L420.2,177.3 L420.4,178.6 L420.5,178.9 L420.6,179.6 L420.7,180.9 L420.9,181.8 L421.0,182.1 L421.1,182.7 L421.3,184.1 L421.4,185.0 L421.6,186.0 L421.7,186.6 L421.9,187.0 L422.0,188.0 L422.2,188.7 L422.3,189.7 L422.5,190.6 L422.7,191.8 L422.8,192.7 L423.0,193.5 L423.2,193.8 L423.4,195.1 L423.7,195.2 L423.9,196.9 L424.2,197.6 L424.5,198.6 L424.8,198.9 L425.2,200.3 L425.7,200.0 L426.2,201.4 L426.9,201.9 L427.7,201.8 L428.5,202.6 L429.2,202.3 L430.0,203.1 L430.9,203.0 L431.5,203.0 L432.2,202.9 L432.8,203.5 L433.6,203.5 L434.4,202.9 L435.3,203.8 L436.2,203.0 L437.2,203.2 L438.3,203.3 L439.5,203.5 L440.0,203.8 L440.4,203.9 L440.9,203.6 L441.5,203.3 L442.0,203.1 L442.6,203.0 L443.1,203.5 L443.7,203.6 L444.3,203.4 L445.0,204.0 L445.6,203.4 L446.2,203.4 L446.9,203.4 L447.6,203.2 L448.3,204.0 L449.0,203.6 L449.7,203.6 L450.5,203.5 L451.2,203.3 L452.0,203.4 L452.8,203.6 L453.6,203.5 L454.4,204.1 L455.2,203.7 L456.0,203.3 L456.8,203.2 L457.7,203.3 L458.5,203.5 L459.4,203.9 L460.2,204.0 L461.1,203.4 L462.0,203.9 L462.8,203.6 L463.7,203.7 L464.6,203.7 L465.5,203.2 L466.4,203.2 L467.3,203.8 L468.2,203.9 L469.2,203.6 L470.1,204.1 L471.0,204.0 L471.9,203.5 L472.9,203.3 L473.8,203.7 L474.7,203.9 L475.6,203.4 L476.6,203.2 L477.5,203.7 L478.4,203.2 L479.4,204.0 L480.3,203.8 L481.2,203.5 L482.1,203.7 L483.0,203.5 L484.0,203.4 L484.9,203.4 L485.8,204.1 L486.7,203.7 L487.6,204.0 L488.5,203.6 L489.4,204.1 L490.2,203.9 L491.1,203.9 L492.0,203.7 L492.8,203.8 L493.7,203.5 L494.5,204.3 L495.4,204.0 L496.2,203.8 L497.0,203.9" fill="none" stroke="#3c3cb4" stroke-width="0.77" stroke-linejoin="round"/>
<path d="M398.9,202.1 L399.4,201.5 L400.1,200.5 L400.7,200.7 L401.5,199.5 L402.3,199.5 L402.9,199.4 L403.3,198.7 L403.5,197.9 L403.8,196.6 L403.9,195.7 L404.1,195.3 L404.3,194.0 L404.5,193.6 L404.6,192.4 L404.8,191.9 L404.9,190.8 L405.0,190.1 L405.1,189.4 L405.3,187.9 L405.4,187.6 L405.5,185.7 L405.7,185.8 L405.8,184.1 L406.0,183.7 L406.1,182.7 L406.2,182.2 L406.4,180.8 L406.5,179.7 L406.6,179.6 L406.7,178.6 L406.7,178.1 L406.8,177.0 L406.9,175.8 L406.9,175.7 L407.0,174.3 L407.0,173.7 L407.1,172.4 L407.2,171.8 L407.2,171.3 L407.3,170.5 L407.3,169.5 L407.4,168.5 L407.5,167.9 L407.5,167.0 L407.6,165.7 L407.7,165.2 L407.7,164.4 L407.8,163.7 L407.9,162.4 L407.9,161.7 L408.0,160.9 L408.1,159.8 L408.2,159.2 L408.2,158.7 L408.3,157.8 L408.4,156.5 L408.4,156.3 L408.5,154.8 L408.6,154.7 L408.7,153.2 L408.7,152.4 L408.8,151.8 L408.9,151.2 L408.9,150.1 L409.0,149.9 L409.1,149.1 L409.1,147.6 L409.2,147.2 L409.3,146.3 L409.3,145.4 L409.4,144.3 L409.5,144.2 L409.6,143.4 L409.6,141.7 L409.7,141.3 L409.8,140.5 L409.9,139.7 L410.0,139.0 L410.2,138.5 L410.4,136.8 L410.5,136.8 L410.7,135.4 L410.9,134.3 L411.0,134.4 L411.2,133.0 L411.4,132.0 L411.6,130.9 L411.7,130.2 L411.9,129.1 L412.1,128.3 L412.3,127.8 L412.7,127.2 L413.1,126.6 L413.6,127.1 L414.0,128.5 L414.2,129.5 L414.4,130.3 L414.5,130.9 L414.7,132.5 L414.9,133.5 L415.0,133.9 L415.1,134.5 L415.3,135.1 L415.4,135.6 L415.5,137.1 L415.7,137.6 L415.8,137.9 L416.0,139.6 L416.1,140.4 L416.3,140.4 L416.4,141.9 L416.5,142.3 L416.7,143.5 L416.8,144.6 L416.9,144.9 L417.0,145.9 L417.1,146.8 L417.2,147.2 L417.3,148.5 L417.4,149.1 L417.5,150.5 L417.6,150.6 L417.7,152.0 L417.8,152.2 L417.9,153.3 L418.0,153.9 L418.1,154.8 L418.2,156.0 L418.3,156.5 L418.4,157.9 L418.5,158.0 L418.6,159.3 L418.7,160.5 L418.8,160.6 L418.9,161.5 L419.0,162.9 L419.1,163.5 L419.2,164.8 L419.4,165.0 L419.5,165.9 L419.6,167.2 L419.7,167.4 L419.8,168.9 L419.9,169.6 L420.0,169.7 L420.1,170.9 L420.2,172.1 L420.3,172.1 L420.5,173.7 L420.6,174.4 L420.7,175.2 L420.8,175.8 L420.9,176.1 L421.0,177.8 L421.2,177.7 L421.3,179.2 L421.4,179.9 L421.5,180.4 L421.7,181.6 L421.8,182.2 L421.9,183.4 L422.1,183.5 L422.2,185.2 L422.4,185.5 L422.5,186.7 L422.7,187.2 L422.8,188.3 L423.0,188.7 L423.1,189.8 L423.3,190.1 L423.5,191.4 L423.6,191.8 L423.8,193.4 L424.0,194.0 L424.2,194.5 L424.5,196.0 L424.7,197.0 L425.0,197.9 L425.3,197.8 L425.6,199.2 L426.0,200.0 L426.5,200.6 L427.0,200.6 L427.7,202.0 L428.5,201.9 L429.3,202.4 L430.0,202.9 L430.8,202.6 L431.7,202.5 L432.3,203.5 L433.0,202.9 L433.6,202.8 L434.4,202.9 L435.2,203.8 L436.1,203.5 L437.0,203.0 L438.0,203.0 L439.1,203.8 L440.3,203.6 L440.8,203.5 L441.2,203.1 L441.7,203.3 L442.3,203.9 L442.8,203.0 L443.4,203.4 L443.9,203.0 L444.5,204.0 L445.1,203.1 L445.8,204.0 L446.4,203.9 L447.0,203.8 L447.7,203.1 L448.4,203.7 L449.1,203.5 L449.8,203.5 L450.5,203.2 L451.3,203.6 L452.0,203.9 L452.8,203.2 L453.6,204.0 L454.4,203.5 L455.2,203.4 L456.0,203.3 L456.8,203.6 L457.6,203.8 L458.5,203.7 L459.3,204.0 L460.2,203.6 L461.0,203.6 L461.9,204.1 L462.8,203.4 L463.6,203.2 L464.5,203.5 L465.4,203.5 L466.3,203.3 L467.2,203.6 L468.1,203.2 L469.0,204.1 L470.0,203.7 L470.9,204.1 L471.8,203.9 L472.7,203.9 L473.7,203.9 L474.6,203.5 L475.5,203.9 L476.4,203.4 L477.4,203.8 L478.3,203.8 L479.2,204.0 L480.2,203.4 L481.1,203.6 L482.0,204.0 L482.9,204.0 L483.8,204.2 L484.8,203.3 L485.7,203.4 L486.6,203.3 L487.5,204.0 L488.4,204.0 L489.3,203.9 L490.2,204.0 L491.0,203.8 L491.9,203.8 L492.8,204.2 L493.6,203.9 L494.5,203.9 L495.3,203.9 L496.2,203.8 L497.0,204.1 L497.8,203.9" fill="none" stroke="#5c6a64" stroke-width="0.85" stroke-linejoin="round"/>
<path d="M398.4,202.1 L398.9,201.6 L399.6,200.7 L400.2,200.3 L401.0,200.1 L401.8,199.4 L402.4,198.9 L402.8,198.3 L403.0,197.5 L403.3,197.3 L403.4,195.6 L403.6,194.6 L403.8,194.4 L404.0,193.3 L404.1,192.5 L404.3,191.7 L404.4,190.6 L404.5,189.6 L404.6,188.4 L404.8,188.4 L404.9,187.5 L405.0,186.0 L405.2,185.3 L405.3,184.4 L405.5,183.3 L405.6,183.2 L405.7,182.3 L405.9,180.7 L406.0,179.8 L406.1,179.5 L406.2,178.9 L406.2,177.8 L406.3,176.9 L406.4,176.0 L406.4,175.7 L406.5,174.9 L406.5,174.1 L406.6,172.5 L406.7,172.1 L406.7,171.6 L406.8,170.5 L406.8,169.4 L406.9,168.2 L407.0,167.2 L407.0,167.1 L407.1,165.6 L407.2,165.5 L407.2,164.5 L407.3,163.5 L407.4,163.1 L407.4,162.3 L407.5,161.1 L407.6,159.8 L407.7,159.4 L407.7,158.4 L407.8,157.4 L407.9,157.3 L407.9,156.3 L408.0,154.8 L408.1,154.1 L408.2,153.4 L408.2,152.9 L408.3,151.8 L408.4,151.1 L408.4,150.6 L408.5,149.2 L408.6,148.9 L408.6,147.6 L408.7,147.4 L408.8,146.6 L408.8,145.1 L408.9,144.6 L409.0,143.3 L409.1,142.8 L409.1,142.3 L409.2,141.6 L409.3,140.5 L409.4,139.5 L409.5,138.7 L409.7,138.2 L409.9,136.9 L410.0,136.2 L410.2,135.7 L410.4,135.2 L410.5,134.0 L410.7,133.0 L410.9,132.3 L411.1,131.1 L411.2,130.6 L411.4,129.1 L411.6,128.4 L411.8,127.9 L412.2,127.5 L412.6,126.4 L413.1,127.0 L413.5,128.1 L413.7,129.0 L413.9,129.9 L414.0,131.0 L414.2,132.4 L414.4,133.1 L414.5,133.8 L414.6,134.4 L414.8,135.5 L414.9,136.4 L415.0,136.7 L415.2,138.0 L415.3,138.1 L415.5,139.7 L415.6,140.0 L415.8,141.1 L415.9,141.6 L416.0,142.4 L416.2,143.1 L416.3,144.7 L416.4,144.9 L416.5,146.1 L416.6,146.6 L416.7,147.5 L416.8,148.1 L416.9,148.9 L417.0,149.9 L417.1,151.1 L417.2,151.8 L417.3,152.1 L417.4,153.7 L417.5,154.3 L417.6,154.7 L417.7,155.8 L417.8,156.5 L417.9,158.0 L418.0,158.5 L418.1,159.0 L418.2,159.8 L418.3,160.8 L418.4,161.6 L418.5,162.5 L418.6,163.8 L418.7,164.6 L418.9,165.4 L419.0,166.4 L419.1,166.9 L419.2,167.2 L419.3,167.9 L419.4,168.9 L419.5,169.8 L419.6,170.9 L419.7,172.0 L419.8,172.6 L420.0,173.2 L420.1,173.9 L420.2,175.4 L420.3,176.0 L420.4,176.4 L420.5,176.9 L420.7,178.6 L420.8,178.7 L420.9,180.0 L421.0,180.2 L421.2,181.6 L421.3,182.1 L421.4,183.5 L421.6,183.7 L421.7,184.4 L421.9,185.3 L422.0,186.7 L422.2,187.7 L422.3,188.1 L422.5,189.1 L422.6,189.5 L422.8,190.4 L423.0,191.0 L423.1,192.7 L423.3,192.6 L423.5,194.0 L423.7,194.4 L424.0,195.3 L424.2,196.5 L424.5,197.8 L424.8,198.0 L425.1,198.7 L425.5,199.9 L426.0,200.7 L426.5,201.1 L427.2,201.3 L428.0,202.3 L428.8,201.9 L429.5,202.3 L430.3,202.6 L431.2,203.0 L431.8,203.1 L432.5,203.2 L433.1,203.4 L433.9,203.6 L434.7,203.2 L435.6,202.8 L436.5,203.7 L437.5,202.9 L438.6,203.2 L439.8,203.0 L440.3,203.5 L440.7,203.7 L441.2,203.1 L441.8,203.2 L442.3,203.8 L442.9,203.7 L443.4,203.1 L444.0,203.7 L444.6,203.8 L445.3,203.4 L445.9,203.2 L446.5,203.7 L447.2,203.3 L447.9,203.2 L448.6,203.2 L449.3,203.5 L450.0,203.2 L450.8,203.5 L451.5,203.6 L452.3,203.6 L453.1,203.5 L453.9,203.9 L454.7,203.2 L455.5,203.4 L456.3,204.0 L457.1,204.0 L458.0,204.0 L458.8,203.9 L459.7,203.7 L460.5,203.9 L461.4,203.7 L462.3,203.3 L463.1,203.4 L464.0,203.2 L464.9,204.0 L465.8,203.5 L466.7,203.6 L467.6,203.7 L468.5,203.3 L469.5,203.9 L470.4,204.0 L471.3,204.0 L472.2,204.1 L473.2,203.5 L474.1,203.3 L475.0,204.0 L475.9,203.9 L476.9,203.6 L477.8,203.5 L478.7,203.4 L479.7,204.0 L480.6,203.7 L481.5,204.0 L482.4,203.6 L483.3,203.5 L484.3,203.7 L485.2,204.0 L486.1,204.1 L487.0,203.6 L487.9,203.9 L488.8,203.7 L489.7,204.1 L490.5,204.0 L491.4,203.8 L492.3,203.6 L493.1,203.5 L494.0,204.2 L494.8,204.1 L495.7,203.6 L496.5,203.4 L497.3,203.5" fill="none" stroke="#3a9e86" stroke-width="0.94" stroke-linejoin="round"/>
<line x1="398.2" y1="203.8" x2="497.6" y2="203.8" stroke="#5a5a5a" stroke-width="1"/>
<line x1="398.2" y1="122" x2="398.2" y2="203.8" stroke="#8a8a8a" stroke-width="1.0"/>
<path d="M396,203.8 H398.5 M397.1,199.9 H398.5 M397.1,196.01 H398.5 M397.1,192.11 H398.5 M396,188.22 H398.5 M397.1,184.32 H398.5 M397.1,180.43 H398.5 M397.1,176.53 H398.5 M396,172.64 H398.5 M397.1,168.74 H398.5 M397.1,164.85 H398.5 M397.1,160.95 H398.5 M396,157.06 H398.5 M397.1,153.16 H398.5 M397.1,149.27 H398.5 M397.1,145.37 H398.5 M396,141.48 H398.5 M397.1,137.58 H398.5 M397.1,133.69 H398.5 M397.1,129.79 H398.5 M396,125.9 H398.5 M397.1,122 H398.5" stroke="#2a2a3a" stroke-width="0.75"/>
<path d="M398.2,203.5 V205.8 M405.68,203.5 V204.9 M410.06,203.5 V204.9 M413.16,203.5 V204.9 M415.57,203.5 V204.9 M417.54,203.5 V204.9 M419.2,203.5 V204.9 M420.64,203.5 V204.9 M421.91,203.5 V204.9 M423.05,203.5 V205.8 M430.53,203.5 V204.9 M434.91,203.5 V204.9 M438.01,203.5 V204.9 M440.42,203.5 V204.9 M442.39,203.5 V204.9 M444.05,203.5 V204.9 M445.49,203.5 V204.9 M446.76,203.5 V204.9 M447.9,203.5 V205.8 M455.38,203.5 V204.9 M459.76,203.5 V204.9 M462.86,203.5 V204.9 M465.27,203.5 V204.9 M467.24,203.5 V204.9 M468.9,203.5 V204.9 M470.34,203.5 V204.9 M471.61,203.5 V204.9 M472.75,203.5 V205.8 M480.23,203.5 V204.9 M484.61,203.5 V204.9 M487.71,203.5 V204.9 M490.12,203.5 V204.9 M492.09,203.5 V204.9 M493.75,203.5 V204.9 M495.19,203.5 V204.9 M496.46,203.5 V204.9 M497.6,203.8 V205.8" stroke="#3a3a3a" stroke-width="0.7"/>
<text x="394.3" y="205.6" font-size="5.4" text-anchor="end" fill="#222">0</text>
<text x="394.3" y="190.02" font-size="5.4" text-anchor="end" fill="#222">20</text>
<text x="394.3" y="174.44" font-size="5.4" text-anchor="end" fill="#222">40</text>
<text x="394.3" y="158.86" font-size="5.4" text-anchor="end" fill="#222">60</text>
<text x="394.3" y="143.28" font-size="5.4" text-anchor="end" fill="#222">80</text>
<text x="394.3" y="127.7" font-size="5.4" text-anchor="end" fill="#222">100</text>
<text x="398.8" y="212" font-size="5.6" text-anchor="middle" fill="#666">10<tspan font-size="4.4" dy="-2.5">0</tspan></text>
<text x="423.65" y="212" font-size="5.6" text-anchor="middle" fill="#666">10<tspan font-size="4.4" dy="-2.5">1</tspan></text>
<text x="448.5" y="212" font-size="5.6" text-anchor="middle" fill="#666">10<tspan font-size="4.4" dy="-2.5">2</tspan></text>
<text x="473.35" y="212" font-size="5.6" text-anchor="middle" fill="#666">10<tspan font-size="4.4" dy="-2.5">3</tspan></text>
<text x="498.2" y="212" font-size="5.6" text-anchor="middle" fill="#666">10<tspan font-size="4.4" dy="-2.5">4</tspan></text>
<text x="459.3" y="135.8" font-size="11.9" textLength="33.6" lengthAdjust="spacingAndGlyphs" fill="#111" stroke="#111" stroke-width="0.22">H1299</text>
<path d="M45.9,216.6 H151.2 V297.8" fill="none" stroke="#8e8e8e" stroke-width="1"/>
<path d="M54.2,248.2 L54.3,246.4 L54.5,246.3 L54.6,245.1 L54.8,244.2 L54.9,243.3 L55.1,242.3 L55.2,241.6 L55.4,240.3 L55.5,240.4 L55.7,238.7 L55.9,237.9 L56.1,237.6 L56.3,236.8 L56.5,236.3 L56.8,235.2 L57.1,234.5 L57.4,233.3 L57.7,233.6 L58.0,234.8 L58.3,236.3 L58.6,236.5 L58.8,237.7 L59.1,238.9 L59.3,239.2 L59.5,240.3 L59.7,241.5 L59.9,242.1 L60.1,242.6 L60.3,243.5" fill="none" stroke="#c8c040" stroke-width="1.02" stroke-linejoin="round"/>
<path d="M46.8,294.1 L46.9,293.9 L46.9,292.8 L47.1,291.9 L47.5,290.8 L48.0,290.7 L48.5,289.7 L49.0,289.2 L49.2,288.2 L49.4,288.1 L49.5,287.3 L49.7,286.3 L49.8,285.7 L49.9,285.1 L50.0,284.0 L50.2,283.6 L50.3,281.8 L50.4,281.8 L50.5,280.7 L50.6,279.6 L50.7,279.0 L50.8,277.4 L50.9,276.9 L51.0,276.5 L51.1,275.9 L51.2,274.7 L51.3,274.5 L51.4,273.3 L51.5,271.9 L51.5,271.2 L51.6,270.3 L51.7,270.0 L51.8,268.9 L51.9,268.0 L52.0,267.3 L52.1,266.1 L52.2,266.2 L52.2,265.3 L52.3,264.2 L52.4,263.3 L52.5,262.3 L52.6,261.9 L52.7,260.8 L52.8,260.6 L52.9,259.7 L53.0,258.6 L53.1,257.9 L53.2,256.2 L53.3,255.4 L53.4,254.8 L53.5,253.7 L53.6,253.2 L53.7,253.0 L53.9,252.0 L54.0,251.4 L54.1,249.9 L54.2,249.1 L54.4,248.2 L54.5,247.8 L54.7,246.6 L54.9,246.1 L55.1,245.0 L55.3,244.4 L55.6,243.5 L55.8,242.8 L56.1,241.8 L56.4,241.6 L57.0,240.7 L57.7,240.1 L58.3,239.6 L58.8,239.8 L59.3,240.3 L59.7,240.9 L60.1,242.3 L60.3,243.0 L60.5,243.3 L60.7,244.7 L60.9,245.6 L61.1,246.4 L61.2,247.3 L61.4,247.9 L61.5,248.5 L61.7,249.6 L61.8,251.0 L62.0,252.2 L62.1,252.1 L62.3,252.7 L62.4,253.9 L62.5,254.6 L62.6,255.7 L62.7,256.0 L62.9,257.6 L63.0,257.9 L63.1,259.3 L63.2,259.6 L63.3,260.4 L63.4,261.1 L63.6,262.7 L63.7,263.1 L63.8,264.2 L63.9,264.3 L64.0,265.6 L64.1,266.6 L64.2,267.7 L64.4,268.4 L64.5,268.4 L64.6,269.5 L64.7,271.0 L64.8,271.4 L64.9,272.6 L65.0,272.7 L65.1,273.3 L65.2,275.0 L65.3,275.2 L65.5,276.3 L65.6,276.9 L65.7,277.9 L65.8,279.1 L65.9,279.9 L66.1,280.7 L66.2,280.9 L66.3,282.3 L66.4,282.3 L66.5,283.5 L66.6,284.9 L66.8,285.0 L66.9,285.9 L67.1,286.8 L67.2,287.2 L67.4,288.4 L67.6,289.1 L67.9,289.4 L68.2,291.2 L68.5,291.3 L68.8,292.8 L69.1,293.2 L69.5,293.8 L69.9,294.4 L70.4,295.9 L71.0,296.3 L71.7,296.4 L72.5,297.1 L73.3,297.5 L74.1,297.7 L74.8,297.5 L75.5,297.4 L76.3,297.7 L77.1,298.2 L78.0,298.0 L79.0,297.9 L80.3,298.1 L80.7,297.7 L81.1,297.9 L81.5,298.2 L81.9,297.6 L82.4,298.2 L82.9,297.4 L83.3,297.9 L83.9,298.0 L84.4,297.6 L84.9,298.3 L85.5,297.9 L86.1,297.6 L86.6,297.9 L87.3,298.0 L87.9,297.9 L88.5,297.5 L89.2,297.6 L89.8,298.2 L90.5,297.6 L91.2,297.7 L91.9,298.3 L92.6,298.3 L93.3,298.4 L94.1,297.7 L94.8,297.5 L95.6,298.2 L96.4,298.1 L97.2,297.9 L98.0,297.5 L98.8,297.9 L99.6,297.7 L100.4,298.1 L101.3,298.5 L102.1,297.7 L103.0,297.6 L103.8,298.2 L104.7,297.6 L105.6,297.7 L106.5,297.9 L107.3,298.5 L108.2,297.8 L109.1,297.8 L110.1,297.9 L111.0,297.6 L111.9,297.9 L112.8,298.2 L113.7,297.8 L114.7,298.2 L115.6,297.6 L116.5,297.5 L117.5,298.1 L118.4,297.9 L119.4,298.3 L120.3,297.5 L121.3,298.2 L122.2,298.1 L123.2,297.8 L124.1,297.5 L125.1,298.0 L126.0,298.1 L127.0,297.9 L127.9,297.9 L128.9,298.1 L129.8,298.0 L130.8,297.8 L131.7,297.5 L132.7,297.8 L133.6,297.9 L134.6,298.2 L135.5,298.3 L136.4,297.9 L137.3,297.7 L138.3,297.6 L139.2,298.0 L140.1,298.1 L141.0,297.6 L141.9,298.0 L142.8,298.3 L143.7,297.7 L144.6,298.2 L145.4,297.7 L146.3,298.0 L147.1,298.2 L148.0,297.5 L148.8,297.6 L149.7,298.3 L150.5,297.4 L151.3,297.6" fill="none" stroke="#55606a" stroke-width="0.85" stroke-linejoin="round"/>
<path d="M46.5,294.0 L46.6,293.4 L46.6,292.4 L46.8,291.8 L47.2,290.9 L47.7,289.6 L48.2,289.0 L48.7,288.1 L48.9,288.0 L49.1,287.0 L49.2,286.8 L49.4,286.2 L49.5,285.0 L49.6,284.9 L49.7,283.6 L49.9,283.3 L50.0,281.8 L50.1,281.2 L50.2,280.2 L50.3,279.0 L50.4,278.7 L50.5,277.0 L50.6,276.5 L50.7,275.8 L50.8,275.6 L50.9,274.5 L51.0,273.2 L51.1,272.7 L51.2,272.2 L51.2,271.6 L51.3,270.0 L51.4,269.9 L51.5,268.7 L51.6,268.0 L51.7,267.0 L51.8,266.2 L51.9,265.9 L51.9,265.0 L52.0,264.2 L52.1,263.3 L52.2,262.4 L52.3,261.1 L52.4,260.2 L52.5,260.2 L52.6,259.1 L52.7,258.2 L52.8,257.0 L52.9,256.1 L53.0,255.9 L53.1,254.7 L53.2,253.3 L53.3,252.8 L53.4,252.0 L53.6,250.9 L53.7,251.1 L53.8,250.2 L53.9,249.4 L54.1,247.9 L54.2,247.6 L54.4,246.3 L54.6,246.0 L54.8,245.2 L55.0,244.3 L55.3,243.4 L55.5,242.0 L55.8,241.2 L56.1,240.7 L56.7,240.6 L57.4,239.9 L58.0,239.3 L58.5,239.3 L59.0,240.6 L59.4,240.7 L59.8,241.8 L60.0,242.1 L60.2,243.8 L60.4,244.0 L60.6,245.2 L60.8,246.1 L60.9,246.8 L61.1,248.1 L61.2,248.8 L61.4,249.9 L61.5,250.9 L61.7,251.0 L61.8,252.4 L62.0,252.6 L62.1,253.5 L62.2,254.3 L62.3,255.8 L62.4,255.7 L62.6,256.9 L62.7,257.4 L62.8,259.1 L62.9,259.4 L63.0,260.5 L63.1,261.1 L63.3,262.2 L63.4,262.6 L63.5,263.5 L63.6,264.6 L63.7,265.4 L63.8,266.4 L63.9,266.7 L64.1,268.0 L64.2,268.8 L64.3,269.4 L64.4,270.1 L64.5,271.1 L64.6,271.4 L64.7,272.3 L64.8,273.3 L64.9,273.9 L65.0,274.7 L65.2,276.1 L65.3,276.9 L65.4,277.6 L65.5,278.0 L65.6,279.4 L65.8,280.3 L65.9,281.0 L66.0,281.4 L66.1,282.6 L66.2,283.2 L66.3,283.9 L66.5,284.6 L66.6,286.1 L66.8,286.6 L66.9,287.6 L67.1,287.6 L67.3,288.4 L67.6,289.6 L67.9,290.0 L68.2,291.2 L68.5,292.3 L68.8,293.1 L69.2,294.3 L69.6,294.6 L70.1,295.2 L70.7,295.8 L71.4,296.4 L72.2,296.3 L73.0,296.2 L73.8,297.5 L74.5,297.5 L75.2,296.9 L76.0,297.0 L76.8,297.1 L77.7,297.6 L78.7,297.1 L80.0,297.0 L80.4,297.5 L80.8,297.0 L81.2,297.3 L81.6,297.4 L82.1,297.3 L82.6,297.1 L83.0,297.4 L83.6,297.4 L84.1,297.4 L84.6,297.5 L85.2,297.5 L85.8,297.5 L86.3,297.2 L87.0,298.0 L87.6,297.9 L88.2,297.7 L88.9,297.2 L89.5,297.4 L90.2,298.1 L90.9,297.7 L91.6,297.4 L92.3,298.0 L93.0,298.1 L93.8,297.4 L94.5,297.7 L95.3,297.8 L96.1,297.4 L96.9,297.6 L97.7,297.9 L98.5,297.9 L99.3,297.9 L100.1,297.9 L101.0,297.6 L101.8,297.3 L102.7,297.3 L103.5,298.1 L104.4,298.1 L105.3,298.2 L106.2,297.4 L107.0,298.1 L107.9,297.5 L108.8,297.6 L109.8,297.5 L110.7,298.1 L111.6,298.1 L112.5,298.1 L113.4,297.7 L114.4,298.2 L115.3,297.5 L116.2,297.9 L117.2,298.0 L118.1,297.5 L119.1,297.7 L120.0,297.4 L121.0,298.1 L121.9,297.5 L122.9,297.4 L123.8,297.6 L124.8,297.9 L125.7,297.9 L126.7,297.8 L127.6,298.1 L128.6,298.0 L129.5,297.5 L130.5,297.8 L131.4,297.4 L132.4,297.5 L133.3,297.4 L134.3,297.4 L135.2,297.6 L136.1,298.2 L137.0,297.9 L138.0,297.4 L138.9,297.5 L139.8,297.9 L140.7,297.8 L141.6,297.3 L142.5,297.4 L143.4,297.8 L144.3,297.9 L145.1,297.4 L146.0,298.1 L146.8,297.5 L147.7,297.9 L148.5,297.8 L149.4,297.6 L150.2,298.2 L151.0,297.7" fill="none" stroke="#3a9e86" stroke-width="0.85" stroke-linejoin="round"/>
<path d="M46.2,294.5 L46.3,293.8 L46.3,293.2 L46.5,292.5 L46.9,291.6 L47.4,290.8 L47.9,290.3 L48.4,289.3 L48.6,289.1 L48.8,288.5 L48.9,287.6 L49.1,286.4 L49.2,286.0 L49.3,285.0 L49.4,284.0 L49.6,283.7 L49.7,282.3 L49.8,281.9 L49.9,280.8 L50.0,279.8 L50.1,279.2 L50.2,278.3 L50.3,277.9 L50.4,277.1 L50.5,276.2 L50.6,274.9 L50.7,274.5 L50.8,273.5 L50.9,273.1 L50.9,271.8 L51.0,270.9 L51.1,269.7 L51.2,269.3 L51.3,268.6 L51.4,267.5 L51.5,266.5 L51.6,266.0 L51.6,264.8 L51.7,264.1 L51.8,263.6 L51.9,262.7 L52.0,262.1 L52.1,261.3 L52.2,260.3 L52.3,259.2 L52.4,258.2 L52.5,257.9 L52.6,257.4 L52.7,255.9 L52.8,255.1 L52.9,254.2 L53.0,253.8 L53.1,252.8 L53.3,252.3 L53.4,250.7 L53.5,250.1 L53.6,249.4 L53.8,248.9 L53.9,248.2 L54.1,247.2 L54.3,246.8 L54.5,245.4 L54.7,244.6 L55.0,244.2 L55.2,243.1 L55.5,242.4 L55.8,242.0 L56.4,240.7 L57.1,239.7 L57.7,240.4 L58.2,240.2 L58.7,240.9 L59.1,241.2 L59.5,242.8 L59.7,243.1 L59.9,244.1 L60.1,244.5 L60.3,245.9 L60.5,246.2 L60.6,247.1 L60.8,248.6 L60.9,248.9 L61.1,249.9 L61.2,251.1 L61.4,252.5 L61.5,252.4 L61.7,253.2 L61.8,254.6 L61.9,254.7 L62.0,255.8 L62.1,257.0 L62.3,257.7 L62.4,258.7 L62.5,258.8 L62.6,260.4 L62.7,260.7 L62.8,262.0 L63.0,262.5 L63.1,263.7 L63.2,264.2 L63.3,264.8 L63.4,265.5 L63.5,266.6 L63.6,267.0 L63.8,268.0 L63.9,269.5 L64.0,270.0 L64.1,271.2 L64.2,271.3 L64.3,272.4 L64.4,273.2 L64.5,273.7 L64.6,274.7 L64.7,276.1 L64.9,276.7 L65.0,277.3 L65.1,278.2 L65.2,279.3 L65.3,280.2 L65.5,280.7 L65.6,281.0 L65.7,282.6 L65.8,282.8 L65.9,283.7 L66.0,284.4 L66.2,285.5 L66.3,286.4 L66.5,287.0 L66.6,287.8 L66.8,288.1 L67.0,289.4 L67.3,290.2 L67.6,290.9 L67.9,292.3 L68.2,293.3 L68.5,294.1 L68.9,294.9 L69.3,294.7 L69.8,295.6 L70.4,296.2 L71.1,296.5 L71.9,297.3 L72.7,297.8 L73.5,297.2 L74.2,297.8 L74.9,298.3 L75.7,298.2 L76.5,297.8 L77.4,297.4 L78.4,297.8 L79.7,297.8 L80.1,298.1 L80.5,297.5 L80.9,297.6 L81.3,298.3 L81.8,297.3 L82.3,297.9 L82.7,297.4 L83.3,298.1 L83.8,297.8 L84.3,298.3 L84.9,297.6 L85.5,298.2 L86.0,297.6 L86.7,297.4 L87.3,297.4 L87.9,297.4 L88.6,297.8 L89.2,298.3 L89.9,297.7 L90.6,298.1 L91.3,297.4 L92.0,297.9 L92.8,297.9 L93.5,297.5 L94.2,298.0 L95.0,297.8 L95.8,297.7 L96.6,298.2 L97.4,298.1 L98.2,297.5 L99.0,297.5 L99.8,297.4 L100.7,297.6 L101.5,298.0 L102.4,298.3 L103.2,298.3 L104.1,298.2 L105.0,297.5 L105.9,298.2 L106.8,298.1 L107.6,297.8 L108.6,298.4 L109.5,298.0 L110.4,297.5 L111.3,297.6 L112.2,297.5 L113.1,298.0 L114.1,298.0 L115.0,298.2 L116.0,297.4 L116.9,297.4 L117.8,298.3 L118.8,297.6 L119.7,297.6 L120.7,298.2 L121.6,297.5 L122.6,298.1 L123.5,298.2 L124.5,297.9 L125.4,297.9 L126.4,297.3 L127.3,297.9 L128.3,297.9 L129.2,298.1 L130.2,297.8 L131.1,297.4 L132.1,297.5 L133.0,298.0 L134.0,297.4 L134.9,297.4 L135.8,297.6 L136.7,298.1 L137.7,297.9 L138.6,297.7 L139.5,298.3 L140.4,297.9 L141.3,297.5 L142.2,297.9 L143.1,298.2 L144.0,297.7 L144.8,297.7 L145.7,297.9 L146.5,298.3 L147.4,297.9 L148.2,297.5 L149.1,297.9 L149.9,297.6 L150.7,297.8" fill="none" stroke="#3c3cb4" stroke-width="0.59" stroke-linejoin="round"/>
<line x1="46.3" y1="247.7" x2="46.3" y2="297.8" stroke="#2030c0" stroke-width="1.3"/>
<line x1="45.9" y1="297.8" x2="151.2" y2="297.8" stroke="#1c1c2c" stroke-width="1"/>
<line x1="45.9" y1="216.6" x2="45.9" y2="297.8" stroke="#2a2a8a" stroke-width="1.3" stroke-dasharray="1.6,0.9"/>
<path d="M43.7,297.8 H46.2 M44.8,293.74 H46.2 M44.8,289.68 H46.2 M44.8,285.62 H46.2 M43.7,281.56 H46.2 M44.8,277.5 H46.2 M44.8,273.44 H46.2 M44.8,269.38 H46.2 M43.7,265.32 H46.2 M44.8,261.26 H46.2 M44.8,257.2 H46.2 M44.8,253.14 H46.2 M43.7,249.08 H46.2 M44.8,245.02 H46.2 M44.8,240.96 H46.2 M44.8,236.9 H46.2 M43.7,232.84 H46.2 M44.8,228.78 H46.2 M44.8,224.72 H46.2 M44.8,220.66 H46.2 M43.7,216.6 H46.2" stroke="#2a2a3a" stroke-width="0.75"/>
<path d="M45.9,297.5 V299.8 M53.82,297.5 V298.9 M58.46,297.5 V298.9 M61.75,297.5 V298.9 M64.3,297.5 V298.9 M66.38,297.5 V298.9 M68.15,297.5 V298.9 M69.67,297.5 V298.9 M71.02,297.5 V298.9 M72.22,297.5 V299.8 M80.15,297.5 V298.9 M84.79,297.5 V298.9 M88.07,297.5 V298.9 M90.63,297.5 V298.9 M92.71,297.5 V298.9 M94.47,297.5 V298.9 M96,297.5 V298.9 M97.35,297.5 V298.9 M98.55,297.5 V299.8 M106.47,297.5 V298.9 M111.11,297.5 V298.9 M114.4,297.5 V298.9 M116.95,297.5 V298.9 M119.03,297.5 V298.9 M120.8,297.5 V298.9 M122.32,297.5 V298.9 M123.67,297.5 V298.9 M124.88,297.5 V299.8 M132.8,297.5 V298.9 M137.44,297.5 V298.9 M140.72,297.5 V298.9 M143.28,297.5 V298.9 M145.36,297.5 V298.9 M147.12,297.5 V298.9 M148.65,297.5 V298.9 M150,297.5 V298.9 M151.2,297.8 V299.8" stroke="#3a3a3a" stroke-width="0.7"/>
<text transform="translate(43.3,297.8) rotate(-90)" font-size="3.4" text-anchor="middle" fill="#777">0</text>
<text transform="translate(43.3,281.56) rotate(-90)" font-size="3.4" text-anchor="middle" fill="#777">20</text>
<text transform="translate(43.3,265.32) rotate(-90)" font-size="3.4" text-anchor="middle" fill="#777">40</text>
<text transform="translate(43.3,249.08) rotate(-90)" font-size="3.4" text-anchor="middle" fill="#777">60</text>
<text transform="translate(43.3,232.84) rotate(-90)" font-size="3.4" text-anchor="middle" fill="#777">80</text>
<text transform="translate(43.3,216.6) rotate(-90)" font-size="3.4" text-anchor="middle" fill="#777">100</text>
<text x="46.2" y="303.8" font-size="3.8" text-anchor="middle" fill="#777">10<tspan font-size="2.8" dy="-1.5">0</tspan></text>
<text x="72.52" y="303.8" font-size="3.8" text-anchor="middle" fill="#777">10<tspan font-size="2.8" dy="-1.5">1</tspan></text>
<text x="98.85" y="303.8" font-size="3.8" text-anchor="middle" fill="#777">10<tspan font-size="2.8" dy="-1.5">2</tspan></text>
<text x="125.17" y="303.8" font-size="3.8" text-anchor="middle" fill="#777">10<tspan font-size="2.8" dy="-1.5">3</tspan></text>
<text x="151.5" y="303.8" font-size="3.8" text-anchor="middle" fill="#777">10<tspan font-size="2.8" dy="-1.5">4</tspan></text>
<text x="113.6" y="229.1" font-size="11.9" textLength="33.6" lengthAdjust="spacingAndGlyphs" fill="#111" stroke="#111" stroke-width="0.22">H1355</text>
<path d="M166.7,217.5 H266.3 V298.4" fill="none" stroke="#8e8e8e" stroke-width="1"/>
<path d="M166.9,294.2 L166.9,292.6 L166.9,292.3 L166.9,291.2 L166.8,290.7 L166.8,290.0 L166.8,288.7 L166.9,288.0 L166.9,286.6 L166.9,285.9 L167.0,285.4 L167.1,284.7 L167.2,283.6 L167.2,283.3 L167.3,282.2 L167.4,281.2 L167.5,280.3 L167.7,280.0 L167.8,279.2 L167.9,278.4 L168.0,276.8 L168.1,275.8 L168.3,275.4 L168.4,274.0 L168.5,273.9 L168.6,272.9 L168.7,271.7 L168.8,271.0 L168.9,270.4 L169.0,269.0 L169.1,268.4 L169.2,268.0 L169.3,267.0 L169.4,266.1 L169.5,264.7 L169.6,264.0 L169.7,263.2 L169.8,262.1 L169.9,261.9 L170.1,261.0 L170.2,260.6 L170.3,259.4 L170.4,259.0 L170.5,257.7 L170.6,257.0 L170.7,255.9 L170.9,255.2 L171.0,254.8 L171.1,253.5 L171.2,252.2 L171.4,251.7 L171.5,250.8 L171.7,250.4 L171.8,249.5 L171.9,248.7 L172.1,248.4 L172.2,247.5 L172.4,246.1 L172.6,245.1 L172.8,244.7 L173.1,243.5 L173.3,242.5 L173.6,241.5 L173.8,240.2 L174.1,240.2 L174.3,240.3 L174.9,240.7 L175.5,241.5 L175.7,242.1 L175.8,243.5 L175.9,243.8 L176.0,244.1 L176.1,245.5 L176.2,246.5 L176.3,247.3 L176.4,247.9 L176.5,249.0 L176.6,249.2 L176.7,250.5 L176.8,251.7 L177.0,252.2 L177.1,252.8 L177.2,254.3 L177.4,255.0 L177.5,255.1 L177.6,255.9 L177.8,257.2 L177.9,258.5 L178.1,259.0 L178.2,260.1 L178.4,260.1 L178.5,261.4 L178.7,261.9 L178.9,262.9 L179.0,263.6 L179.2,264.7 L179.4,265.1 L179.5,266.6 L179.7,267.4 L179.9,268.5 L180.1,269.2 L180.2,269.3 L180.4,270.9 L180.6,271.3 L180.8,272.5 L181.0,272.9 L181.2,273.3 L181.4,274.7 L181.6,275.0 L181.8,276.6 L182.0,276.9 L182.2,278.1 L182.4,278.5 L182.6,279.1 L182.8,280.2 L183.0,281.0 L183.2,281.5 L183.4,282.0 L183.6,282.9 L183.8,284.1 L184.1,284.5 L184.3,285.3 L184.6,286.5 L184.8,287.6 L185.1,287.9 L185.3,289.0 L185.6,290.5 L185.9,290.6 L186.1,291.9 L186.4,292.2 L186.7,292.6 L187.0,293.6 L187.3,294.6 L187.9,295.4 L188.5,295.4 L189.2,296.7 L190.0,297.1 L190.7,297.3 L191.5,297.7 L192.3,297.7 L193.2,297.5 L194.1,298.0 L195.1,297.5 L196.0,297.8 L196.7,298.4 L197.5,298.2 L198.3,298.1 L199.1,298.4 L200.0,298.2 L200.8,298.1 L201.6,298.2 L202.5,297.7 L203.3,298.0 L204.2,297.7 L205.0,298.7" fill="none" stroke="#e23a2a" stroke-width="0.77" stroke-linejoin="round"/>
<path d="M166.4,285.2 L166.5,284.1 L166.6,282.8 L166.7,282.7 L166.8,281.3 L166.9,281.0 L167.0,280.0 L167.1,279.1 L167.2,278.4 L167.3,277.1 L167.4,276.9 L167.5,275.7 L167.6,275.1 L167.7,274.4 L167.8,273.0 L167.9,272.3 L168.0,271.4 L168.1,270.3 L168.2,270.3 L168.3,269.3 L168.4,268.2 L168.5,267.4 L168.6,266.9 L168.7,265.3 L168.8,264.7 L168.9,264.2 L169.0,263.2 L169.1,262.3 L169.2,261.2 L169.3,260.4 L169.4,260.0 L169.6,258.8 L169.7,258.6 L169.8,257.8 L169.9,257.0 L170.0,255.6 L170.1,255.0 L170.2,253.7 L170.4,253.1 L170.5,252.0 L170.6,251.6 L170.8,251.2 L170.9,250.2 L171.0,248.9 L171.2,248.0 L171.3,247.9 L171.4,246.2 L171.5,246.3 L171.7,245.5 L171.8,244.1 L171.9,244.3 L172.1,243.0 L172.2,241.8 L172.3,241.0 L172.5,240.3 L172.6,239.5 L172.7,239.1 L172.9,238.4 L173.2,236.9 L173.5,235.7 L173.8,235.7" fill="none" stroke="#c8c040" stroke-width="0.68" stroke-linejoin="round"/>
<path d="M167.3,294.5 L167.3,293.7 L167.3,292.2 L167.3,291.4 L167.2,291.4 L167.2,290.0 L167.2,289.2 L167.3,288.7 L167.3,286.9 L167.3,286.6 L167.4,285.3 L167.5,285.1 L167.6,284.5 L167.6,283.1 L167.7,282.9 L167.8,282.3 L167.9,281.3 L168.1,280.4 L168.2,279.7 L168.3,278.6 L168.4,277.5 L168.5,276.9 L168.7,276.0 L168.8,275.0 L168.9,274.2 L169.0,272.8 L169.1,272.1 L169.2,271.3 L169.3,271.0 L169.4,270.1 L169.5,268.7 L169.6,268.6 L169.7,266.8 L169.8,266.0 L169.9,265.4 L170.0,264.3 L170.1,264.3 L170.2,262.9 L170.3,262.1 L170.5,261.7 L170.6,260.6 L170.7,259.9 L170.8,258.9 L170.9,258.1 L171.0,257.9 L171.1,256.3 L171.3,255.7 L171.4,254.8 L171.5,253.6 L171.7,252.8 L171.8,252.3 L171.9,251.8 L172.1,250.6 L172.2,249.4 L172.3,249.5 L172.4,248.0 L172.6,248.0 L172.7,246.4 L172.8,246.3 L173.0,244.9 L173.1,244.1 L173.2,243.4 L173.4,242.9 L173.5,241.8 L173.6,241.0 L173.8,240.3 L174.1,239.3 L174.3,238.1 L174.7,238.3 L175.2,237.6 L175.7,238.0 L176.2,239.3 L176.6,240.5 L176.7,241.3 L176.8,241.3 L177.0,242.6 L177.1,243.0 L177.2,244.4 L177.3,244.6 L177.4,245.6 L177.5,246.4 L177.6,247.5 L177.7,248.2 L177.8,249.5 L177.9,250.2 L178.0,251.3 L178.2,251.8 L178.3,252.8 L178.4,253.7 L178.6,254.7 L178.7,255.5 L178.9,256.2 L179.0,256.7 L179.2,257.6 L179.4,258.4 L179.5,259.3 L179.7,260.1 L179.9,261.4 L180.1,262.0 L180.3,263.4 L180.5,263.5 L180.7,264.3 L180.8,265.0 L181.0,265.8 L181.2,267.1 L181.4,267.8 L181.6,268.3 L181.8,269.7 L182.1,270.4 L182.3,270.9 L182.5,271.9 L182.7,272.7 L182.9,273.3 L183.1,273.7 L183.3,274.8 L183.6,276.2 L183.8,276.4 L184.0,277.4 L184.2,277.7 L184.5,279.1 L184.7,280.0 L184.9,280.3 L185.2,281.0 L185.4,281.9 L185.7,282.4 L185.9,283.1 L186.2,283.8 L186.4,285.2 L186.7,285.8 L186.9,287.0 L187.2,287.8 L187.5,288.5 L187.7,289.3 L188.0,289.9 L188.4,289.8 L188.7,290.5 L189.2,292.1 L189.6,292.8 L190.1,293.2 L190.7,293.9 L191.2,294.4 L191.8,294.9 L192.4,295.1 L193.1,296.0 L193.8,296.1 L194.6,296.3 L195.4,297.3 L196.2,297.2 L197.1,297.8 L197.8,297.4 L198.5,297.8 L199.2,297.6 L199.9,298.3 L200.6,297.7 L201.4,298.3 L202.3,298.2 L203.2,298.1 L204.2,297.9 L205.4,298.4 L205.8,298.4 L206.3,298.8 L206.8,298.2 L207.3,298.2 L207.8,298.3 L208.3,298.8 L208.9,298.3 L209.4,298.7 L210.0,298.1 L210.6,298.2 L211.2,298.8 L211.9,298.6 L212.5,298.2 L213.2,298.6 L213.9,299.1 L214.5,298.5 L215.2,298.7 L216.0,298.6 L216.7,298.7 L217.4,298.2 L218.2,299.1 L218.9,298.8 L219.7,298.5 L220.5,298.5 L221.3,298.4 L222.1,299.1 L222.9,299.0 L223.7,298.6 L224.6,298.8 L225.4,298.7 L226.3,298.4 L227.1,298.2 L228.0,298.9 L228.8,298.3 L229.7,298.7 L230.6,298.2 L231.5,298.2 L232.4,298.3 L233.3,298.8 L234.2,298.7 L235.1,299.1 L236.0,298.8 L236.9,298.6 L237.8,298.1 L238.7,299.1 L239.7,298.6 L240.6,298.9 L241.5,298.1 L242.4,298.9 L243.4,298.5 L244.3,298.3 L245.2,298.4 L246.1,298.1 L247.1,298.6 L248.0,298.2 L248.9,298.7 L249.8,298.2 L250.7,298.7 L251.7,298.6 L252.6,298.7 L253.5,298.9 L254.4,298.2 L255.3,298.6 L256.2,298.3 L257.1,298.8 L258.0,298.8 L258.8,298.7 L259.7,298.5 L260.6,298.2 L261.4,298.8 L262.3,298.9 L263.1,298.9 L263.9,298.2 L264.8,298.7 L265.6,298.6 L266.4,298.7" fill="none" stroke="#3cb043" stroke-width="0.85" stroke-linejoin="round"/>
<path d="M166.9,294.3 L166.9,293.1 L166.9,292.2 L166.9,291.7 L166.8,290.7 L166.8,289.7 L166.8,289.2 L166.9,287.4 L166.9,286.3 L166.9,286.1 L167.0,285.0 L167.1,285.0 L167.2,283.4 L167.2,283.4 L167.3,282.0 L167.4,281.0 L167.5,280.8 L167.7,279.9 L167.8,278.7 L167.9,278.0 L168.0,277.1 L168.1,276.6 L168.3,275.3 L168.4,274.5 L168.5,273.5 L168.6,272.6 L168.7,272.1 L168.8,270.7 L168.9,270.4 L169.0,269.8 L169.1,268.8 L169.2,267.7 L169.3,266.7 L169.4,265.6 L169.5,264.8 L169.6,264.4 L169.7,263.9 L169.8,263.0 L169.9,261.5 L170.1,261.2 L170.2,260.5 L170.3,259.3 L170.4,258.9 L170.5,257.5 L170.6,256.8 L170.7,256.2 L170.9,255.5 L171.0,254.4 L171.1,253.4 L171.3,253.1 L171.4,251.8 L171.5,251.0 L171.7,250.0 L171.8,249.4 L171.9,248.9 L172.0,247.8 L172.2,247.4 L172.3,246.5 L172.4,245.3 L172.6,245.3 L172.7,243.7 L172.8,243.1 L173.0,242.7 L173.1,241.1 L173.2,240.3 L173.4,239.7 L173.7,238.5 L173.9,238.3 L174.3,237.4 L174.8,237.1 L175.3,237.8 L175.8,238.9 L176.2,239.9 L176.3,240.5 L176.4,241.7 L176.6,241.9 L176.7,242.5 L176.8,243.6 L176.9,244.0 L177.0,245.3 L177.1,246.3 L177.2,246.7 L177.3,248.0 L177.4,248.7 L177.5,250.1 L177.6,250.9 L177.8,252.0 L177.9,252.5 L178.0,252.9 L178.2,253.8 L178.3,255.2 L178.5,256.2 L178.6,256.3 L178.8,257.5 L179.0,258.1 L179.1,259.2 L179.3,260.4 L179.5,260.9 L179.7,262.0 L179.9,262.9 L180.1,263.1 L180.3,264.3 L180.4,264.8 L180.6,265.7 L180.8,266.6 L181.0,267.5 L181.2,267.8 L181.4,269.3 L181.7,269.4 L181.9,270.4 L182.1,271.7 L182.3,272.6 L182.5,272.8 L182.7,274.2 L182.9,274.0 L183.2,275.8 L183.4,275.8 L183.6,276.4 L183.8,278.0 L184.1,278.1 L184.3,279.5 L184.5,279.5 L184.8,280.4 L185.0,281.4 L185.3,281.9 L185.5,283.0 L185.8,283.6 L186.0,284.8 L186.3,285.4 L186.5,286.6 L186.8,287.3 L187.1,287.4 L187.3,288.9 L187.6,289.6 L188.0,289.9 L188.3,290.5 L188.8,290.9 L189.2,291.8 L189.7,292.4 L190.3,293.1 L190.8,294.1 L191.4,294.4 L192.0,295.4 L192.7,295.6 L193.4,296.3 L194.2,295.8 L195.0,296.9 L195.8,296.8 L196.7,297.1 L197.4,296.9 L198.1,297.5 L198.8,297.3 L199.5,297.8 L200.2,297.7 L201.0,297.4 L201.9,297.6 L202.8,298.1 L203.8,297.4 L205.0,298.1 L205.4,298.1 L205.9,298.3 L206.4,297.9 L206.9,298.1 L207.4,298.1 L207.9,298.4 L208.5,297.7 L209.0,298.2 L209.6,298.0 L210.2,298.3 L210.8,298.0 L211.5,298.0 L212.1,298.0 L212.8,298.7 L213.5,298.2 L214.1,298.7 L214.8,298.6 L215.6,298.1 L216.3,298.4 L217.0,297.9 L217.8,298.8 L218.5,298.5 L219.3,298.0 L220.1,298.4 L220.9,298.4 L221.7,298.6 L222.5,298.2 L223.3,298.8 L224.2,298.5 L225.0,298.0 L225.9,298.7 L226.7,298.8 L227.6,298.2 L228.4,298.6 L229.3,298.8 L230.2,298.8 L231.1,298.0 L232.0,298.7 L232.9,298.2 L233.8,298.7 L234.7,298.6 L235.6,298.4 L236.5,298.8 L237.4,298.7 L238.3,298.9 L239.3,298.9 L240.2,298.5 L241.1,298.6 L242.0,298.6 L243.0,298.3 L243.9,298.4 L244.8,298.4 L245.7,298.1 L246.7,298.1 L247.6,298.7 L248.5,298.7 L249.4,298.6 L250.3,298.6 L251.3,298.4 L252.2,298.4 L253.1,298.5 L254.0,297.9 L254.9,298.3 L255.8,298.8 L256.7,298.1 L257.6,298.3 L258.4,298.0 L259.3,298.1 L260.2,298.7 L261.0,297.9 L261.9,298.7 L262.7,298.7 L263.5,298.8 L264.4,298.1 L265.2,298.8 L266.0,298.3" fill="none" stroke="#3a6a5a" stroke-width="0.77" stroke-linejoin="round"/>
<path d="M167.5,295.0 L167.5,294.6 L167.5,293.3 L167.5,292.6 L167.4,291.2 L167.4,290.2 L167.4,289.5 L167.5,288.4 L167.5,288.1 L167.5,286.9 L167.6,286.8 L167.7,285.8 L167.8,284.5 L167.8,284.3 L167.9,283.0 L168.0,282.4 L168.1,281.1 L168.3,281.0 L168.4,280.1 L168.5,279.0 L168.6,278.3 L168.7,277.0 L168.9,275.9 L169.0,275.3 L169.1,274.8 L169.2,273.8 L169.3,272.5 L169.4,271.8 L169.5,271.2 L169.6,269.9 L169.7,269.1 L169.8,268.7 L169.9,267.5 L170.0,267.4 L170.1,265.8 L170.2,265.6 L170.3,264.8 L170.4,263.5 L170.5,262.8 L170.7,262.5 L170.8,261.3 L170.9,260.2 L171.0,260.0 L171.1,258.5 L171.2,258.5 L171.3,257.0 L171.5,256.2 L171.6,255.2 L171.7,254.7 L171.9,254.1 L172.0,253.1 L172.1,251.8 L172.3,251.7 L172.4,250.7 L172.5,249.7 L172.6,249.3 L172.8,247.8 L172.9,247.6 L173.0,247.1 L173.2,246.1 L173.3,245.1 L173.4,243.6 L173.6,243.2 L173.7,242.2 L173.8,241.8 L174.0,240.9 L174.3,239.8 L174.5,238.9 L174.9,238.5 L175.4,238.9 L175.9,238.8 L176.4,239.7 L176.8,240.9 L176.9,241.3 L177.0,242.7 L177.2,243.4 L177.3,243.4 L177.4,244.4 L177.5,245.8 L177.6,246.6 L177.7,247.6 L177.8,248.6 L177.9,248.8 L178.0,249.5 L178.1,250.6 L178.2,251.7 L178.4,252.1 L178.5,253.2 L178.6,254.2 L178.8,255.3 L178.9,255.6 L179.1,256.5 L179.2,257.5 L179.4,258.1 L179.6,259.0 L179.7,259.8 L179.9,261.3 L180.1,262.2 L180.3,262.3 L180.5,263.9 L180.7,264.7 L180.9,265.3 L181.0,265.7 L181.2,267.1 L181.4,267.1 L181.6,267.9 L181.8,269.6 L182.0,269.7 L182.3,271.2 L182.5,271.8 L182.7,271.9 L182.9,272.8 L183.1,274.1 L183.3,274.3 L183.5,275.7 L183.8,276.5 L184.0,276.8 L184.2,277.9 L184.4,278.4 L184.7,279.8 L184.9,280.4 L185.1,281.2 L185.4,281.9 L185.6,282.1 L185.9,283.7 L186.1,284.3 L186.4,284.8 L186.6,285.7 L186.9,286.4 L187.1,287.4 L187.4,288.0 L187.7,288.5 L187.9,289.5 L188.2,289.9 L188.6,290.4 L188.9,291.5 L189.4,292.6 L189.8,293.2 L190.3,293.4 L190.9,294.4 L191.4,295.1 L192.0,295.7 L192.6,296.1 L193.3,296.6 L194.0,297.1 L194.8,297.7 L195.6,297.6 L196.4,298.1 L197.3,298.2 L198.0,297.8 L198.7,298.0 L199.4,298.1 L200.1,298.2 L200.8,298.3 L201.6,298.2 L202.5,298.9 L203.4,298.6 L204.4,298.3 L205.6,298.6 L206.0,298.8 L206.5,298.1 L207.0,298.6 L207.5,298.9 L208.0,298.3 L208.5,298.8 L209.1,298.8 L209.7,298.3 L210.2,298.1 L210.8,298.8 L211.5,298.4 L212.1,298.3 L212.7,298.5 L213.4,298.7 L214.1,298.9 L214.8,298.9 L215.5,298.8 L216.2,298.2 L216.9,298.4 L217.6,298.0 L218.4,298.2 L219.1,298.4 L219.9,298.2 L220.7,298.5 L221.5,298.1 L222.3,298.7 L223.1,298.4 L223.9,298.3 L224.8,298.7 L225.6,298.3 L226.5,298.0 L227.3,298.9 L228.2,298.8 L229.0,298.9 L229.9,298.3 L230.8,298.3 L231.7,298.7 L232.6,298.1 L233.5,299.0 L234.4,298.6 L235.3,298.5 L236.2,298.0 L237.1,298.3 L238.0,298.4 L238.9,299.0 L239.9,298.1 L240.8,298.6 L241.7,298.0 L242.6,298.9 L243.6,298.7 L244.5,298.8 L245.4,298.7 L246.3,298.1 L247.3,298.2 L248.2,298.0 L249.1,298.5 L250.0,298.0 L250.9,298.1 L251.9,298.1 L252.8,298.8 L253.7,298.7 L254.6,298.2 L255.5,298.9 L256.4,298.1 L257.3,298.1 L258.2,298.3 L259.0,298.7 L259.9,298.0 L260.8,298.7 L261.6,298.4 L262.5,298.7 L263.3,298.2 L264.2,297.9 L265.0,298.0 L265.8,298.6 L266.6,298.4" fill="none" stroke="#3c3cb4" stroke-width="0.59" stroke-linejoin="round"/>
<path d="M167.8,294.9 L167.8,293.4 L167.8,292.6 L167.8,291.7 L167.7,291.5 L167.7,290.5 L167.7,289.0 L167.8,288.6 L167.8,286.9 L167.8,286.7 L167.9,285.7 L168.0,285.5 L168.1,284.7 L168.1,283.8 L168.2,282.5 L168.3,281.5 L168.4,281.3 L168.6,280.5 L168.7,278.9 L168.8,278.9 L168.9,278.1 L169.0,276.6 L169.2,275.9 L169.3,275.2 L169.4,274.6 L169.5,273.5 L169.6,272.5 L169.7,271.9 L169.8,270.8 L169.9,269.5 L170.0,269.2 L170.1,268.2 L170.2,267.3 L170.3,266.5 L170.4,265.5 L170.5,264.7 L170.6,264.3 L170.7,263.6 L170.8,262.4 L171.0,261.9 L171.1,260.4 L171.2,260.0 L171.3,259.4 L171.4,258.7 L171.5,257.5 L171.6,256.4 L171.8,256.3 L171.9,255.1 L172.0,254.3 L172.2,253.2 L172.3,252.1 L172.4,251.7 L172.6,250.8 L172.7,250.5 L172.8,249.4 L172.9,248.8 L173.1,247.9 L173.2,247.3 L173.3,246.0 L173.5,245.9 L173.6,244.6 L173.7,243.8 L173.9,242.5 L174.0,241.6 L174.1,241.5 L174.3,240.8 L174.6,239.7 L174.8,238.3 L175.2,238.0 L175.7,238.4 L176.2,238.7 L176.7,239.9 L177.1,240.4 L177.2,241.6 L177.3,241.4 L177.5,242.7 L177.6,243.4 L177.7,243.7 L177.8,244.9 L177.9,246.0 L178.0,247.1 L178.1,247.2 L178.2,248.6 L178.3,249.8 L178.4,250.1 L178.5,251.7 L178.7,252.6 L178.8,252.9 L178.9,253.5 L179.1,254.4 L179.2,255.3 L179.4,256.4 L179.5,257.5 L179.7,258.6 L179.9,259.0 L180.0,260.2 L180.2,260.6 L180.4,261.6 L180.6,261.8 L180.8,263.1 L181.0,263.5 L181.2,264.4 L181.3,265.8 L181.5,266.0 L181.7,266.9 L181.9,268.0 L182.1,268.8 L182.3,269.1 L182.6,270.0 L182.8,271.4 L183.0,271.9 L183.2,272.4 L183.4,273.5 L183.6,274.2 L183.8,275.6 L184.1,275.5 L184.3,276.4 L184.5,277.1 L184.7,278.3 L185.0,279.5 L185.2,280.1 L185.4,280.2 L185.7,281.4 L185.9,282.0 L186.2,283.3 L186.4,283.8 L186.7,284.5 L186.9,285.0 L187.2,285.9 L187.4,286.8 L187.7,287.4 L188.0,288.4 L188.2,288.6 L188.5,289.7 L188.9,290.9 L189.2,291.0 L189.7,291.9 L190.1,292.9 L190.6,293.6 L191.2,294.2 L191.7,294.5 L192.3,295.4 L192.9,295.4 L193.6,296.3 L194.3,296.1 L195.1,296.6 L195.9,296.8 L196.7,297.2 L197.6,297.8 L198.3,297.3 L199.0,298.3 L199.7,297.6 L200.4,298.5 L201.1,298.6 L201.9,298.3 L202.8,298.6 L203.7,298.7 L204.7,298.3 L205.9,298.8 L206.3,298.0 L206.8,298.7 L207.3,298.6 L207.8,298.8 L208.3,298.1 L208.8,298.1 L209.4,298.5 L209.9,298.6 L210.5,298.7 L211.1,298.2 L211.7,298.6 L212.4,299.0 L213.0,298.3 L213.7,298.9 L214.4,299.1 L215.0,298.8 L215.8,298.6 L216.5,298.5 L217.2,298.6 L217.9,298.3 L218.7,298.2 L219.4,298.4 L220.2,298.3 L221.0,299.0 L221.8,298.5 L222.6,299.0 L223.4,298.7 L224.2,299.0 L225.1,299.0 L225.9,298.8 L226.8,298.6 L227.6,298.4 L228.5,298.7 L229.3,298.4 L230.2,298.9 L231.1,298.2 L232.0,298.7 L232.9,298.4 L233.8,298.5 L234.7,298.6 L235.6,299.1 L236.5,299.1 L237.4,298.4 L238.3,299.0 L239.2,299.0 L240.2,298.6 L241.1,298.6 L242.0,298.2 L242.9,298.8 L243.9,298.5 L244.8,298.8 L245.7,298.9 L246.6,298.6 L247.6,298.7 L248.5,298.5 L249.4,298.1 L250.3,298.4 L251.2,298.0 L252.2,298.1 L253.1,298.9 L254.0,298.3 L254.9,298.1 L255.8,298.4 L256.7,298.0 L257.6,298.5 L258.5,298.2 L259.3,298.1 L260.2,298.6 L261.1,298.8 L261.9,297.9 L262.8,298.6 L263.6,298.5 L264.4,298.4 L265.3,298.3 L266.1,297.9 L266.9,298.3" fill="none" stroke="#333" stroke-width="0.59" stroke-linejoin="round" stroke-dasharray="1.2,1.6"/>
<line x1="166.7" y1="298.4" x2="266.3" y2="298.4" stroke="#1c1c2c" stroke-width="1"/>
<line x1="166.7" y1="217.5" x2="166.7" y2="298.4" stroke="#2a2a7a" stroke-width="1.3" stroke-dasharray="1.6,0.9"/>
<path d="M164.5,298.4 H167 M165.6,294.35 H167 M165.6,290.31 H167 M165.6,286.26 H167 M164.5,282.22 H167 M165.6,278.17 H167 M165.6,274.13 H167 M165.6,270.08 H167 M164.5,266.04 H167 M165.6,262 H167 M165.6,257.95 H167 M165.6,253.9 H167 M164.5,249.86 H167 M165.6,245.81 H167 M165.6,241.77 H167 M165.6,237.72 H167 M164.5,233.68 H167 M165.6,229.63 H167 M165.6,225.59 H167 M165.6,221.55 H167 M164.5,217.5 H167" stroke="#2a2a3a" stroke-width="0.75"/>
<path d="M166.7,298.1 V300.4 M174.2,298.1 V299.5 M178.58,298.1 V299.5 M181.69,298.1 V299.5 M184.1,298.1 V299.5 M186.08,298.1 V299.5 M187.74,298.1 V299.5 M189.19,298.1 V299.5 M190.46,298.1 V299.5 M191.6,298.1 V300.4 M199.1,298.1 V299.5 M203.48,298.1 V299.5 M206.59,298.1 V299.5 M209,298.1 V299.5 M210.98,298.1 V299.5 M212.64,298.1 V299.5 M214.09,298.1 V299.5 M215.36,298.1 V299.5 M216.5,298.1 V300.4 M224,298.1 V299.5 M228.38,298.1 V299.5 M231.49,298.1 V299.5 M233.9,298.1 V299.5 M235.88,298.1 V299.5 M237.54,298.1 V299.5 M238.99,298.1 V299.5 M240.26,298.1 V299.5 M241.4,298.1 V300.4 M248.9,298.1 V299.5 M253.28,298.1 V299.5 M256.39,298.1 V299.5 M258.8,298.1 V299.5 M260.78,298.1 V299.5 M262.44,298.1 V299.5 M263.89,298.1 V299.5 M265.16,298.1 V299.5 M266.3,298.4 V300.4" stroke="#3a3a3a" stroke-width="0.7"/>
<text transform="translate(164.1,298.4) rotate(-90)" font-size="3.4" text-anchor="middle" fill="#777">0</text>
<text transform="translate(164.1,282.22) rotate(-90)" font-size="3.4" text-anchor="middle" fill="#777">20</text>
<text transform="translate(164.1,266.04) rotate(-90)" font-size="3.4" text-anchor="middle" fill="#777">40</text>
<text transform="translate(164.1,249.86) rotate(-90)" font-size="3.4" text-anchor="middle" fill="#777">60</text>
<text transform="translate(164.1,233.68) rotate(-90)" font-size="3.4" text-anchor="middle" fill="#777">80</text>
<text transform="translate(164.1,217.5) rotate(-90)" font-size="3.4" text-anchor="middle" fill="#777">100</text>
<text x="167" y="304.4" font-size="3.8" text-anchor="middle" fill="#777">10<tspan font-size="2.8" dy="-1.5">0</tspan></text>
<text x="191.9" y="304.4" font-size="3.8" text-anchor="middle" fill="#777">10<tspan font-size="2.8" dy="-1.5">1</tspan></text>
<text x="216.8" y="304.4" font-size="3.8" text-anchor="middle" fill="#777">10<tspan font-size="2.8" dy="-1.5">2</tspan></text>
<text x="241.7" y="304.4" font-size="3.8" text-anchor="middle" fill="#777">10<tspan font-size="2.8" dy="-1.5">3</tspan></text>
<text x="266.6" y="304.4" font-size="3.8" text-anchor="middle" fill="#777">10<tspan font-size="2.8" dy="-1.5">4</tspan></text>
<text x="227.9" y="229.4" font-size="11.9" textLength="34.1" lengthAdjust="spacingAndGlyphs" fill="#111" stroke="#111" stroke-width="0.22">H1650</text>
<path d="M281.2,216.5 H383.8 V297.3" fill="none" stroke="#8e8e8e" stroke-width="1"/>
<path d="M281.4,290.0 L281.5,289.1 L281.6,289.0 L281.7,287.6 L281.9,287.1 L282.0,286.4 L282.2,285.7 L282.3,284.6 L282.5,283.8 L282.6,283.3 L282.8,281.7 L283.0,280.9 L283.2,279.7 L283.4,279.3 L283.5,278.4 L283.7,278.0 L283.8,277.2 L284.0,275.9 L284.1,275.2 L284.2,274.0 L284.4,273.8 L284.5,272.8 L284.7,271.6 L284.8,271.5 L284.9,269.9 L285.1,269.2 L285.2,268.7 L285.3,268.4 L285.5,266.7 L285.6,266.1 L285.7,265.8 L285.9,264.5 L286.0,264.2 L286.1,262.4 L286.3,261.8 L286.4,261.0 L286.5,260.7 L286.7,259.1 L286.8,258.9 L286.9,258.3 L287.1,257.6 L287.2,256.7 L287.4,255.2 L287.6,254.7 L287.8,253.6 L288.0,252.6 L288.2,251.9 L288.4,251.5 L288.6,250.6 L288.8,249.4 L289.0,248.9 L289.3,248.1 L289.8,247.8 L290.4,246.7 L291.0,246.0 L291.5,246.8 L292.0,247.5 L292.5,247.7 L292.7,248.3 L292.9,248.9 L293.1,250.1 L293.2,250.8 L293.4,251.6 L293.5,252.7 L293.7,253.3 L293.8,254.0 L294.0,255.3 L294.2,256.3 L294.3,256.1 L294.5,257.3 L294.6,257.7 L294.8,259.2 L295.0,259.7 L295.2,260.9 L295.3,261.6 L295.5,262.7 L295.7,263.2 L295.9,264.1 L296.1,265.3 L296.2,266.0 L296.4,266.3 L296.6,266.9 L296.8,268.5 L297.0,268.5 L297.2,270.2 L297.4,271.0 L297.6,271.5 L297.8,272.6 L297.9,273.1 L298.1,274.0 L298.3,274.7 L298.5,275.1 L298.7,275.7 L298.9,277.2 L299.2,277.7 L299.4,278.1 L299.6,279.4 L299.8,279.9 L300.1,280.7 L300.3,282.2 L300.6,282.8 L300.8,283.8 L301.1,284.7 L301.4,285.2 L301.6,286.0 L301.9,286.8 L302.2,287.6 L302.5,288.7 L302.7,289.6 L303.0,289.7 L303.3,290.7 L303.7,291.1 L304.1,291.8 L304.5,293.2 L305.0,294.1 L305.4,294.3 L306.0,295.5 L306.7,295.7 L307.4,295.8 L308.2,296.5 L309.1,296.9 L310.0,296.4 L310.7,297.3 L311.4,297.0 L312.2,296.9 L313.0,297.0 L313.8,297.2 L314.7,297.2 L315.5,296.9 L316.4,296.7 L317.2,297.3 L318.0,297.4" fill="none" stroke="#c8c880" stroke-width="0.77" stroke-linejoin="round"/>
<path d="M281.1,290.7 L281.2,289.6 L281.3,289.4 L281.4,287.7 L281.6,286.9 L281.7,286.2 L281.9,286.0 L282.0,285.2 L282.2,284.0 L282.3,283.5 L282.5,282.1 L282.7,281.2 L282.9,281.2 L283.1,280.2 L283.2,278.5 L283.4,278.2 L283.5,277.2 L283.7,276.5 L283.8,276.0 L283.9,275.0 L284.1,274.5 L284.2,273.4 L284.4,272.9 L284.5,271.3 L284.6,271.1 L284.8,269.8 L284.9,269.6 L285.0,268.7 L285.2,268.1 L285.3,267.1 L285.4,265.9 L285.6,265.1 L285.7,264.6 L285.8,263.0 L286.0,262.6 L286.1,261.8 L286.2,261.1 L286.4,259.9 L286.5,259.3 L286.6,258.6 L286.8,257.5 L286.9,257.0 L287.1,256.5 L287.3,255.1 L287.5,254.4 L287.7,253.5 L287.9,253.0 L288.1,251.6 L288.3,250.8 L288.5,250.2 L288.7,249.8 L289.0,248.7 L289.5,248.3 L290.1,246.9 L290.7,246.7 L291.2,246.7 L291.7,247.1 L292.2,248.4 L292.4,249.1 L292.6,249.3 L292.8,250.9 L292.9,251.3 L293.1,252.0 L293.2,252.4 L293.4,253.5 L293.5,254.5 L293.7,255.7 L293.9,256.0 L294.0,257.0 L294.2,257.6 L294.3,258.7 L294.5,259.6 L294.7,260.3 L294.9,261.3 L295.0,262.0 L295.2,262.4 L295.4,263.8 L295.6,264.5 L295.8,265.6 L295.9,266.6 L296.1,266.8 L296.3,268.2 L296.5,268.3 L296.7,269.6 L296.9,269.8 L297.1,271.4 L297.3,271.8 L297.5,272.6 L297.6,273.5 L297.8,274.1 L298.0,274.8 L298.2,276.0 L298.4,276.8 L298.6,277.0 L298.9,278.0 L299.1,279.4 L299.3,279.6 L299.5,280.4 L299.8,281.5 L300.0,282.2 L300.3,283.6 L300.5,284.5 L300.8,284.5 L301.1,285.5 L301.3,286.3 L301.6,287.3 L301.9,288.0 L302.2,289.1 L302.4,290.1 L302.7,289.9 L303.0,290.5 L303.4,291.5 L303.8,292.6 L304.2,293.2 L304.7,294.2 L305.1,294.8 L305.7,295.7 L306.4,296.5 L307.1,296.9 L307.9,296.7 L308.8,297.2 L309.7,296.9 L310.4,297.5 L311.1,297.9 L311.9,297.9 L312.7,297.1 L313.5,297.1 L314.4,297.8 L315.2,297.6 L316.1,297.6 L316.9,296.9 L317.7,297.4" fill="none" stroke="#80b880" stroke-width="0.68" stroke-linejoin="round"/>
<path d="M281.7,289.0 L281.8,289.0 L281.9,288.3 L282.0,287.0 L282.2,285.8 L282.3,285.9 L282.5,285.4 L282.6,284.3 L282.8,283.2 L282.9,282.3 L283.1,281.9 L283.3,281.1 L283.5,279.6 L283.7,278.5 L283.8,278.4 L284.0,276.9 L284.1,276.2 L284.3,275.3 L284.4,274.9 L284.6,274.4 L284.7,273.0 L284.8,272.6 L285.0,271.4 L285.1,270.6 L285.2,270.1 L285.4,269.5 L285.5,268.5 L285.6,267.6 L285.8,266.9 L285.9,266.2 L286.0,265.4 L286.2,264.2 L286.3,263.2 L286.4,262.0 L286.5,261.7 L286.6,260.7 L286.8,259.6 L286.9,259.7 L287.0,258.2 L287.1,258.1 L287.3,256.4 L287.4,255.9 L287.6,255.6 L287.7,254.8 L287.9,253.9 L288.1,252.8 L288.3,251.5 L288.5,251.3 L288.7,250.4 L288.9,249.3 L289.2,248.6 L289.4,248.2 L289.6,247.2 L290.0,246.1 L290.4,245.2 L290.8,244.7 L291.3,244.0 L291.8,243.2 L292.3,244.1 L292.7,244.4 L293.1,245.4 L293.4,246.0 L293.7,247.6 L293.9,248.2 L294.0,248.7 L294.2,249.0 L294.3,249.7 L294.5,250.6 L294.7,251.6 L294.8,251.9 L295.0,253.3 L295.2,254.5 L295.4,254.5 L295.5,256.2 L295.7,256.8 L295.9,258.0 L296.1,258.5 L296.3,259.3 L296.5,260.2 L296.8,260.6 L297.0,261.1 L297.2,262.6 L297.5,263.4 L297.7,264.0 L297.9,264.2 L298.2,265.3 L298.4,266.1 L298.7,266.7 L298.9,267.6 L299.1,268.3 L299.4,269.6 L299.6,270.1 L299.8,271.2 L300.1,271.9 L300.3,272.0 L300.5,273.4 L300.8,273.7 L301.0,274.7 L301.2,275.5 L301.5,276.5 L301.7,276.8 L301.9,278.0 L302.2,278.4 L302.4,279.7 L302.6,280.2 L302.8,281.1 L303.1,282.3 L303.3,282.3 L303.5,282.8 L303.8,284.5 L304.0,284.9 L304.2,285.7 L304.5,286.6 L304.8,287.6 L305.1,288.0 L305.4,289.5 L305.8,289.7 L306.1,290.9 L306.5,291.8 L306.9,292.0 L307.3,292.7 L307.9,293.4 L308.6,294.0 L309.3,294.6 L310.1,295.5 L311.0,295.2 L311.7,296.3 L312.4,296.3 L313.2,296.2 L314.0,296.4 L314.8,296.1 L315.7,296.6 L316.6,296.8 L317.5,296.4 L318.2,296.5 L318.8,296.3 L319.5,296.4 L320.2,297.0 L320.9,296.8 L321.6,296.6 L322.3,296.8 L323.1,296.4 L323.9,296.2 L324.7,296.5 L325.5,296.8 L326.4,296.4 L327.3,296.7 L328.2,296.5 L329.2,296.5 L330.3,296.9 L330.8,296.6 L331.4,297.0 L332.0,297.0 L332.5,296.6 L333.1,296.3 L333.7,297.1 L334.4,296.8 L335.0,296.8 L335.7,296.9 L336.3,296.8 L337.0,297.1 L337.7,296.3 L338.4,297.2 L339.1,296.9 L339.8,296.7 L340.6,297.2 L341.3,297.2 L342.1,296.9 L342.9,296.3 L343.6,296.9 L344.4,296.7 L345.2,296.8 L346.0,297.1 L346.8,296.4 L347.7,297.1 L348.5,296.6 L349.3,296.5 L350.2,296.3 L351.0,296.4 L351.9,296.5 L352.7,296.8 L353.6,297.2 L354.4,296.4 L355.3,296.6 L356.2,296.7 L357.1,296.9 L358.0,296.6 L358.8,296.9 L359.7,296.4 L360.6,296.3 L361.5,296.9 L362.4,297.0 L363.3,296.4 L364.2,296.3 L365.1,297.0 L366.0,296.3 L366.9,297.2 L367.8,297.0 L368.7,296.4 L369.6,296.7 L370.4,296.3 L371.3,296.4 L372.2,296.6 L373.1,297.2 L374.0,297.2 L374.8,297.0 L375.7,296.9 L376.6,296.9 L377.4,296.8 L378.3,296.9 L379.1,296.8 L380.0,296.7 L380.8,297.1 L381.7,296.6 L382.5,296.7 L383.3,297.0 L384.1,297.3" fill="none" stroke="#e23a2a" stroke-width="0.77" stroke-linejoin="round"/>
<path d="M281.4,289.8 L281.5,289.2 L281.6,288.4 L281.7,287.4 L281.9,286.7 L282.0,286.4 L282.2,285.1 L282.3,284.6 L282.5,283.6 L282.6,283.0 L282.8,282.3 L283.0,280.8 L283.2,280.2 L283.4,279.0 L283.5,278.5 L283.7,277.7 L283.8,276.5 L284.0,275.7 L284.1,275.0 L284.3,274.2 L284.4,274.0 L284.5,273.1 L284.7,272.3 L284.8,271.1 L284.9,270.3 L285.1,269.2 L285.2,268.7 L285.3,268.4 L285.5,266.7 L285.6,266.2 L285.7,265.2 L285.9,265.0 L286.0,263.7 L286.1,263.0 L286.2,261.8 L286.3,261.6 L286.5,260.6 L286.6,260.0 L286.7,259.1 L286.8,258.4 L287.0,257.1 L287.1,256.3 L287.3,255.9 L287.4,254.6 L287.6,254.6 L287.8,253.5 L288.0,252.4 L288.2,251.4 L288.4,250.2 L288.6,249.9 L288.9,249.3 L289.1,248.0 L289.3,247.3 L289.7,246.8 L290.1,245.7 L290.5,245.3 L291.0,244.2 L291.5,244.4 L292.0,244.6 L292.4,244.8 L292.8,245.8 L293.1,246.7 L293.4,247.7 L293.6,248.6 L293.7,249.1 L293.9,249.9 L294.0,250.1 L294.2,251.2 L294.4,252.0 L294.5,252.9 L294.7,253.2 L294.9,254.9 L295.1,255.4 L295.2,256.0 L295.4,257.6 L295.6,258.1 L295.8,259.0 L296.0,259.8 L296.2,260.5 L296.5,261.6 L296.7,261.5 L296.9,262.6 L297.2,263.2 L297.4,264.4 L297.6,264.7 L297.9,265.3 L298.1,266.2 L298.4,267.0 L298.6,268.1 L298.8,268.8 L299.1,269.6 L299.3,270.0 L299.5,271.3 L299.8,271.8 L300.0,272.4 L300.2,273.1 L300.5,274.0 L300.7,275.1 L300.9,275.6 L301.2,276.7 L301.4,277.2 L301.6,278.5 L301.9,279.5 L302.1,279.7 L302.3,280.2 L302.5,281.9 L302.8,281.9 L303.0,283.2 L303.2,284.1 L303.5,284.6 L303.7,285.7 L303.9,285.7 L304.2,287.0 L304.5,288.1 L304.8,289.0 L305.1,289.8 L305.5,290.3 L305.8,291.2 L306.2,292.3 L306.6,292.5 L307.0,293.1 L307.6,293.6 L308.3,294.4 L309.0,294.9 L309.8,296.1 L310.7,295.9 L311.4,296.2 L312.1,297.0 L312.9,296.8 L313.7,296.7 L314.5,296.4 L315.4,296.7 L316.3,296.7 L317.2,297.4 L317.9,297.0 L318.5,297.6 L319.2,296.9 L319.9,296.7 L320.6,297.6 L321.3,296.7 L322.0,297.5 L322.8,297.3 L323.6,297.0 L324.4,297.5 L325.2,297.1 L326.1,297.7 L327.0,297.2 L327.9,297.6 L328.9,297.6 L330.0,297.1 L330.5,297.4 L331.1,297.4 L331.7,297.4 L332.2,296.7 L332.8,297.4 L333.4,297.5 L334.1,296.9 L334.7,296.8 L335.4,296.8 L336.0,297.3 L336.7,296.8 L337.4,297.6 L338.1,297.2 L338.8,297.7 L339.5,297.5 L340.3,297.2 L341.0,296.9 L341.8,297.2 L342.6,297.4 L343.3,297.6 L344.1,297.7 L344.9,297.1 L345.7,296.8 L346.5,297.4 L347.4,297.5 L348.2,297.4 L349.0,297.6 L349.9,297.6 L350.7,297.4 L351.6,297.6 L352.4,296.9 L353.3,297.7 L354.1,297.4 L355.0,296.9 L355.9,296.9 L356.8,297.4 L357.7,297.1 L358.5,297.7 L359.4,297.1 L360.3,297.3 L361.2,297.3 L362.1,297.7 L363.0,297.1 L363.9,297.7 L364.8,297.5 L365.7,297.4 L366.6,297.7 L367.5,297.7 L368.4,297.5 L369.3,297.3 L370.1,296.8 L371.0,297.0 L371.9,297.4 L372.8,296.9 L373.7,297.4 L374.5,297.1 L375.4,297.2 L376.3,297.6 L377.1,297.6 L378.0,297.5 L378.8,297.2 L379.7,297.3 L380.5,297.8 L381.4,297.7 L382.2,297.4 L383.0,296.9 L383.8,297.7" fill="none" stroke="#3c3cb4" stroke-width="0.77" stroke-linejoin="round"/>
<path d="M281.9,290.0 L282.0,289.4 L282.1,289.2 L282.2,287.9 L282.4,287.6 L282.5,286.8 L282.7,285.6 L282.8,285.5 L283.0,284.8 L283.1,283.6 L283.3,283.0 L283.5,282.0 L283.7,280.7 L283.9,280.1 L284.0,279.3 L284.2,278.2 L284.3,276.8 L284.5,276.3 L284.6,275.9 L284.8,274.7 L284.9,273.7 L285.0,273.2 L285.2,272.1 L285.3,271.6 L285.4,270.4 L285.6,270.3 L285.7,268.9 L285.8,268.8 L286.0,267.2 L286.1,266.9 L286.2,266.1 L286.4,264.9 L286.5,264.5 L286.6,263.6 L286.7,262.8 L286.8,261.6 L287.0,261.0 L287.1,260.6 L287.2,259.5 L287.3,258.4 L287.5,257.7 L287.6,257.5 L287.8,255.9 L287.9,255.6 L288.1,254.7 L288.3,253.7 L288.5,252.4 L288.7,251.6 L288.9,251.5 L289.1,250.3 L289.4,249.4 L289.6,248.8 L289.8,247.8 L290.2,246.7 L290.6,246.6 L291.0,245.8 L291.5,244.5 L292.0,244.2 L292.5,244.4 L292.9,245.3 L293.3,246.3 L293.6,247.4 L293.9,248.2 L294.1,249.1 L294.2,249.9 L294.4,250.2 L294.5,250.4 L294.7,251.3 L294.9,252.7 L295.0,253.0 L295.2,254.6 L295.4,254.7 L295.6,255.5 L295.7,257.4 L295.9,257.6 L296.1,258.6 L296.3,259.4 L296.5,259.7 L296.7,260.7 L297.0,261.6 L297.2,262.7 L297.4,263.5 L297.7,264.2 L297.9,264.4 L298.1,265.5 L298.4,266.7 L298.6,266.7 L298.9,267.7 L299.1,268.7 L299.3,269.9 L299.6,269.7 L299.8,271.1 L300.0,271.7 L300.3,272.5 L300.5,273.6 L300.7,273.7 L301.0,275.0 L301.2,275.5 L301.4,276.7 L301.7,277.4 L301.9,277.9 L302.1,278.4 L302.4,279.8 L302.6,280.6 L302.8,281.2 L303.0,282.2 L303.3,283.2 L303.5,283.3 L303.7,284.5 L304.0,285.4 L304.2,285.6 L304.4,287.0 L304.7,287.1 L305.0,288.7 L305.3,289.2 L305.6,290.5 L306.0,291.2 L306.3,291.9 L306.7,292.3 L307.1,293.1 L307.5,293.9 L308.1,294.8 L308.8,295.1 L309.5,296.1 L310.3,295.9 L311.2,296.6 L311.9,296.5 L312.6,296.7 L313.4,296.9 L314.2,296.7 L315.0,297.3 L315.9,297.4 L316.8,297.2 L317.7,297.6 L318.4,297.4 L319.0,297.5 L319.7,297.0 L320.4,297.2 L321.1,296.9 L321.8,297.0 L322.5,297.7 L323.3,297.0 L324.1,297.5 L324.9,297.2 L325.7,297.5 L326.6,297.7 L327.5,297.6 L328.4,297.8 L329.5,297.8 L330.5,297.2 L331.0,297.8 L331.6,297.6 L332.2,297.1 L332.7,297.1 L333.3,297.3 L333.9,297.6 L334.6,296.9 L335.2,297.7 L335.9,297.5 L336.5,297.4 L337.2,297.2 L337.9,297.2 L338.6,297.2 L339.3,297.5 L340.0,297.2 L340.8,297.5 L341.5,297.7 L342.3,296.9 L343.1,296.8 L343.8,297.7 L344.6,297.0 L345.4,297.6 L346.2,297.2 L347.0,297.0 L347.9,296.8 L348.7,297.2 L349.5,297.4 L350.4,296.9 L351.2,296.8 L352.1,297.1 L352.9,297.7 L353.8,297.6 L354.6,297.1 L355.5,297.2 L356.4,297.2 L357.3,297.5 L358.2,297.1 L359.0,297.2 L359.9,297.3 L360.8,297.0 L361.7,297.2 L362.6,297.5 L363.5,297.3 L364.4,296.9 L365.3,297.1 L366.2,297.4 L367.1,297.0 L368.0,297.2 L368.9,297.4 L369.8,297.2 L370.6,297.0 L371.5,297.7 L372.4,296.9 L373.3,297.7 L374.2,296.9 L375.0,297.4 L375.9,297.3 L376.8,297.2 L377.6,297.4 L378.5,297.7 L379.3,297.1 L380.2,296.9 L381.0,297.0 L381.9,297.7 L382.7,297.4 L383.5,297.6 L384.3,297.2" fill="none" stroke="#222" stroke-width="0.68" stroke-linejoin="round" stroke-dasharray="1.2,1.6"/>
<line x1="281.2" y1="297.3" x2="383.8" y2="297.3" stroke="#1c1c2c" stroke-width="1"/>
<line x1="281.2" y1="216.5" x2="281.2" y2="297.3" stroke="#2a2a6a" stroke-width="1.3" stroke-dasharray="1.6,0.9"/>
<path d="M279,297.3 H281.5 M280.1,292.81 H281.5 M279,288.32 H281.5 M280.1,283.83 H281.5 M279,279.34 H281.5 M280.1,274.86 H281.5 M279,270.37 H281.5 M280.1,265.88 H281.5 M279,261.39 H281.5 M280.1,256.9 H281.5 M279,252.41 H281.5 M280.1,247.92 H281.5 M279,243.43 H281.5 M280.1,238.94 H281.5 M279,234.46 H281.5 M280.1,229.97 H281.5 M279,225.48 H281.5 M280.1,220.99 H281.5 M279,216.5 H281.5" stroke="#2a2a3a" stroke-width="0.75"/>
<path d="M281.2,297 V299.3 M288.92,297 V298.4 M293.44,297 V298.4 M296.64,297 V298.4 M299.13,297 V298.4 M301.16,297 V298.4 M302.88,297 V298.4 M304.36,297 V298.4 M305.68,297 V298.4 M306.85,297 V299.3 M314.57,297 V298.4 M319.09,297 V298.4 M322.29,297 V298.4 M324.78,297 V298.4 M326.81,297 V298.4 M328.53,297 V298.4 M330.01,297 V298.4 M331.33,297 V298.4 M332.5,297 V299.3 M340.22,297 V298.4 M344.74,297 V298.4 M347.94,297 V298.4 M350.43,297 V298.4 M352.46,297 V298.4 M354.18,297 V298.4 M355.66,297 V298.4 M356.98,297 V298.4 M358.15,297 V299.3 M365.87,297 V298.4 M370.39,297 V298.4 M373.59,297 V298.4 M376.08,297 V298.4 M378.11,297 V298.4 M379.83,297 V298.4 M381.31,297 V298.4 M382.63,297 V298.4 M383.8,297.3 V299.3" stroke="#3a3a3a" stroke-width="0.7"/>
<text transform="translate(278.6,297.3) rotate(-90)" font-size="3.4" text-anchor="middle" fill="#777">0</text>
<text transform="translate(278.6,288.32) rotate(-90)" font-size="3.4" text-anchor="middle" fill="#777">10</text>
<text transform="translate(278.6,279.34) rotate(-90)" font-size="3.4" text-anchor="middle" fill="#777">20</text>
<text transform="translate(278.6,270.37) rotate(-90)" font-size="3.4" text-anchor="middle" fill="#777">30</text>
<text transform="translate(278.6,261.39) rotate(-90)" font-size="3.4" text-anchor="middle" fill="#777">40</text>
<text transform="translate(278.6,252.41) rotate(-90)" font-size="3.4" text-anchor="middle" fill="#777">50</text>
<text transform="translate(278.6,243.43) rotate(-90)" font-size="3.4" text-anchor="middle" fill="#777">60</text>
<text transform="translate(278.6,234.46) rotate(-90)" font-size="3.4" text-anchor="middle" fill="#777">70</text>
<text transform="translate(278.6,225.48) rotate(-90)" font-size="3.4" text-anchor="middle" fill="#777">80</text>
<text transform="translate(278.6,216.5) rotate(-90)" font-size="3.4" text-anchor="middle" fill="#777">90</text>
<text x="281.5" y="303.3" font-size="3.8" text-anchor="middle" fill="#777">10<tspan font-size="2.8" dy="-1.5">0</tspan></text>
<text x="307.15" y="303.3" font-size="3.8" text-anchor="middle" fill="#777">10<tspan font-size="2.8" dy="-1.5">1</tspan></text>
<text x="332.8" y="303.3" font-size="3.8" text-anchor="middle" fill="#777">10<tspan font-size="2.8" dy="-1.5">2</tspan></text>
<text x="358.45" y="303.3" font-size="3.8" text-anchor="middle" fill="#777">10<tspan font-size="2.8" dy="-1.5">3</tspan></text>
<text x="384.1" y="303.3" font-size="3.8" text-anchor="middle" fill="#777">10<tspan font-size="2.8" dy="-1.5">4</tspan></text>
<text x="346" y="229.4" font-size="11.9" textLength="34.1" lengthAdjust="spacingAndGlyphs" fill="#111" stroke="#111" stroke-width="0.22">H1975</text>
<path d="M398.3,217 H495.8 V296" fill="none" stroke="#8e8e8e" stroke-width="1"/>
<path d="M398.1,295.3 L398.2,294.9 L398.3,294.0 L398.4,293.5 L398.5,292.0 L398.6,291.4 L398.7,291.0 L398.8,290.3 L398.9,289.0 L399.0,288.3 L399.1,287.0 L399.1,286.8 L399.2,285.8 L399.3,285.5 L399.4,284.3 L399.4,283.4 L399.5,282.7 L399.6,282.4 L399.7,281.5 L399.7,280.9 L399.8,279.5 L399.9,278.3 L400.0,278.2 L400.1,276.8 L400.2,276.4 L400.2,275.3 L400.3,274.4 L400.4,273.1 L400.5,272.4 L400.6,272.1 L400.7,271.0 L400.7,270.6 L400.8,269.7 L400.9,268.6 L401.0,268.2 L401.1,266.4 L401.2,265.9 L401.3,265.1 L401.3,263.8 L401.4,263.7 L401.5,262.2 L401.6,261.7 L401.7,260.5 L401.8,259.8 L401.9,259.0 L402.0,258.0 L402.1,257.1 L402.2,256.7 L402.2,255.9 L402.3,254.5 L402.4,254.6 L402.5,253.0 L402.6,252.4 L402.7,251.7 L402.8,250.9 L402.9,250.1 L403.0,249.6 L403.1,248.0 L403.3,247.6 L403.4,246.8 L403.5,245.6 L403.6,244.9 L403.7,244.2 L403.8,243.9 L404.0,243.1 L404.1,242.2 L404.2,241.2 L404.4,240.4 L404.7,239.8 L404.9,238.6 L405.2,237.9 L405.6,237.5 L406.1,236.5 L406.6,237.5 L407.1,238.2 L407.5,238.3 L407.9,239.5 L408.3,241.1 L408.5,241.1 L408.7,242.1 L408.8,242.6 L409.0,243.6 L409.2,244.3 L409.3,245.2 L409.5,246.7 L409.7,247.4 L409.8,248.6 L410.0,248.9 L410.2,250.0 L410.4,250.6 L410.5,251.9 L410.7,252.2 L410.9,253.3 L411.0,253.6 L411.2,254.8 L411.4,255.3 L411.6,256.8 L411.7,257.1 L411.9,258.5 L412.1,259.0 L412.3,259.6 L412.5,260.7 L412.6,261.9 L412.8,262.5 L413.0,263.4 L413.2,264.0 L413.3,264.9 L413.5,265.2 L413.7,266.7 L413.9,267.3 L414.0,268.2 L414.2,268.6 L414.4,269.9 L414.6,270.5 L414.7,271.1 L414.9,272.6 L415.1,273.2 L415.3,273.9 L415.4,274.9 L415.6,275.5 L415.8,276.0 L416.0,277.4 L416.2,278.2 L416.4,278.8 L416.6,279.4 L416.7,280.3 L416.9,280.7 L417.1,282.4 L417.3,283.2 L417.5,283.7 L417.7,284.4 L417.9,285.5 L418.1,285.4 L418.4,286.5 L418.6,287.1 L419.0,288.4 L419.3,289.0 L419.7,290.1 L420.0,291.2 L420.5,291.5 L420.9,291.9 L421.4,292.4 L422.0,293.9 L422.7,294.1 L423.4,294.5 L424.2,294.5 L425.1,294.9 L425.8,295.0 L426.5,296.0 L427.2,295.3 L428.0,295.7 L428.8,295.9 L429.7,296.0 L430.6,295.7 L431.5,296.1 L432.5,296.1 L433.1,296.5 L433.8,295.6 L434.5,295.9 L435.2,295.7 L435.9,295.9 L436.6,295.8 L437.3,295.6 L438.0,296.4 L438.8,295.9 L439.6,296.3 L440.4,296.4 L441.2,296.4 L442.0,295.6 L442.8,296.1 L443.7,296.4 L444.6,296.2 L445.5,296.1 L446.4,295.9 L447.4,296.3 L448.3,296.0 L449.3,295.9 L449.9,296.0 L450.5,296.0 L451.2,295.7 L451.8,296.2 L452.5,296.3 L453.2,296.2 L453.9,295.5 L454.6,295.9 L455.3,296.3 L456.0,295.6 L456.7,296.0 L457.5,296.2 L458.2,296.0 L459.0,295.8 L459.7,295.5 L460.5,296.2 L461.3,295.7 L462.1,296.1 L462.9,296.0 L463.7,296.2 L464.5,295.6 L465.3,296.5 L466.2,296.2 L467.0,296.4 L467.8,295.7 L468.7,296.2 L469.5,295.9 L470.4,296.2 L471.2,296.2 L472.1,295.9 L472.9,296.4 L473.8,295.9 L474.7,296.0 L475.5,296.2 L476.4,295.7 L477.3,296.4 L478.1,295.8 L479.0,296.4 L479.9,295.6 L480.7,295.6 L481.6,296.1 L482.5,295.7 L483.3,295.9 L484.2,295.7 L485.1,296.2 L485.9,296.2 L486.8,296.2 L487.6,295.6 L488.5,295.5 L489.3,296.1 L490.2,295.6 L491.0,296.2 L491.8,296.0 L492.7,296.4 L493.5,296.3 L494.3,296.2 L495.1,296.3" fill="none" stroke="#e0a030" stroke-width="0.85" stroke-linejoin="round"/>
<path d="M398.6,295.2 L398.7,294.2 L398.8,293.2 L398.9,293.0 L399.0,292.2 L399.1,291.4 L399.2,290.5 L399.3,289.6 L399.4,289.1 L399.5,287.6 L399.6,286.7 L399.6,286.8 L399.7,286.0 L399.8,285.4 L399.9,284.7 L399.9,283.4 L400.0,282.3 L400.1,281.8 L400.2,281.0 L400.2,280.1 L400.3,279.6 L400.4,278.2 L400.5,278.1 L400.6,276.5 L400.7,275.7 L400.7,275.3 L400.8,273.9 L400.9,273.5 L401.0,272.2 L401.1,271.5 L401.2,270.7 L401.2,269.6 L401.3,269.4 L401.4,268.7 L401.5,267.9 L401.6,266.2 L401.7,265.2 L401.8,264.8 L401.8,264.2 L401.9,263.1 L402.0,262.7 L402.1,261.8 L402.2,260.7 L402.3,259.4 L402.4,258.7 L402.5,257.5 L402.6,257.0 L402.7,256.5 L402.7,255.3 L402.8,254.3 L402.9,253.9 L403.0,253.5 L403.1,252.5 L403.2,251.2 L403.3,250.6 L403.4,249.6 L403.5,249.3 L403.6,248.0 L403.8,247.2 L403.9,246.7 L404.0,245.3 L404.1,244.7 L404.2,244.5 L404.3,243.1 L404.5,242.6 L404.6,242.1 L404.7,241.1 L404.9,240.3 L405.2,239.1 L405.4,238.7 L405.7,237.8 L406.1,237.3 L406.6,236.8 L407.1,237.2 L407.6,237.6 L408.0,238.1 L408.4,239.2 L408.8,240.2 L409.0,240.5 L409.2,242.0 L409.3,242.5 L409.5,243.3 L409.7,244.4 L409.8,244.6 L410.0,245.6 L410.2,247.1 L410.3,247.4 L410.5,249.1 L410.7,249.7 L410.9,250.9 L411.0,251.6 L411.2,251.9 L411.4,252.7 L411.5,253.6 L411.7,254.7 L411.9,255.2 L412.1,256.3 L412.2,257.4 L412.4,258.0 L412.6,258.6 L412.8,259.7 L413.0,260.3 L413.1,261.2 L413.3,261.9 L413.5,263.2 L413.7,264.1 L413.8,264.5 L414.0,265.3 L414.2,265.7 L414.4,267.0 L414.5,268.2 L414.7,268.3 L414.9,269.6 L415.1,269.9 L415.2,271.2 L415.4,271.6 L415.6,272.7 L415.8,273.7 L415.9,273.8 L416.1,275.4 L416.3,275.8 L416.5,276.4 L416.7,277.3 L416.9,278.4 L417.1,279.4 L417.2,279.7 L417.4,280.4 L417.6,281.4 L417.8,282.7 L418.0,283.2 L418.2,284.4 L418.4,285.1 L418.6,285.5 L418.9,286.4 L419.1,286.6 L419.5,288.1 L419.8,289.0 L420.2,289.4 L420.5,290.7 L421.0,290.9 L421.4,292.4 L421.9,292.6 L422.5,293.7 L423.2,293.9 L423.9,294.0 L424.7,294.9 L425.6,295.1 L426.3,295.1 L427.0,295.6 L427.7,295.8 L428.5,295.8 L429.3,295.5 L430.2,296.3 L431.1,296.3 L432.0,295.9 L433.0,296.4 L433.6,296.5 L434.3,295.9 L435.0,295.8 L435.7,295.9 L436.3,296.1 L437.1,295.8 L437.8,295.9 L438.5,296.4 L439.3,295.6 L440.1,296.2 L440.9,296.0 L441.7,296.3 L442.5,295.8 L443.3,296.0 L444.2,295.8 L445.1,295.6 L446.0,296.4 L446.9,295.9 L447.9,295.8 L448.8,296.4 L449.8,295.9 L450.4,296.0 L451.0,295.6 L451.7,295.9 L452.3,296.4 L453.0,296.3 L453.7,296.3 L454.4,296.4 L455.1,295.7 L455.8,295.6 L456.5,295.6 L457.2,296.2 L458.0,296.0 L458.7,295.9 L459.5,296.2 L460.2,295.7 L461.0,296.1 L461.8,295.9 L462.6,295.6 L463.4,296.3 L464.2,295.7 L465.0,296.3 L465.8,296.3 L466.7,295.9 L467.5,296.0 L468.3,295.7 L469.2,295.6 L470.0,296.2 L470.9,295.9 L471.7,296.1 L472.6,295.9 L473.4,295.8 L474.3,295.7 L475.2,296.3 L476.0,295.9 L476.9,295.7 L477.8,296.4 L478.6,295.7 L479.5,295.7 L480.4,295.7 L481.2,296.1 L482.1,296.3 L483.0,295.5 L483.8,296.4 L484.7,296.2 L485.6,296.3 L486.4,295.9 L487.3,295.9 L488.1,295.6 L489.0,295.8 L489.8,296.4 L490.7,295.8 L491.5,296.4 L492.3,296.3 L493.2,296.4 L494.0,295.6 L494.8,295.9 L495.6,296.3" fill="none" stroke="#7a6a6a" stroke-width="0.68" stroke-linejoin="round"/>
<path d="M399.2,294.8 L399.3,293.9 L399.4,292.9 L399.5,292.7 L399.6,291.9 L399.7,290.8 L399.8,290.0 L399.9,289.5 L400.0,288.2 L400.1,287.8 L400.2,287.2 L400.2,286.1 L400.3,285.1 L400.4,284.8 L400.5,283.8 L400.5,282.9 L400.6,282.7 L400.7,281.7 L400.8,280.6 L400.8,279.7 L400.9,279.4 L401.0,278.7 L401.1,277.3 L401.2,276.6 L401.3,275.4 L401.3,274.8 L401.4,274.0 L401.5,272.9 L401.6,272.3 L401.7,271.4 L401.8,270.1 L401.8,269.3 L401.9,268.8 L402.0,267.7 L402.1,267.3 L402.2,266.5 L402.3,265.6 L402.4,265.0 L402.4,263.8 L402.5,263.1 L402.6,261.6 L402.7,261.5 L402.8,260.7 L402.9,259.5 L403.0,258.9 L403.1,257.8 L403.2,256.8 L403.3,255.7 L403.3,255.2 L403.4,254.7 L403.5,254.0 L403.6,253.3 L403.7,252.2 L403.8,251.8 L403.9,250.4 L404.0,249.1 L404.1,248.7 L404.2,247.9 L404.4,247.3 L404.5,245.9 L404.6,244.9 L404.7,244.8 L404.8,243.5 L404.9,243.4 L405.1,242.4 L405.2,241.3 L405.3,241.1 L405.5,240.3 L405.8,238.8 L406.0,238.6 L406.3,237.1 L406.7,236.5 L407.2,236.6 L407.7,237.0 L408.2,237.6 L408.6,238.6 L409.0,238.8 L409.4,239.7 L409.6,240.9 L409.8,241.4 L409.9,242.2 L410.1,243.0 L410.3,244.3 L410.4,244.6 L410.6,246.0 L410.8,246.8 L410.9,247.4 L411.1,249.0 L411.3,249.3 L411.5,250.1 L411.6,250.7 L411.8,252.0 L412.0,252.8 L412.1,253.3 L412.3,253.9 L412.5,255.2 L412.7,255.8 L412.8,256.8 L413.0,257.7 L413.2,257.9 L413.4,258.8 L413.6,260.4 L413.7,261.3 L413.9,261.4 L414.1,262.3 L414.3,263.3 L414.4,264.6 L414.6,264.9 L414.8,266.3 L415.0,266.3 L415.1,267.9 L415.3,267.9 L415.5,269.3 L415.7,270.5 L415.8,271.0 L416.0,272.0 L416.2,272.3 L416.4,273.7 L416.5,274.4 L416.7,274.6 L416.9,275.9 L417.1,276.9 L417.3,277.0 L417.5,278.0 L417.7,279.3 L417.8,279.9 L418.0,281.1 L418.2,281.4 L418.4,282.3 L418.6,282.8 L418.8,283.7 L419.0,285.1 L419.2,285.2 L419.5,286.5 L419.7,287.1 L420.1,287.8 L420.4,288.5 L420.8,289.0 L421.1,289.9 L421.6,291.4 L422.0,292.2 L422.5,292.9 L423.1,292.8 L423.8,294.0 L424.5,294.0 L425.3,294.3 L426.2,295.2 L426.9,295.3 L427.6,295.4 L428.3,295.1 L429.1,295.1 L429.9,295.2 L430.8,295.4 L431.7,295.4 L432.6,295.8 L433.6,295.6 L434.2,295.6 L434.9,296.3 L435.6,295.8 L436.3,295.4 L436.9,295.5 L437.7,296.0 L438.4,295.5 L439.1,296.1 L439.9,295.5 L440.7,296.0 L441.5,296.1 L442.3,296.0 L443.1,295.7 L443.9,296.3 L444.8,296.5 L445.7,296.3 L446.6,296.4 L447.5,296.5 L448.5,295.9 L449.4,296.0 L450.4,295.9 L451.0,296.3 L451.6,295.7 L452.3,295.7 L452.9,296.0 L453.6,296.1 L454.3,296.5 L455.0,295.9 L455.7,295.5 L456.4,295.9 L457.1,296.4 L457.8,295.6 L458.6,296.0 L459.3,296.1 L460.1,296.4 L460.8,295.9 L461.6,296.1 L462.4,296.5 L463.2,296.5 L464.0,296.1 L464.8,295.9 L465.6,296.2 L466.4,296.3 L467.3,296.2 L468.1,296.2 L468.9,295.9 L469.8,296.2 L470.6,295.9 L471.5,295.8 L472.3,295.6 L473.2,296.1 L474.0,295.7 L474.9,295.8 L475.8,295.8 L476.6,295.9 L477.5,295.9 L478.4,296.5 L479.2,296.0 L480.1,296.1 L481.0,295.9 L481.8,296.1 L482.7,296.3 L483.6,296.0 L484.4,296.0 L485.3,295.9 L486.2,295.7 L487.0,295.7 L487.9,295.6 L488.7,295.8 L489.6,295.5 L490.4,295.9 L491.3,296.1 L492.1,295.6 L492.9,296.3 L493.8,296.0 L494.6,296.1 L495.4,295.9 L496.2,296.3" fill="none" stroke="#3a9e86" stroke-width="0.85" stroke-linejoin="round"/>
<path d="M399.4,295.6 L399.5,294.2 L399.6,293.8 L399.7,292.8 L399.8,292.5 L399.9,291.3 L400.0,290.4 L400.1,289.3 L400.2,289.4 L400.3,287.5 L400.4,287.0 L400.4,287.0 L400.5,285.4 L400.6,285.1 L400.7,284.4 L400.7,283.8 L400.8,283.1 L400.9,282.5 L401.0,281.0 L401.0,280.0 L401.1,279.2 L401.2,278.2 L401.3,277.6 L401.4,277.1 L401.5,276.5 L401.5,274.8 L401.6,274.1 L401.7,273.8 L401.8,272.7 L401.9,271.7 L402.0,270.5 L402.0,269.7 L402.1,269.0 L402.2,268.6 L402.3,267.2 L402.4,266.8 L402.5,266.2 L402.6,264.5 L402.6,263.9 L402.7,263.2 L402.8,262.5 L402.9,261.8 L403.0,260.9 L403.1,259.8 L403.2,258.8 L403.3,258.3 L403.4,257.3 L403.5,256.9 L403.5,255.7 L403.6,254.9 L403.7,254.2 L403.8,253.3 L403.9,252.5 L404.0,252.0 L404.1,251.0 L404.2,250.5 L404.3,248.9 L404.4,248.3 L404.6,247.9 L404.7,246.9 L404.8,245.8 L404.9,244.8 L405.0,243.9 L405.1,243.4 L405.3,242.7 L405.4,242.0 L405.5,241.3 L405.7,240.4 L406.0,239.5 L406.2,238.2 L406.5,238.1 L406.9,237.4 L407.4,236.6 L407.9,237.0 L408.4,237.4 L408.8,238.6 L409.2,239.7 L409.6,240.5 L409.8,241.3 L410.0,242.0 L410.1,242.2 L410.3,243.0 L410.5,244.4 L410.6,245.7 L410.8,246.4 L411.0,247.0 L411.1,247.8 L411.3,248.6 L411.5,250.0 L411.7,250.9 L411.8,251.3 L412.0,251.8 L412.2,252.8 L412.3,254.0 L412.5,254.9 L412.7,255.4 L412.9,256.7 L413.0,257.0 L413.2,257.5 L413.4,258.5 L413.6,260.1 L413.8,260.7 L413.9,260.9 L414.1,262.0 L414.3,262.9 L414.5,263.8 L414.6,264.2 L414.8,265.9 L415.0,266.3 L415.2,266.9 L415.3,267.5 L415.5,268.8 L415.7,270.0 L415.9,270.6 L416.0,271.6 L416.2,272.4 L416.4,273.0 L416.6,273.2 L416.7,274.2 L416.9,275.3 L417.1,275.9 L417.3,276.6 L417.5,277.3 L417.7,278.9 L417.9,279.6 L418.0,280.0 L418.2,281.0 L418.4,282.3 L418.6,282.4 L418.8,283.7 L419.0,284.1 L419.2,285.5 L419.4,286.1 L419.7,287.0 L419.9,287.1 L420.3,288.2 L420.6,288.9 L421.0,289.8 L421.3,291.2 L421.8,292.0 L422.2,292.7 L422.7,293.2 L423.3,293.4 L424.0,294.1 L424.7,294.9 L425.5,294.8 L426.4,295.6 L427.1,295.7 L427.8,295.4 L428.5,295.5 L429.3,296.0 L430.1,295.5 L431.0,295.6 L431.9,295.6 L432.8,295.6 L433.8,296.4 L434.4,296.5 L435.1,296.4 L435.8,296.1 L436.5,296.3 L437.2,296.3 L437.9,296.0 L438.6,296.1 L439.3,295.7 L440.1,295.8 L440.9,295.9 L441.7,295.9 L442.5,296.2 L443.3,295.8 L444.1,295.8 L445.0,296.4 L445.9,296.3 L446.8,296.5 L447.7,296.3 L448.7,295.7 L449.6,296.0 L450.6,296.3 L451.2,296.3 L451.8,295.7 L452.5,296.0 L453.1,296.1 L453.8,295.5 L454.5,295.7 L455.2,296.2 L455.9,296.2 L456.6,295.9 L457.3,296.1 L458.0,296.0 L458.8,295.8 L459.5,295.6 L460.3,296.2 L461.0,296.3 L461.8,295.9 L462.6,296.3 L463.4,296.3 L464.2,296.2 L465.0,296.3 L465.8,296.5 L466.6,295.5 L467.5,296.4 L468.3,296.0 L469.1,296.3 L470.0,296.2 L470.8,295.6 L471.7,296.1 L472.5,295.6 L473.4,296.2 L474.2,295.8 L475.1,295.9 L476.0,295.8 L476.8,296.3 L477.7,296.1 L478.6,295.8 L479.4,296.2 L480.3,295.7 L481.2,296.3 L482.0,296.1 L482.9,296.3 L483.8,296.1 L484.6,296.5 L485.5,296.2 L486.4,296.0 L487.2,296.1 L488.1,296.1 L488.9,295.8 L489.8,295.8 L490.6,296.3 L491.5,296.3 L492.3,296.5 L493.1,296.2 L494.0,296.0 L494.8,295.9 L495.6,296.2 L496.4,296.1" fill="none" stroke="#3c3cb4" stroke-width="0.51" stroke-linejoin="round"/>
<line x1="398.9" y1="242" x2="398.9" y2="295" stroke="#d03030" stroke-width="1.2"/>
<line x1="398.3" y1="296" x2="495.8" y2="296" stroke="#1c1c2c" stroke-width="1"/>
<line x1="398.3" y1="217" x2="398.3" y2="296" stroke="#3a3a6a" stroke-width="1.3" stroke-dasharray="1.6,0.9"/>
<path d="M396.1,296 H398.6 M397.2,292.05 H398.6 M397.2,288.1 H398.6 M397.2,284.15 H398.6 M396.1,280.2 H398.6 M397.2,276.25 H398.6 M397.2,272.3 H398.6 M397.2,268.35 H398.6 M396.1,264.4 H398.6 M397.2,260.45 H398.6 M397.2,256.5 H398.6 M397.2,252.55 H398.6 M396.1,248.6 H398.6 M397.2,244.65 H398.6 M397.2,240.7 H398.6 M397.2,236.75 H398.6 M396.1,232.8 H398.6 M397.2,228.85 H398.6 M397.2,224.9 H398.6 M397.2,220.95 H398.6 M396.1,217 H398.6" stroke="#2a2a3a" stroke-width="0.75"/>
<path d="M398.3,295.7 V298 M405.64,295.7 V297.1 M409.93,295.7 V297.1 M412.98,295.7 V297.1 M415.34,295.7 V297.1 M417.27,295.7 V297.1 M418.9,295.7 V297.1 M420.31,295.7 V297.1 M421.56,295.7 V297.1 M422.68,295.7 V298 M430.01,295.7 V297.1 M434.3,295.7 V297.1 M437.35,295.7 V297.1 M439.71,295.7 V297.1 M441.64,295.7 V297.1 M443.27,295.7 V297.1 M444.69,295.7 V297.1 M445.93,295.7 V297.1 M447.05,295.7 V298 M454.39,295.7 V297.1 M458.68,295.7 V297.1 M461.73,295.7 V297.1 M464.09,295.7 V297.1 M466.02,295.7 V297.1 M467.65,295.7 V297.1 M469.06,295.7 V297.1 M470.31,295.7 V297.1 M471.43,295.7 V298 M478.76,295.7 V297.1 M483.05,295.7 V297.1 M486.1,295.7 V297.1 M488.46,295.7 V297.1 M490.39,295.7 V297.1 M492.02,295.7 V297.1 M493.44,295.7 V297.1 M494.68,295.7 V297.1 M495.8,296 V298" stroke="#3a3a3a" stroke-width="0.7"/>
<text transform="translate(395.7,296) rotate(-90)" font-size="3.4" text-anchor="middle" fill="#777">0</text>
<text transform="translate(395.7,280.2) rotate(-90)" font-size="3.4" text-anchor="middle" fill="#777">20</text>
<text transform="translate(395.7,264.4) rotate(-90)" font-size="3.4" text-anchor="middle" fill="#777">40</text>
<text transform="translate(395.7,248.6) rotate(-90)" font-size="3.4" text-anchor="middle" fill="#777">60</text>
<text transform="translate(395.7,232.8) rotate(-90)" font-size="3.4" text-anchor="middle" fill="#777">80</text>
<text transform="translate(395.7,217) rotate(-90)" font-size="3.4" text-anchor="middle" fill="#777">100</text>
<text x="398.6" y="302" font-size="3.8" text-anchor="middle" fill="#777">10<tspan font-size="2.8" dy="-1.5">0</tspan></text>
<text x="422.98" y="302" font-size="3.8" text-anchor="middle" fill="#777">10<tspan font-size="2.8" dy="-1.5">1</tspan></text>
<text x="447.35" y="302" font-size="3.8" text-anchor="middle" fill="#777">10<tspan font-size="2.8" dy="-1.5">2</tspan></text>
<text x="471.73" y="302" font-size="3.8" text-anchor="middle" fill="#777">10<tspan font-size="2.8" dy="-1.5">3</tspan></text>
<text x="496.1" y="302" font-size="3.8" text-anchor="middle" fill="#777">10<tspan font-size="2.8" dy="-1.5">4</tspan></text>
<text x="458.9" y="229.8" font-size="11.9" textLength="32.3" lengthAdjust="spacingAndGlyphs" fill="#111" stroke="#111" stroke-width="0.22">Calu-1</text>

<!-- B -->
<text x="18.2" y="330.6" font-size="17" font-weight="bold" fill="#000">B</text>
<rect x="50.5" y="333" width="437.5" height="25.6" fill="#e3e3e3"/>
<rect x="50.5" y="371.8" width="437.5" height="25.8" fill="#dfe6e3"/>
<rect x="265.6" y="371.6" width="10.6" height="10" fill="#bcc6c3" filter="url(#b1)"/>
<rect x="266.2" y="371.6" width="2.4" height="10" fill="#98a3a0" filter="url(#b1)"/>
<rect x="273.2" y="371.6" width="2.4" height="10" fill="#a4aeab" filter="url(#b1)"/>
<path d="M56.7,348.0 L56.8,347.1 L56.9,346.1 L57.2,345.2 L57.5,344.5 L58.1,343.9 L58.8,343.4 L59.6,343.0 L60.4,342.8 L61.2,342.7 L62.1,342.7 L63.1,342.6 L64.0,342.6 L64.8,342.6 L65.7,342.5 L66.6,342.5 L67.4,342.5 L68.3,342.5 L69.2,342.5 L70.0,342.5 L70.8,342.5 L71.6,342.5 L72.5,342.4 L73.3,342.4 L74.1,342.4 L75.0,342.4 L75.8,342.4 L76.7,342.4 L77.6,342.3 L78.4,342.3 L79.3,342.3 L80.1,342.3 L80.9,342.3 L81.7,342.4 L82.6,342.5 L83.4,342.7 L84.2,342.8 L85.0,343.1 L85.6,343.4 L86.4,344.0 L87.0,344.7 L87.5,345.5 L87.8,346.4 L88.0,347.5 L88.0,348.5 L88.0,349.5 L87.8,350.5 L87.6,351.5 L87.4,352.4 L87.2,353.3 L86.9,354.2 L86.5,355.0 L86.1,355.7 L85.7,356.4 L85.1,357.1 L84.5,357.7 L83.7,358.2 L83.2,358.4 L82.6,358.6 L81.9,358.7 L81.2,358.7 L80.4,358.8 L79.6,358.8 L78.8,358.8 L77.9,358.8 L77.0,358.8 L76.1,358.7 L75.1,358.7 L74.2,358.6 L73.3,358.5 L72.4,358.5 L71.6,358.4 L70.8,358.4 L70.0,358.4 L69.1,358.4 L68.2,358.5 L67.3,358.5 L66.4,358.6 L65.5,358.6 L64.6,358.7 L63.7,358.7 L62.9,358.8 L62.1,358.7 L61.4,358.7 L60.7,358.6 L60.1,358.4 L59.6,358.2 L58.8,357.6 L58.3,356.8 L57.9,355.9 L57.5,355.0 L57.2,354.2 L57.0,353.4 L56.9,352.6 L56.8,351.8 L56.7,351.0 L56.6,350.0 L56.6,349.0 Z" fill="#0a0a0a" filter="url(#b1)"/>
<rect x="64" y="354.2" width="18" height="4.6" fill="#4a4a4a" filter="url(#b2)" opacity="0.55"/>
<defs><linearGradient id="smg" x1="0" x2="1" y1="0" y2="0"><stop offset="0" stop-color="#c8c8c8"/><stop offset="0.35" stop-color="#d0d0d0"/><stop offset="1" stop-color="#dbdbdb"/></linearGradient></defs>
<rect x="459" y="347" width="23" height="10.5" rx="3" fill="url(#smg)" filter="url(#b2)"/>
<path d="M54.3,377.0 L54.3,376.0 L54.5,375.1 L55.0,374.3 L55.5,374.0 L56.2,373.8 L57.1,373.7 L58.0,373.7 L59.0,373.8 L60.0,373.8 L61.0,373.9 L62.0,373.9 L62.8,373.9 L63.6,374.0 L64.3,374.1 L65.2,374.2 L66.0,374.3 L66.8,374.4 L67.6,374.5 L68.4,374.6 L69.3,374.7 L70.1,374.8 L71.0,374.9 L71.8,375.0 L72.6,375.0 L73.5,375.0 L74.3,375.1 L75.2,375.1 L76.0,375.1 L76.9,375.2 L77.8,375.2 L78.6,375.2 L79.5,375.2 L80.3,375.2 L81.2,375.3 L82.0,375.3 L82.9,375.3 L83.7,375.3 L84.6,375.3 L85.5,375.3 L86.4,375.3 L87.3,375.2 L88.2,375.2 L89.0,375.3 L89.8,375.3 L90.5,375.4 L91.2,375.5 L91.8,375.7 L92.8,376.2 L93.7,376.7 L94.3,377.4 L94.8,378.1 L95.0,379.0 L95.1,380.1 L94.9,381.1 L94.4,381.9 L93.9,382.3 L93.3,382.6 L92.5,382.8 L91.6,382.9 L90.7,383.0 L89.7,383.1 L88.8,383.2 L88.0,383.3 L87.1,383.4 L86.2,383.5 L85.3,383.6 L84.5,383.7 L83.5,383.8 L82.6,383.9 L81.8,384.0 L81.0,384.1 L80.1,384.2 L79.3,384.4 L78.4,384.5 L77.5,384.6 L76.7,384.7 L75.8,384.8 L75.0,384.9 L74.1,385.0 L73.2,385.1 L72.3,385.1 L71.5,385.2 L70.6,385.2 L69.7,385.2 L68.8,385.1 L68.0,385.0 L67.2,384.9 L66.4,384.7 L65.6,384.5 L64.7,384.3 L63.9,384.0 L63.1,383.8 L62.2,383.5 L61.5,383.2 L60.7,382.9 L59.8,382.5 L58.9,382.2 L58.0,381.8 L57.1,381.3 L56.3,380.9 L55.6,380.4 L55.0,380.0 L54.6,379.5 L54.3,378.7 L54.2,377.9 Z" fill="#0e0303" filter="url(#b1)"/>
<path d="M55.0,376.9 L55.2,376.7 L55.8,376.5 L56.6,376.5 L57.6,376.4 L58.7,376.4 L59.9,376.4 L61.0,376.5 L62.0,376.5 L62.8,376.5 L63.6,376.6 L64.3,376.7 L65.2,376.8 L66.0,376.9 L66.8,377.0 L67.6,377.1 L68.4,377.2 L69.3,377.3 L70.1,377.4 L71.0,377.5 L71.8,377.6 L72.6,377.6 L73.5,377.6 L74.3,377.7 L75.2,377.7 L76.0,377.7 L76.9,377.8 L77.8,377.8 L78.6,377.8 L79.5,377.8 L80.3,377.8 L81.2,377.9 L82.0,377.9 L82.9,377.9 L83.9,377.9 L84.9,377.9 L86.0,377.9 L87.0,377.9 L88.1,377.8 L89.0,377.8 L89.9,377.9 L90.6,377.9 L91.2,378.0 L91.6,378.1 L91.8,378.3 L91.6,378.7 L90.9,379.3 L90.0,379.9 L89.0,380.5 L88.0,380.9 L87.2,381.1 L86.3,381.3 L85.4,381.3 L84.5,381.4 L83.6,381.4 L82.6,381.5 L81.8,381.6 L81.0,381.7 L80.1,381.8 L79.3,382.0 L78.4,382.1 L77.5,382.2 L76.7,382.3 L75.8,382.4 L75.0,382.5 L74.1,382.6 L73.2,382.7 L72.3,382.7 L71.5,382.8 L70.6,382.8 L69.7,382.8 L68.8,382.7 L68.0,382.6 L67.2,382.5 L66.4,382.3 L65.5,382.1 L64.7,381.9 L63.9,381.6 L63.0,381.4 L62.2,381.1 L61.4,380.8 L60.7,380.5 L59.8,380.1 L58.9,379.6 L57.9,379.1 L57.0,378.6 L56.2,378.1 L55.5,377.6 L55.1,377.2 Z" fill="#3e0d0b" opacity="0.9" filter="url(#b2)"/>
<path d="M124.8,381.3 L124.9,380.4 L125.0,379.5 L125.1,378.6 L125.4,377.7 L125.7,377.0 L126.3,376.4 L126.8,376.1 L127.4,375.9 L128.1,375.8 L128.9,375.8 L129.7,375.8 L130.6,375.8 L131.5,375.9 L132.5,376.0 L133.4,376.1 L134.4,376.2 L135.4,376.3 L136.4,376.4 L137.3,376.4 L138.1,376.4 L138.9,376.4 L139.7,376.4 L140.6,376.5 L141.5,376.5 L142.4,376.5 L143.3,376.5 L144.2,376.6 L145.1,376.6 L146.0,376.6 L146.9,376.6 L147.7,376.7 L148.6,376.7 L149.4,376.8 L150.2,376.8 L150.9,376.9 L151.6,376.9 L152.3,377.0 L153.3,377.1 L154.1,377.3 L154.9,377.4 L155.6,377.6 L156.4,377.7 L157.2,377.9 L158.0,378.0 L158.7,378.1 L159.5,378.2 L160.2,378.3 L161.0,378.4 L161.8,378.5 L162.6,378.5 L163.4,378.6 L164.2,378.7 L165.1,378.7 L166.0,378.8 L166.7,378.8 L167.5,378.9 L168.3,378.9 L169.1,378.9 L170.0,378.9 L170.9,378.9 L171.8,378.9 L172.6,378.9 L173.5,378.9 L174.4,378.9 L175.3,378.9 L176.2,378.9 L177.0,378.9 L177.8,378.9 L178.6,378.9 L179.3,378.9 L180.0,378.9 L180.9,378.9 L181.8,378.9 L182.6,379.0 L183.4,379.0 L184.2,379.0 L185.0,379.0 L185.7,379.0 L186.5,379.0 L187.3,379.0 L188.2,378.9 L189.0,378.8 L189.8,378.7 L190.7,378.6 L191.5,378.6 L192.3,378.6 L193.1,378.7 L193.9,378.8 L194.6,379.0 L195.4,379.2 L196.2,379.5 L197.1,379.6 L198.0,379.8 L198.7,379.9 L199.5,380.0 L200.2,380.0 L201.1,380.1 L201.9,380.2 L202.8,380.2 L203.7,380.3 L204.6,380.3 L205.4,380.3 L206.3,380.4 L207.2,380.4 L208.0,380.4 L208.8,380.4 L209.6,380.4 L210.5,380.4 L211.3,380.3 L212.2,380.2 L213.0,380.2 L213.8,380.1 L214.6,380.0 L215.4,379.9 L216.2,379.8 L217.0,379.8 L217.7,379.8 L218.6,379.8 L219.4,379.9 L220.1,380.0 L220.9,380.1 L221.7,380.2 L222.6,380.3 L223.5,380.4 L224.2,380.4 L225.0,380.4 L225.8,380.4 L226.6,380.4 L227.5,380.4 L228.3,380.4 L229.2,380.4 L230.1,380.4 L231.0,380.3 L231.8,380.3 L232.7,380.3 L233.5,380.3 L234.3,380.2 L235.0,380.2 L235.9,380.2 L236.7,380.1 L237.5,380.1 L238.2,380.0 L239.0,379.9 L239.8,379.9 L240.6,379.8 L241.5,379.8 L242.2,379.8 L243.0,379.7 L243.8,379.7 L244.7,379.6 L245.6,379.5 L246.5,379.5 L247.4,379.4 L248.3,379.4 L249.2,379.4 L250.0,379.4 L250.8,379.4 L251.6,379.5 L252.3,379.6 L253.0,379.8 L253.9,380.1 L254.7,380.5 L255.5,380.9 L256.3,381.3 L256.9,381.9 L257.4,382.4 L257.8,383.0 L258.1,383.9 L258.2,384.9 L258.1,385.9 L257.9,386.9 L257.5,387.7 L257.0,388.2 L256.4,388.7 L255.7,389.0 L254.8,389.3 L253.9,389.6 L253.0,389.8 L252.3,389.9 L251.6,390.0 L250.8,390.1 L250.0,390.1 L249.2,390.1 L248.3,390.1 L247.4,390.1 L246.5,390.0 L245.6,390.0 L244.7,389.9 L243.8,389.9 L243.0,389.8 L242.2,389.8 L241.5,389.8 L240.6,389.8 L239.8,389.8 L239.0,389.7 L238.2,389.7 L237.4,389.7 L236.7,389.6 L235.9,389.6 L235.0,389.6 L234.2,389.6 L233.4,389.6 L232.5,389.6 L231.6,389.7 L230.7,389.7 L229.8,389.7 L228.9,389.8 L228.0,389.7 L227.2,389.7 L226.5,389.6 L225.8,389.5 L224.8,389.1 L224.0,388.6 L223.2,388.1 L222.3,387.8 L221.6,387.8 L220.9,387.9 L220.2,388.1 L219.4,388.4 L218.5,388.7 L217.7,389.0 L216.8,389.4 L216.0,389.7 L215.1,389.9 L214.2,390.1 L213.4,390.2 L212.7,390.3 L211.9,390.4 L211.1,390.5 L210.3,390.6 L209.5,390.6 L208.6,390.7 L207.8,390.7 L207.0,390.7 L206.2,390.7 L205.4,390.7 L204.6,390.7 L203.8,390.7 L202.9,390.7 L202.0,390.6 L201.1,390.6 L200.2,390.5 L199.3,390.4 L198.4,390.3 L197.6,390.2 L196.7,390.1 L196.0,389.9 L195.2,389.7 L194.6,389.5 L193.8,389.1 L193.1,388.5 L192.5,387.9 L191.9,387.4 L191.2,387.2 L190.5,387.3 L189.8,387.5 L189.1,387.9 L188.3,388.3 L187.4,388.7 L186.5,389.0 L185.8,389.1 L185.1,389.2 L184.4,389.2 L183.6,389.2 L182.8,389.2 L182.0,389.1 L181.1,389.1 L180.3,389.0 L179.4,389.0 L178.5,388.9 L177.6,388.9 L176.7,388.8 L175.9,388.8 L175.0,388.8 L174.2,388.8 L173.3,388.8 L172.4,388.9 L171.5,388.9 L170.6,389.0 L169.6,389.0 L168.7,389.1 L167.8,389.1 L166.8,389.2 L165.9,389.2 L165.1,389.2 L164.3,389.2 L163.5,389.2 L162.8,389.2 L162.1,389.1 L161.5,389.0 L160.4,388.6 L159.6,388.0 L158.8,387.6 L158.0,387.4 L157.2,387.7 L156.5,388.3 L155.7,389.0 L154.6,389.5 L154.1,389.6 L153.5,389.7 L152.8,389.8 L152.1,389.9 L151.3,389.9 L150.5,390.0 L149.7,390.0 L148.8,390.0 L147.9,390.0 L146.9,390.0 L146.0,389.9 L145.1,389.9 L144.1,389.9 L143.2,389.8 L142.3,389.8 L141.3,389.7 L140.5,389.7 L139.6,389.6 L138.8,389.6 L138.0,389.5 L137.3,389.5 L136.3,389.5 L135.4,389.4 L134.4,389.4 L133.5,389.3 L132.6,389.3 L131.7,389.2 L130.8,389.1 L130.0,389.0 L129.3,388.9 L128.6,388.8 L128.0,388.6 L127.1,388.3 L126.3,388.0 L125.7,387.6 L125.2,387.0 L124.9,386.4 L124.7,385.7 L124.7,384.8 L124.6,383.9 L124.7,383.0 L124.7,382.1 Z" fill="#0e0303" filter="url(#b1)"/>
<ellipse cx="271.1" cy="384.5" rx="10.2" ry="5.4" fill="#0e0303" filter="url(#b1)"/>
<path d="M282.9,383.0 L283.2,382.3 L283.6,381.6 L284.2,380.9 L284.9,380.3 L285.8,379.8 L286.3,379.6 L286.9,379.5 L287.5,379.4 L288.1,379.3 L288.9,379.3 L289.6,379.2 L290.5,379.3 L291.3,379.3 L292.2,379.3 L293.1,379.4 L294.0,379.5 L294.9,379.5 L295.9,379.6 L296.8,379.7 L297.7,379.8 L298.7,379.9 L299.6,380.0 L300.5,380.1 L301.3,380.1 L302.2,380.2 L303.0,380.2 L303.9,380.2 L304.8,380.3 L305.7,380.3 L306.7,380.4 L307.6,380.5 L308.6,380.5 L309.5,380.6 L310.5,380.7 L311.4,380.8 L312.3,380.8 L313.2,380.9 L314.0,380.9 L314.8,380.9 L315.6,380.9 L316.3,380.9 L316.9,380.9 L317.5,380.9 L318.0,380.8 L318.9,380.5 L319.5,380.1 L320.4,379.8 L321.0,379.7 L321.6,379.7 L322.3,379.7 L323.0,379.7 L323.8,379.7 L324.7,379.8 L325.6,379.8 L326.5,379.9 L327.4,380.0 L328.3,380.0 L329.3,380.1 L330.2,380.1 L331.1,380.2 L332.0,380.2 L332.8,380.2 L333.6,380.2 L334.4,380.2 L335.3,380.1 L336.1,380.1 L337.0,380.1 L337.9,380.0 L338.8,380.0 L339.7,379.9 L340.5,379.9 L341.4,379.9 L342.2,379.8 L343.0,379.8 L343.8,379.8 L344.5,379.9 L345.2,379.9 L345.9,379.9 L346.5,380.0 L347.4,380.2 L348.3,380.4 L349.0,380.6 L349.7,380.9 L350.5,381.1 L351.2,381.4 L351.9,381.7 L352.6,382.0 L353.3,382.3 L354.1,382.6 L354.9,382.9 L355.8,383.1 L356.4,383.2 L357.1,383.3 L357.8,383.4 L358.5,383.4 L359.3,383.5 L360.2,383.5 L361.0,383.5 L361.9,383.5 L362.7,383.5 L363.6,383.6 L364.5,383.5 L365.4,383.5 L366.3,383.5 L367.1,383.5 L368.0,383.5 L368.8,383.5 L369.6,383.5 L370.5,383.5 L371.4,383.5 L372.3,383.5 L373.1,383.5 L374.0,383.5 L374.9,383.5 L375.8,383.5 L376.7,383.5 L377.5,383.5 L378.3,383.4 L379.1,383.4 L379.8,383.3 L380.5,383.2 L381.2,383.1 L382.1,382.9 L382.9,382.6 L383.6,382.3 L384.3,381.9 L385.1,381.6 L385.8,381.4 L386.7,381.2 L387.5,381.0 L388.4,380.8 L389.3,380.7 L390.4,380.6 L391.1,380.6 L391.8,380.5 L392.6,380.5 L393.5,380.6 L394.4,380.6 L395.3,380.6 L396.2,380.7 L397.1,380.7 L398.0,380.7 L398.9,380.8 L399.8,380.8 L400.7,380.8 L401.5,380.8 L402.4,380.8 L403.3,380.7 L404.2,380.6 L405.1,380.5 L406.0,380.4 L406.9,380.2 L407.8,380.2 L408.6,380.1 L409.4,380.1 L410.1,380.1 L410.8,380.2 L411.8,380.5 L412.6,380.9 L413.4,381.3 L414.1,381.8 L414.8,382.1 L415.6,382.4 L416.5,382.6 L417.0,382.6 L417.5,382.7 L418.2,382.7 L418.9,382.7 L419.6,382.7 L420.4,382.6 L421.3,382.6 L422.2,382.6 L423.1,382.5 L424.1,382.5 L425.0,382.4 L426.0,382.4 L426.9,382.3 L427.8,382.3 L428.7,382.3 L429.6,382.3 L430.4,382.3 L431.3,382.3 L432.2,382.3 L433.1,382.3 L434.0,382.4 L434.9,382.4 L435.9,382.4 L436.8,382.4 L437.7,382.4 L438.5,382.5 L439.4,382.5 L440.2,382.6 L441.0,382.7 L441.7,382.8 L442.4,382.9 L443.0,383.1 L444.0,383.4 L444.9,383.7 L445.7,384.1 L446.4,384.6 L446.8,385.1 L447.0,385.9 L447.0,387.0 L446.7,387.9 L446.3,388.7 L445.7,389.2 L445.0,389.4 L444.1,389.6 L443.0,389.8 L442.4,389.9 L441.7,390.0 L441.0,390.1 L440.3,390.2 L439.4,390.3 L438.6,390.4 L437.7,390.5 L436.8,390.6 L435.9,390.6 L435.0,390.7 L434.0,390.8 L433.1,390.8 L432.2,390.8 L431.3,390.9 L430.4,390.9 L429.6,390.9 L428.7,390.9 L427.8,390.9 L426.9,390.9 L426.0,390.9 L425.0,390.8 L424.1,390.8 L423.1,390.7 L422.2,390.7 L421.3,390.6 L420.4,390.6 L419.6,390.5 L418.9,390.5 L418.2,390.5 L417.5,390.4 L417.0,390.4 L416.5,390.4 L415.6,390.3 L414.8,390.4 L414.1,390.7 L413.4,391.1 L412.6,391.7 L411.8,392.2 L410.8,392.6 L410.1,392.8 L409.3,393.0 L408.5,393.1 L407.7,393.3 L406.8,393.4 L405.9,393.5 L404.9,393.6 L404.0,393.6 L403.1,393.7 L402.3,393.8 L401.5,393.8 L400.6,393.8 L399.8,393.9 L399.0,393.9 L398.2,393.9 L397.4,393.9 L396.6,393.9 L395.8,393.8 L395.0,393.7 L394.2,393.6 L393.4,393.3 L392.5,393.1 L391.6,392.8 L390.8,392.5 L389.9,392.2 L389.1,392.0 L388.3,391.8 L387.6,391.7 L387.0,391.6 L386.2,391.7 L385.5,392.0 L384.6,392.2 L384.0,392.3 L383.3,392.4 L382.6,392.5 L381.8,392.6 L381.0,392.7 L380.1,392.8 L379.2,392.9 L378.3,393.0 L377.3,393.1 L376.4,393.1 L375.4,393.2 L374.7,393.2 L373.9,393.3 L373.1,393.3 L372.3,393.3 L371.4,393.4 L370.6,393.4 L369.7,393.4 L368.7,393.5 L367.8,393.5 L366.9,393.5 L366.0,393.5 L365.1,393.5 L364.2,393.5 L363.3,393.5 L362.4,393.5 L361.6,393.5 L360.8,393.4 L360.0,393.4 L359.3,393.3 L358.6,393.3 L358.0,393.2 L357.0,393.0 L356.1,392.7 L355.2,392.4 L354.5,392.1 L353.7,391.8 L353.0,391.6 L352.3,391.6 L351.4,391.8 L350.6,392.3 L349.8,392.8 L348.8,393.2 L348.2,393.3 L347.5,393.4 L346.7,393.4 L345.9,393.4 L345.1,393.4 L344.2,393.4 L343.3,393.4 L342.5,393.3 L341.6,393.3 L340.8,393.3 L340.0,393.3 L339.2,393.3 L338.4,393.4 L337.6,393.4 L336.8,393.5 L336.0,393.6 L335.3,393.6 L334.5,393.7 L333.7,393.7 L332.8,393.7 L332.0,393.7 L331.2,393.7 L330.4,393.6 L329.5,393.6 L328.6,393.6 L327.7,393.5 L326.7,393.4 L325.8,393.4 L325.0,393.3 L324.1,393.2 L323.4,393.0 L322.7,392.9 L322.0,392.7 L321.5,392.5 L320.7,391.9 L320.1,391.3 L319.5,390.7 L318.8,390.3 L318.0,390.0 L317.0,389.8 L316.5,389.7 L315.9,389.6 L315.2,389.6 L314.5,389.5 L313.8,389.5 L313.0,389.4 L312.1,389.4 L311.3,389.4 L310.4,389.4 L309.4,389.3 L308.5,389.3 L307.6,389.3 L306.6,389.3 L305.7,389.3 L304.8,389.3 L303.9,389.2 L303.0,389.2 L302.2,389.2 L301.4,389.2 L300.5,389.2 L299.6,389.2 L298.7,389.2 L297.8,389.2 L296.8,389.2 L295.9,389.2 L294.9,389.2 L294.0,389.2 L293.1,389.2 L292.2,389.2 L291.3,389.2 L290.4,389.2 L289.6,389.2 L288.9,389.1 L288.1,389.0 L287.5,389.0 L286.8,388.9 L286.3,388.7 L285.8,388.6 L284.9,388.2 L284.2,387.8 L283.6,387.3 L283.2,386.7 L282.9,385.9 L282.7,384.9 L282.7,383.9 Z" fill="#0e0303" filter="url(#b1)"/>
<path d="M127.2,383.0 L127.4,382.1 L127.8,381.3 L128.5,380.6 L129.3,380.2 L130.3,379.9 L131.4,379.8 L132.1,379.8 L132.9,379.8 L133.8,379.8 L134.7,379.9 L135.7,380.0 L136.6,380.1 L137.6,380.1 L138.5,380.2 L139.3,380.2 L140.2,380.3 L141.1,380.4 L142.0,380.4 L142.9,380.5 L143.8,380.5 L144.6,380.5 L145.5,380.6 L146.4,380.6 L147.4,380.7 L148.3,380.7 L149.3,380.7 L150.2,380.8 L151.1,380.8 L151.9,380.9 L152.6,381.0 L153.6,381.1 L154.4,381.3 L155.0,381.6 L155.8,382.5 L156.1,383.5 L155.8,384.5 L155.0,385.4 L154.4,385.7 L153.6,385.9 L152.6,386.0 L151.9,386.1 L151.1,386.1 L150.2,386.1 L149.3,386.1 L148.3,386.1 L147.4,386.1 L146.4,386.1 L145.5,386.1 L144.6,386.1 L143.8,386.1 L142.9,386.1 L142.0,386.1 L141.1,386.1 L140.2,386.1 L139.3,386.1 L138.5,386.1 L137.6,386.2 L136.6,386.2 L135.7,386.2 L134.7,386.3 L133.8,386.3 L132.9,386.3 L132.1,386.3 L131.4,386.2 L130.3,386.0 L129.3,385.8 L128.5,385.4 L127.8,384.7 L127.4,383.9 Z" fill="#3e0d0b" opacity="0.9" filter="url(#b2)"/>
<path d="M161.4,383.9 L161.7,383.2 L162.2,382.6 L163.0,382.3 L164.1,382.2 L164.8,382.2 L165.5,382.1 L166.3,382.1 L167.2,382.1 L168.1,382.1 L169.0,382.2 L170.0,382.2 L170.9,382.2 L171.7,382.2 L172.6,382.2 L173.4,382.2 L174.3,382.2 L175.1,382.2 L175.9,382.2 L176.8,382.2 L177.6,382.2 L178.5,382.2 L179.3,382.2 L180.2,382.2 L181.1,382.2 L182.0,382.2 L183.0,382.1 L183.9,382.1 L184.8,382.1 L185.6,382.1 L186.3,382.2 L186.9,382.2 L188.0,382.3 L188.8,382.6 L189.3,383.2 L189.6,383.9 L189.3,384.6 L188.8,385.2 L188.0,385.5 L186.9,385.6 L186.3,385.7 L185.6,385.7 L184.8,385.7 L183.9,385.7 L183.0,385.7 L182.0,385.7 L181.1,385.6 L180.2,385.6 L179.3,385.6 L178.5,385.6 L177.6,385.6 L176.8,385.6 L175.9,385.6 L175.1,385.7 L174.3,385.7 L173.4,385.7 L172.6,385.7 L171.7,385.7 L170.9,385.7 L170.0,385.7 L169.0,385.7 L168.1,385.7 L167.2,385.8 L166.3,385.8 L165.5,385.8 L164.8,385.7 L164.2,385.7 L163.0,385.6 L162.2,385.3 L161.7,384.7 Z" fill="#3e0d0b" opacity="0.9" filter="url(#b2)"/>
<path d="M194.9,384.9 L195.2,384.0 L195.8,383.3 L196.8,383.0 L198.0,382.8 L198.7,382.8 L199.6,382.8 L200.5,382.8 L201.4,382.9 L202.4,382.9 L203.4,383.0 L204.3,383.1 L205.2,383.1 L206.1,383.1 L207.0,383.2 L207.9,383.2 L208.8,383.3 L209.7,383.3 L210.6,383.3 L211.5,383.4 L212.5,383.4 L213.5,383.4 L214.5,383.4 L215.4,383.5 L216.2,383.5 L216.9,383.6 L218.0,383.7 L218.8,384.0 L219.3,384.6 L219.6,385.3 L219.3,386.0 L218.8,386.6 L218.0,386.9 L216.9,387.0 L216.2,387.1 L215.4,387.1 L214.5,387.1 L213.5,387.1 L212.5,387.0 L211.5,387.0 L210.6,387.0 L209.7,387.0 L208.8,387.0 L207.9,387.0 L207.0,387.0 L206.1,387.0 L205.2,387.0 L204.3,387.0 L203.4,387.0 L202.4,387.0 L201.4,387.1 L200.5,387.1 L199.6,387.1 L198.7,387.1 L198.0,387.0 L196.8,386.8 L195.8,386.5 L195.2,385.8 Z" fill="#3e0d0b" opacity="0.9" filter="url(#b2)"/>
<path d="M224.9,384.8 L225.1,384.2 L225.6,383.8 L226.3,383.5 L227.3,383.4 L228.0,383.3 L228.8,383.3 L229.7,383.3 L230.7,383.3 L231.7,383.3 L232.7,383.3 L233.6,383.3 L234.5,383.3 L235.4,383.3 L236.3,383.3 L237.2,383.2 L238.1,383.2 L239.0,383.2 L239.9,383.2 L240.9,383.2 L241.8,383.2 L242.7,383.2 L243.6,383.1 L244.5,383.1 L245.4,383.1 L246.3,383.1 L247.2,383.1 L248.2,383.0 L249.2,383.0 L250.1,383.0 L251.1,382.9 L251.9,383.0 L252.6,383.0 L253.7,383.1 L254.6,383.5 L255.1,384.1 L255.4,384.8 L255.1,385.5 L254.6,386.2 L253.7,386.5 L252.6,386.6 L251.9,386.6 L251.1,386.7 L250.1,386.6 L249.2,386.6 L248.2,386.6 L247.2,386.5 L246.3,386.5 L245.4,386.5 L244.5,386.5 L243.6,386.5 L242.7,386.4 L241.8,386.4 L240.9,386.4 L239.9,386.4 L239.0,386.4 L238.1,386.4 L237.2,386.4 L236.3,386.3 L235.4,386.3 L234.5,386.3 L233.6,386.3 L232.7,386.3 L231.7,386.3 L230.7,386.3 L229.7,386.3 L228.8,386.3 L228.0,386.3 L227.3,386.2 L226.3,386.1 L225.6,385.8 L225.1,385.4 Z" fill="#3e0d0b" opacity="0.9" filter="url(#b2)"/>
<path d="M264.0,384.5 L264.3,383.6 L264.9,382.9 L265.9,382.6 L267.1,382.4 L267.8,382.4 L268.7,382.4 L269.6,382.4 L270.4,382.5 L271.3,382.5 L272.2,382.5 L273.1,382.5 L273.9,382.5 L274.8,382.5 L275.5,382.6 L276.7,382.8 L277.6,383.1 L278.2,383.8 L278.5,384.6 L278.2,385.4 L277.6,386.1 L276.7,386.5 L275.5,386.6 L274.8,386.7 L273.9,386.7 L273.1,386.6 L272.2,386.6 L271.3,386.6 L270.4,386.6 L269.6,386.6 L268.7,386.7 L267.8,386.7 L267.1,386.6 L265.9,386.4 L264.9,386.1 L264.3,385.4 Z" fill="#3e0d0b" opacity="0.9" filter="url(#b2)"/>
<path d="M285.3,384.4 L285.5,383.9 L286.0,383.5 L286.6,383.3 L287.5,383.2 L288.1,383.2 L288.9,383.2 L289.7,383.2 L290.6,383.3 L291.6,383.3 L292.5,383.4 L293.5,383.4 L294.4,383.4 L295.2,383.5 L296.1,383.5 L296.9,383.5 L297.8,383.6 L298.6,383.6 L299.5,383.6 L300.3,383.7 L301.2,383.7 L302.1,383.7 L302.9,383.8 L303.8,383.8 L304.6,383.8 L305.5,383.9 L306.3,383.9 L307.2,383.9 L308.1,383.9 L308.9,384.0 L309.9,384.0 L310.8,384.0 L311.8,384.0 L312.7,384.1 L313.5,384.1 L314.3,384.1 L314.9,384.2 L315.8,384.3 L316.4,384.5 L316.9,384.9 L317.1,385.4 L316.9,385.9 L316.4,386.3 L315.8,386.5 L314.9,386.6 L314.3,386.6 L313.5,386.6 L312.7,386.6 L311.8,386.5 L310.8,386.5 L309.9,386.4 L308.9,386.4 L308.1,386.4 L307.2,386.3 L306.3,386.3 L305.5,386.3 L304.6,386.2 L303.8,386.2 L302.9,386.2 L302.1,386.1 L301.2,386.1 L300.3,386.1 L299.5,386.0 L298.6,386.0 L297.8,386.0 L296.9,385.9 L296.1,385.9 L295.2,385.9 L294.4,385.9 L293.5,385.8 L292.5,385.8 L291.6,385.8 L290.6,385.8 L289.7,385.7 L288.9,385.7 L288.1,385.7 L287.5,385.6 L286.6,385.5 L286.0,385.3 L285.5,384.9 Z" fill="#3e0d0b" opacity="0.9" filter="url(#b2)"/>
<path d="M322.4,386.4 L322.6,385.6 L323.1,384.7 L323.7,383.9 L324.6,383.5 L325.6,383.3 L326.8,383.1 L327.5,383.0 L328.3,383.0 L329.2,383.1 L330.1,383.1 L331.0,383.2 L331.9,383.2 L332.8,383.3 L333.7,383.3 L334.5,383.3 L335.4,383.3 L336.3,383.4 L337.1,383.4 L338.0,383.4 L338.9,383.4 L339.8,383.4 L340.7,383.4 L341.6,383.4 L342.5,383.5 L343.4,383.5 L344.2,383.5 L345.0,383.6 L346.1,383.8 L347.0,384.0 L347.9,384.4 L348.5,385.1 L348.9,385.9 L349.1,386.8 L348.9,387.6 L348.5,388.4 L347.9,389.1 L347.0,389.5 L346.1,389.8 L345.0,389.9 L344.2,390.0 L343.4,390.0 L342.5,390.0 L341.6,390.0 L340.7,389.9 L339.8,389.9 L338.9,389.9 L338.0,389.9 L337.1,389.9 L336.3,389.9 L335.4,389.8 L334.6,389.8 L333.7,389.8 L332.8,389.8 L331.9,389.8 L331.0,389.9 L330.1,389.9 L329.2,389.9 L328.3,389.9 L327.5,389.9 L326.8,389.8 L325.6,389.6 L324.6,389.4 L323.7,389.0 L323.1,388.2 L322.6,387.3 Z" fill="#3e0d0b" opacity="0.9" filter="url(#b2)"/>
<path d="M354.9,388.2 L355.2,387.5 L355.7,386.8 L356.6,386.5 L357.7,386.4 L358.3,386.3 L359.1,386.3 L360.0,386.3 L360.9,386.3 L361.8,386.3 L362.8,386.4 L363.8,386.4 L364.8,386.4 L365.7,386.4 L366.6,386.4 L367.4,386.4 L368.3,386.4 L369.2,386.4 L370.1,386.4 L371.0,386.4 L371.9,386.4 L372.7,386.4 L373.6,386.4 L374.6,386.4 L375.5,386.4 L376.5,386.4 L377.5,386.3 L378.5,386.3 L379.4,386.3 L380.2,386.3 L381.0,386.4 L381.6,386.4 L382.6,386.5 L383.4,386.8 L383.9,387.3 L384.1,387.9 L383.9,388.5 L383.4,389.0 L382.6,389.3 L381.6,389.4 L381.0,389.5 L380.2,389.5 L379.4,389.5 L378.5,389.5 L377.5,389.6 L376.5,389.6 L375.5,389.6 L374.6,389.6 L373.6,389.6 L372.7,389.6 L371.9,389.6 L371.0,389.7 L370.1,389.7 L369.2,389.7 L368.3,389.7 L367.4,389.8 L366.6,389.8 L365.7,389.8 L364.8,389.8 L363.8,389.9 L362.8,389.9 L361.8,390.0 L360.9,390.0 L360.0,390.0 L359.1,390.1 L358.3,390.0 L357.7,390.0 L356.6,389.9 L355.7,389.6 L355.2,388.9 Z" fill="#3e0d0b" opacity="0.9" filter="url(#b2)"/>
<path d="M389.9,387.2 L390.1,386.3 L390.6,385.4 L391.2,384.7 L392.1,384.2 L393.1,384.0 L394.3,383.8 L395.0,383.7 L395.7,383.7 L396.5,383.7 L397.4,383.7 L398.2,383.7 L399.1,383.7 L400.0,383.7 L400.9,383.7 L401.7,383.7 L402.5,383.7 L403.4,383.6 L404.3,383.6 L405.2,383.6 L406.1,383.5 L406.9,383.5 L407.7,383.5 L408.5,383.5 L409.1,383.6 L410.1,383.7 L410.9,383.9 L411.6,384.2 L412.3,385.1 L412.6,386.1 L412.3,387.1 L411.6,388.0 L410.9,388.3 L410.1,388.4 L409.1,388.6 L408.5,388.7 L407.7,388.8 L406.9,388.9 L406.1,389.1 L405.2,389.2 L404.3,389.3 L403.4,389.4 L402.5,389.5 L401.7,389.6 L400.9,389.7 L400.0,389.9 L399.1,390.0 L398.2,390.2 L397.4,390.3 L396.5,390.5 L395.7,390.6 L395.0,390.6 L394.3,390.6 L393.1,390.5 L392.1,390.2 L391.2,389.8 L390.6,389.0 L390.1,388.1 Z" fill="#3e0d0b" opacity="0.9" filter="url(#b2)"/>
<path d="M418.4,386.6 L418.6,386.3 L418.9,386.0 L419.5,385.9 L420.2,385.8 L420.8,385.8 L421.5,385.8 L422.3,385.8 L423.2,385.8 L424.2,385.9 L425.1,385.9 L426.1,385.9 L427.1,386.0 L428.0,386.0 L428.8,386.0 L429.7,386.0 L430.6,386.1 L431.4,386.1 L432.3,386.1 L433.1,386.1 L434.0,386.2 L434.9,386.2 L435.7,386.2 L436.6,386.2 L437.6,386.2 L438.6,386.3 L439.6,386.3 L440.6,386.3 L441.5,386.3 L442.3,386.4 L443.0,386.4 L443.5,386.4 L444.0,386.4 L444.3,386.4 L444.5,386.5 L444.6,386.5 L444.5,386.5 L444.3,386.6 L444.0,386.6 L443.5,386.6 L443.0,386.6 L442.3,386.6 L441.5,386.7 L440.6,386.7 L439.6,386.7 L438.6,386.8 L437.6,386.8 L436.6,386.8 L435.7,386.9 L434.9,386.9 L434.0,386.9 L433.1,387.0 L432.3,387.0 L431.4,387.0 L430.6,387.0 L429.7,387.1 L428.8,387.1 L428.0,387.1 L427.1,387.2 L426.1,387.2 L425.1,387.3 L424.2,387.3 L423.2,387.4 L422.3,387.4 L421.5,387.4 L420.8,387.4 L420.2,387.4 L419.5,387.3 L418.9,387.2 L418.6,386.9 Z" fill="#3e0d0b" opacity="0.9" filter="url(#b2)"/>
<text x="78" y="413.7" font-size="11" text-anchor="middle" fill="#1a1a1a" stroke="#1a1a1a" stroke-width="0.18">1</text>
<text x="108" y="413.7" font-size="11" text-anchor="middle" fill="#1a1a1a" stroke="#1a1a1a" stroke-width="0.18">2</text>
<text x="141" y="413.7" font-size="11" text-anchor="middle" fill="#1a1a1a" stroke="#1a1a1a" stroke-width="0.18">3</text>
<text x="170.5" y="413.7" font-size="11" text-anchor="middle" fill="#1a1a1a" stroke="#1a1a1a" stroke-width="0.18">4</text>
<text x="206.3" y="413.7" font-size="11" text-anchor="middle" fill="#1a1a1a" stroke="#1a1a1a" stroke-width="0.18">5</text>
<text x="239.8" y="413.7" font-size="11" text-anchor="middle" fill="#1a1a1a" stroke="#1a1a1a" stroke-width="0.18">6</text>
<text x="272.6" y="413.7" font-size="11" text-anchor="middle" fill="#1a1a1a" stroke="#1a1a1a" stroke-width="0.18">7</text>
<text x="299.6" y="413.7" font-size="11" text-anchor="middle" fill="#1a1a1a" stroke="#1a1a1a" stroke-width="0.18">8</text>
<text x="332" y="413.7" font-size="11" text-anchor="middle" fill="#1a1a1a" stroke="#1a1a1a" stroke-width="0.18">9</text>
<text x="369.6" y="413.7" font-size="11" text-anchor="middle" fill="#1a1a1a" stroke="#1a1a1a" stroke-width="0.18">10</text>
<text x="401" y="413.7" font-size="11" text-anchor="middle" fill="#1a1a1a" stroke="#1a1a1a" stroke-width="0.18">11</text>
<text x="432.6" y="413.7" font-size="11" text-anchor="middle" fill="#1a1a1a" stroke="#1a1a1a" stroke-width="0.18">12</text>
<text x="457" y="413.7" font-size="11" text-anchor="middle" fill="#1a1a1a" stroke="#1a1a1a" stroke-width="0.18">13</text>
<text x="478.4" y="413.7" font-size="11" text-anchor="middle" fill="#1a1a1a" stroke="#1a1a1a" stroke-width="0.18">14</text>
<text x="273.5" y="430.3" font-size="12" text-anchor="middle" fill="#1a1a1a" stroke="#1a1a1a" stroke-width="0.18">Lanes</text>
</svg>
</body></html>
